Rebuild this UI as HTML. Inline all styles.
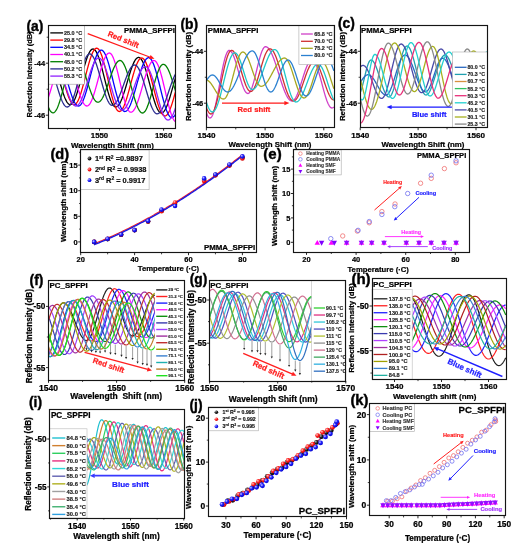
<!DOCTYPE html>
<html><head><meta charset="utf-8"><title>Figure</title>
<style>html,body{margin:0;padding:0;background:#fff;} svg{display:block;}</style>
</head><body>
<svg width="517" height="550" viewBox="0 0 517 550" font-family='"Liberation Sans", Arial, sans-serif' font-weight="bold">
<defs><clipPath id="ca"><rect x="48.3" y="25.3" width="127.50000000000001" height="102.89999999999999"/></clipPath><clipPath id="cb"><rect x="206.4" y="25.3" width="127.70000000000002" height="102.5"/></clipPath><clipPath id="cc"><rect x="360.2" y="25.3" width="127.19999999999999" height="102.4"/></clipPath><clipPath id="cf"><rect x="48.5" y="280.9" width="106.30000000000001" height="99.40000000000003"/></clipPath><clipPath id="cg"><rect x="209.6" y="281.2" width="136.20000000000002" height="99.80000000000001"/></clipPath><clipPath id="ch"><rect x="372.0" y="279.4" width="134.0" height="100.10000000000002"/></clipPath><clipPath id="ci"><rect x="87.0" y="409.8" width="97.5" height="108.19999999999999"/></clipPath>
<radialGradient id="gk" cx="0.35" cy="0.35" r="0.7"><stop offset="0" stop-color="#bbb"/><stop offset="0.45" stop-color="#222"/><stop offset="1" stop-color="#000"/></radialGradient>
<radialGradient id="gr" cx="0.35" cy="0.35" r="0.7"><stop offset="0" stop-color="#ffd0d0"/><stop offset="0.45" stop-color="#ff2020"/><stop offset="1" stop-color="#d00000"/></radialGradient>
<radialGradient id="gb" cx="0.35" cy="0.35" r="0.7"><stop offset="0" stop-color="#d0d0ff"/><stop offset="0.45" stop-color="#2020ff"/><stop offset="1" stop-color="#0000c8"/></radialGradient>
</defs>
<rect width="517" height="550" fill="#fff"/>
<polyline points="48.30,52.20 48.80,52.49 49.30,52.90 49.80,53.43 50.30,54.07 50.80,54.83 51.30,55.71 51.80,56.69 52.30,57.77 52.80,58.95 53.30,60.22 53.80,61.58 54.30,63.02 54.80,64.53 55.30,66.10 55.80,67.74 56.30,69.42 56.80,71.14 57.30,72.90 57.80,74.69 58.30,76.49 58.80,78.30 59.30,80.11 59.80,81.91 60.30,83.70 60.80,85.46 61.30,87.18 61.80,88.86 62.30,90.50 62.80,92.07 63.30,93.58 63.80,95.02 64.30,96.38 64.80,97.65 65.30,98.83 65.80,99.91 66.30,100.89 66.80,101.77 67.30,102.53 67.80,103.17 68.30,103.70 68.80,104.11 69.30,104.40 69.80,104.56 70.30,104.60 70.80,104.51 71.30,104.28 71.80,103.93 72.30,103.44 72.80,102.84 73.30,102.10 73.80,101.25 74.30,100.28 74.80,99.20 75.30,98.01 75.80,96.73 76.30,95.34 76.80,93.88 77.30,92.32 77.80,90.70 78.30,89.01 78.80,87.26 79.30,85.46 79.80,83.62 80.30,81.75 80.80,79.86 81.30,77.95 81.80,76.03 82.30,74.12 82.80,72.22 83.30,70.35 83.80,68.50 84.30,66.69 84.80,64.94 85.30,63.23 85.80,61.59 86.30,60.03 86.80,58.54 87.30,57.14 87.80,55.84 88.30,54.63 88.80,53.53 89.30,52.54 89.80,51.66 90.30,50.90 90.80,50.27 91.30,49.76 91.80,49.38 92.30,49.13 92.80,49.01 93.30,49.02 93.80,49.18 94.30,49.46 94.80,49.89 95.30,50.44 95.80,51.13 96.30,51.95 96.80,52.89 97.30,53.94 97.80,55.11 98.30,56.40 98.80,57.78 99.30,59.26 99.80,60.83 100.30,62.47 100.80,64.20 101.30,65.99 101.80,67.83 102.30,69.73 102.80,71.66 103.30,73.62 103.80,75.61 104.30,77.60 104.80,79.60 105.30,81.59 105.80,83.56 106.30,85.51 106.80,87.42 107.30,89.28 107.80,91.09 108.30,92.84 108.80,94.52 109.30,96.13 109.80,97.64 110.30,99.06 110.80,100.39 111.30,101.60 111.80,102.71 112.30,103.69 112.80,104.56 113.30,105.30 113.80,105.91 114.30,106.38 114.80,106.73 115.30,106.93 115.80,107.00 116.30,106.94 116.80,106.76 117.30,106.47 117.80,106.06 118.30,105.54 118.80,104.91 119.30,104.17 119.80,103.33 120.30,102.38 120.80,101.34 121.30,100.21 121.80,99.00 122.30,97.70 122.80,96.33 123.30,94.89 123.80,93.40 124.30,91.85 124.80,90.25 125.30,88.62 125.80,86.95 126.30,85.27 126.80,83.57 127.30,81.86 127.80,80.15 128.30,78.46 128.80,76.78 129.30,75.12 129.80,73.50 130.30,71.93 130.80,70.40 131.30,68.92 131.80,67.51 132.30,66.17 132.80,64.91 133.30,63.72 133.80,62.63 134.30,61.63 134.80,60.72 135.30,59.92 135.80,59.22 136.30,58.64 136.80,58.16 137.30,57.80 137.80,57.55 138.30,57.42 138.80,57.41 139.30,57.53 139.80,57.78 140.30,58.16 140.80,58.67 141.30,59.30 141.80,60.06 142.30,60.94 142.80,61.93 143.30,63.03 143.80,64.24 144.30,65.54 144.80,66.94 145.30,68.43 145.80,69.99 146.30,71.63 146.80,73.34 147.30,75.09 147.80,76.90 148.30,78.75 148.80,80.62 149.30,82.52 149.80,84.43 150.30,86.35 150.80,88.26 151.30,90.15 151.80,92.02 152.30,93.86 152.80,95.66 153.30,97.41 153.80,99.10 154.30,100.72 154.80,102.28 155.30,103.74 155.80,105.13 156.30,106.41 156.80,107.60 157.30,108.68 157.80,109.65 158.30,110.50 158.80,111.24 159.30,111.84 159.80,112.33 160.30,112.68 160.80,112.91 161.30,113.00 161.80,112.96 162.30,112.80 162.80,112.52 163.30,112.12 163.80,111.59 164.30,110.96 164.80,110.20 165.30,109.34 165.80,108.38 166.30,107.31 166.80,106.15 167.30,104.89 167.80,103.56 168.30,102.14 168.80,100.66 169.30,99.11 169.80,97.50 170.30,95.85 170.80,94.16 171.30,92.43 171.80,90.68 172.30,88.92 172.80,87.15 173.30,85.38 173.80,83.62 174.30,81.88 174.80,80.16 175.30,78.48 175.80,76.85" fill="none" stroke="#000000" stroke-width="1.3" stroke-linejoin="round" clip-path="url(#ca)"/>
<polyline points="48.30,54.91 48.80,54.13 49.30,53.46 49.80,52.92 50.30,52.50 50.80,52.21 51.30,52.04 51.80,52.00 52.30,52.09 52.80,52.31 53.30,52.65 53.80,53.12 54.30,53.71 54.80,54.43 55.30,55.25 55.80,56.19 56.30,57.24 56.80,58.39 57.30,59.64 57.80,60.98 58.30,62.40 58.80,63.90 59.30,65.47 59.80,67.10 60.30,68.79 60.80,70.52 61.30,72.29 61.80,74.10 62.30,75.92 62.80,77.75 63.30,79.58 63.80,81.41 64.30,83.23 64.80,85.02 65.30,86.78 65.80,88.49 66.30,90.16 66.80,91.77 67.30,93.31 67.80,94.78 68.30,96.17 68.80,97.47 69.30,98.68 69.80,99.79 70.30,100.80 70.80,101.69 71.30,102.47 71.80,103.14 72.30,103.68 72.80,104.10 73.30,104.39 73.80,104.56 74.30,104.60 74.80,104.50 75.30,104.27 75.80,103.90 76.30,103.40 76.80,102.76 77.30,102.00 77.80,101.11 78.30,100.10 78.80,98.98 79.30,97.75 79.80,96.41 80.30,94.98 80.80,93.45 81.30,91.84 81.80,90.16 82.30,88.41 82.80,86.60 83.30,84.74 83.80,82.84 84.30,80.91 84.80,78.96 85.30,76.99 85.80,75.02 86.30,73.06 86.80,71.12 87.30,69.20 87.80,67.31 88.30,65.47 88.80,63.69 89.30,61.96 89.80,60.31 90.30,58.73 90.80,57.24 91.30,55.84 91.80,54.55 92.30,53.36 92.80,52.28 93.30,51.32 93.80,50.48 94.30,49.77 94.80,49.19 95.30,48.74 95.80,48.42 96.30,48.24 96.80,48.20 97.30,48.31 97.80,48.57 98.30,48.98 98.80,49.54 99.30,50.24 99.80,51.09 100.30,52.08 100.80,53.20 101.30,54.45 101.80,55.83 102.30,57.32 102.80,58.91 103.30,60.61 103.80,62.40 104.30,64.28 104.80,66.23 105.30,68.25 105.80,70.32 106.30,72.44 106.80,74.59 107.30,76.78 107.80,78.97 108.30,81.17 108.80,83.36 109.30,85.54 109.80,87.69 110.30,89.80 110.80,91.86 111.30,93.86 111.80,95.80 112.30,97.66 112.80,99.44 113.30,101.12 113.80,102.69 114.30,104.16 114.80,105.51 115.30,106.73 115.80,107.83 116.30,108.79 116.80,109.61 117.30,110.28 117.80,110.81 118.30,111.19 118.80,111.42 119.30,111.50 119.80,111.43 120.30,111.24 120.80,110.91 121.30,110.45 121.80,109.87 122.30,109.17 122.80,108.34 123.30,107.40 123.80,106.35 124.30,105.19 124.80,103.93 125.30,102.57 125.80,101.13 126.30,99.61 126.80,98.02 127.30,96.36 127.80,94.64 128.30,92.87 128.80,91.07 129.30,89.23 129.80,87.37 130.30,85.50 130.80,83.62 131.30,81.75 131.80,79.90 132.30,78.07 132.80,76.27 133.30,74.51 133.80,72.81 134.30,71.16 134.80,69.58 135.30,68.07 135.80,66.65 136.30,65.31 136.80,64.07 137.30,62.93 137.80,61.90 138.30,60.98 138.80,60.18 139.30,59.50 139.80,58.94 140.30,58.51 140.80,58.21 141.30,58.04 141.80,58.00 142.30,58.10 142.80,58.32 143.30,58.68 143.80,59.16 144.30,59.78 144.80,60.52 145.30,61.38 145.80,62.36 146.30,63.45 146.80,64.65 147.30,65.95 147.80,67.34 148.30,68.83 148.80,70.40 149.30,72.05 149.80,73.76 150.30,75.54 150.80,77.37 151.30,79.24 151.80,81.15 152.30,83.08 152.80,85.04 153.30,87.00 153.80,88.96 154.30,90.92 154.80,92.85 155.30,94.76 155.80,96.63 156.30,98.46 156.80,100.24 157.30,101.95 157.80,103.60 158.30,105.17 158.80,106.66 159.30,108.05 159.80,109.35 160.30,110.55 160.80,111.64 161.30,112.62 161.80,113.48 162.30,114.22 162.80,114.84 163.30,115.32 163.80,115.68 164.30,115.90 164.80,116.00 165.30,115.96 165.80,115.79 166.30,115.49 166.80,115.06 167.30,114.50 167.80,113.82 168.30,113.02 168.80,112.11 169.30,111.08 169.80,109.94 170.30,108.71 170.80,107.38 171.30,105.96 171.80,104.46 172.30,102.89 172.80,101.26 173.30,99.56 173.80,97.82 174.30,96.04 174.80,94.23 175.30,92.40 175.80,90.55" fill="none" stroke="#ff0000" stroke-width="1.3" stroke-linejoin="round" clip-path="url(#ca)"/>
<polyline points="48.30,65.59 48.80,64.15 49.30,62.78 49.80,61.49 50.30,60.29 50.80,59.18 51.30,58.16 51.80,57.25 52.30,56.44 52.80,55.75 53.30,55.17 53.80,54.70 54.30,54.35 54.80,54.12 55.30,54.01 55.80,54.02 56.30,54.16 56.80,54.41 57.30,54.78 57.80,55.27 58.30,55.88 58.80,56.60 59.30,57.42 59.80,58.36 60.30,59.39 60.80,60.52 61.30,61.74 61.80,63.05 62.30,64.43 62.80,65.89 63.30,67.41 63.80,68.99 64.30,70.63 64.80,72.30 65.30,74.02 65.80,75.76 66.30,77.52 66.80,79.29 67.30,81.07 67.80,82.84 68.30,84.59 68.80,86.33 69.30,88.03 69.80,89.70 70.30,91.33 70.80,92.90 71.30,94.41 71.80,95.85 72.30,97.22 72.80,98.51 73.30,99.71 73.80,100.82 74.30,101.84 74.80,102.75 75.30,103.56 75.80,104.25 76.30,104.83 76.80,105.30 77.30,105.65 77.80,105.88 78.30,105.99 78.80,105.98 79.30,105.83 79.80,105.55 80.30,105.14 80.80,104.60 81.30,103.93 81.80,103.14 82.30,102.22 82.80,101.20 83.30,100.06 83.80,98.81 84.30,97.47 84.80,96.03 85.30,94.51 85.80,92.91 86.30,91.24 86.80,89.50 87.30,87.71 87.80,85.87 88.30,84.00 88.80,82.10 89.30,80.18 89.80,78.24 90.30,76.31 90.80,74.39 91.30,72.48 91.80,70.60 92.30,68.75 92.80,66.95 93.30,65.21 93.80,63.52 94.30,61.90 94.80,60.37 95.30,58.91 95.80,57.55 96.30,56.28 96.80,55.12 97.30,54.07 97.80,53.14 98.30,52.32 98.80,51.63 99.30,51.06 99.80,50.62 100.30,50.32 100.80,50.14 101.30,50.10 101.80,50.20 102.30,50.43 102.80,50.79 103.30,51.28 103.80,51.91 104.30,52.66 104.80,53.53 105.30,54.52 105.80,55.63 106.30,56.85 106.80,58.18 107.30,59.60 107.80,61.12 108.30,62.72 108.80,64.41 109.30,66.16 109.80,67.98 110.30,69.86 110.80,71.78 111.30,73.74 111.80,75.74 112.30,77.75 112.80,79.78 113.30,81.82 113.80,83.85 114.30,85.86 114.80,87.86 115.30,89.82 115.80,91.74 116.30,93.62 116.80,95.44 117.30,97.19 117.80,98.88 118.30,100.48 118.80,102.00 119.30,103.42 119.80,104.75 120.30,105.97 120.80,107.08 121.30,108.07 121.80,108.94 122.30,109.69 122.80,110.32 123.30,110.81 123.80,111.17 124.30,111.40 124.80,111.50 125.30,111.46 125.80,111.31 126.30,111.04 126.80,110.65 127.30,110.15 127.80,109.54 128.30,108.81 128.80,107.98 129.30,107.05 129.80,106.02 130.30,104.90 130.80,103.68 131.30,102.39 131.80,101.01 132.30,99.56 132.80,98.05 133.30,96.48 133.80,94.85 134.30,93.18 134.80,91.48 135.30,89.74 135.80,87.98 136.30,86.20 136.80,84.42 137.30,82.64 137.80,80.87 138.30,79.11 138.80,77.38 139.30,75.68 139.80,74.02 140.30,72.40 140.80,70.84 141.30,69.34 141.80,67.91 142.30,66.55 142.80,65.27 143.30,64.07 143.80,62.96 144.30,61.95 144.80,61.04 145.30,60.23 145.80,59.53 146.30,58.94 146.80,58.46 147.30,58.10 147.80,57.85 148.30,57.72 148.80,57.71 149.30,57.83 149.80,58.09 150.30,58.49 150.80,59.02 151.30,59.68 151.80,60.47 152.30,61.38 152.80,62.41 153.30,63.56 153.80,64.82 154.30,66.19 154.80,67.65 155.30,69.20 155.80,70.84 156.30,72.56 156.80,74.34 157.30,76.19 157.80,78.09 158.30,80.03 158.80,82.01 159.30,84.01 159.80,86.03 160.30,88.06 160.80,90.08 161.30,92.09 161.80,94.09 162.30,96.05 162.80,97.98 163.30,99.86 163.80,101.68 164.30,103.44 164.80,105.12 165.30,106.73 165.80,108.25 166.30,109.67 166.80,110.99 167.30,112.21 167.80,113.31 168.30,114.30 168.80,115.16 169.30,115.90 169.80,116.51 170.30,116.98 170.80,117.33 171.30,117.53 171.80,117.60 172.30,117.54 172.80,117.34 173.30,117.02 173.80,116.57 174.30,116.00 174.80,115.31 175.30,114.50 175.80,113.58" fill="none" stroke="#0000ff" stroke-width="1.3" stroke-linejoin="round" clip-path="url(#ca)"/>
<polyline points="48.30,97.42 48.80,96.04 49.30,94.57 49.80,93.04 50.30,91.45 50.80,89.80 51.30,88.11 51.80,86.37 52.30,84.61 52.80,82.83 53.30,81.04 53.80,79.24 54.30,77.45 54.80,75.68 55.30,73.93 55.80,72.21 56.30,70.53 56.80,68.91 57.30,67.34 57.80,65.83 58.30,64.40 58.80,63.05 59.30,61.78 59.80,60.61 60.30,59.54 60.80,58.57 61.30,57.71 61.80,56.96 62.30,56.33 62.80,55.82 63.30,55.43 63.80,55.16 64.30,55.02 64.80,55.01 65.30,55.12 65.80,55.36 66.30,55.73 66.80,56.21 67.30,56.82 67.80,57.55 68.30,58.39 68.80,59.34 69.30,60.39 69.80,61.54 70.30,62.79 70.80,64.12 71.30,65.54 71.80,67.03 72.30,68.59 72.80,70.20 73.30,71.87 73.80,73.58 74.30,75.33 74.80,77.10 75.30,78.88 75.80,80.68 76.30,82.47 76.80,84.26 77.30,86.02 77.80,87.76 78.30,89.46 78.80,91.12 79.30,92.73 79.80,94.27 80.30,95.75 80.80,97.15 81.30,98.47 81.80,99.70 82.30,100.83 82.80,101.86 83.30,102.79 83.80,103.61 84.30,104.31 84.80,104.89 85.30,105.35 85.80,105.69 86.30,105.91 86.80,106.00 87.30,105.96 87.80,105.79 88.30,105.49 88.80,105.06 89.30,104.51 89.80,103.84 90.30,103.04 90.80,102.13 91.30,101.11 91.80,99.98 92.30,98.76 92.80,97.43 93.30,96.02 93.80,94.53 94.30,92.96 94.80,91.33 95.30,89.64 95.80,87.90 96.30,86.12 96.80,84.30 97.30,82.47 97.80,80.61 98.30,78.76 98.80,76.90 99.30,75.06 99.80,73.24 100.30,71.45 100.80,69.70 101.30,68.00 101.80,66.36 102.30,64.78 102.80,63.27 103.30,61.84 103.80,60.50 104.30,59.25 104.80,58.10 105.30,57.06 105.80,56.13 106.30,55.31 106.80,54.61 107.30,54.04 107.80,53.58 108.30,53.26 108.80,53.07 109.30,53.00 109.80,53.08 110.30,53.31 110.80,53.70 111.30,54.24 111.80,54.94 112.30,55.77 112.80,56.75 113.30,57.87 113.80,59.12 114.30,60.49 114.80,61.98 115.30,63.57 115.80,65.27 116.30,67.06 116.80,68.93 117.30,70.88 117.80,72.88 118.30,74.94 118.80,77.04 119.30,79.16 119.80,81.31 120.30,83.46 120.80,85.61 121.30,87.74 121.80,89.84 122.30,91.91 122.80,93.93 123.30,95.88 123.80,97.77 124.30,99.58 124.80,101.29 125.30,102.91 125.80,104.42 126.30,105.82 126.80,107.09 127.30,108.23 127.80,109.24 128.30,110.11 128.80,110.83 129.30,111.40 129.80,111.82 130.30,112.09 130.80,112.20 131.30,112.16 131.80,112.01 132.30,111.73 132.80,111.34 133.30,110.84 133.80,110.22 134.30,109.49 134.80,108.65 135.30,107.71 135.80,106.67 136.30,105.54 136.80,104.32 137.30,103.01 137.80,101.63 138.30,100.18 138.80,98.66 139.30,97.09 139.80,95.47 140.30,93.80 140.80,92.10 141.30,90.38 141.80,88.63 142.30,86.88 142.80,85.12 143.30,83.37 143.80,81.63 144.30,79.91 144.80,78.23 145.30,76.58 145.80,74.98 146.30,73.42 146.80,71.93 147.30,70.51 147.80,69.16 148.30,67.89 148.80,66.70 149.30,65.60 149.80,64.60 150.30,63.70 150.80,62.91 151.30,62.22 151.80,61.65 152.30,61.19 152.80,60.84 153.30,60.62 153.80,60.51 154.30,60.53 154.80,60.69 155.30,61.01 155.80,61.47 156.30,62.07 156.80,62.82 157.30,63.71 157.80,64.73 158.30,65.88 158.80,67.15 159.30,68.54 159.80,70.04 160.30,71.65 160.80,73.35 161.30,75.14 161.80,77.00 162.30,78.94 162.80,80.93 163.30,82.98 163.80,85.07 164.30,87.18 164.80,89.32 165.30,91.46 165.80,93.61 166.30,95.74 166.80,97.85 167.30,99.93 167.80,101.97 168.30,103.95 168.80,105.88 169.30,107.73 169.80,109.50 170.30,111.18 170.80,112.76 171.30,114.24 171.80,115.61 172.30,116.86 172.80,117.99 173.30,118.98 173.80,119.84 174.30,120.56 174.80,121.14 175.30,121.57 175.80,121.85" fill="none" stroke="#ff00ff" stroke-width="1.3" stroke-linejoin="round" clip-path="url(#ca)"/>
<polyline points="48.30,107.00 48.80,108.14 49.30,109.16 49.80,110.06 50.30,110.84 50.80,111.49 51.30,112.02 51.80,112.41 52.30,112.67 52.80,112.79 53.30,112.78 53.80,112.63 54.30,112.34 54.80,111.92 55.30,111.37 55.80,110.69 56.30,109.89 56.80,108.96 57.30,107.92 57.80,106.77 58.30,105.50 58.80,104.14 59.30,102.68 59.80,101.14 60.30,99.52 60.80,97.83 61.30,96.07 61.80,94.26 62.30,92.40 62.80,90.51 63.30,88.59 63.80,86.65 64.30,84.71 64.80,82.76 65.30,80.82 65.80,78.91 66.30,77.02 66.80,75.17 67.30,73.37 67.80,71.63 68.30,69.95 68.80,68.34 69.30,66.82 69.80,65.38 70.30,64.04 70.80,62.80 71.30,61.66 71.80,60.64 72.30,59.74 72.80,58.96 73.30,58.31 73.80,57.78 74.30,57.39 74.80,57.13 75.30,57.01 75.80,57.02 76.30,57.14 76.80,57.37 77.30,57.72 77.80,58.17 78.30,58.72 78.80,59.38 79.30,60.13 79.80,60.99 80.30,61.93 80.80,62.96 81.30,64.07 81.80,65.26 82.30,66.52 82.80,67.85 83.30,69.23 83.80,70.66 84.30,72.14 84.80,73.65 85.30,75.19 85.80,76.75 86.30,78.33 86.80,79.92 87.30,81.50 87.80,83.07 88.30,84.63 88.80,86.16 89.30,87.66 89.80,89.12 90.30,90.53 90.80,91.89 91.30,93.19 91.80,94.42 92.30,95.58 92.80,96.66 93.30,97.66 93.80,98.57 94.30,99.38 94.80,100.10 95.30,100.71 95.80,101.23 96.30,101.63 96.80,101.93 97.30,102.12 97.80,102.20 98.30,102.17 98.80,102.03 99.30,101.79 99.80,101.44 100.30,101.00 100.80,100.45 101.30,99.81 101.80,99.08 102.30,98.25 102.80,97.34 103.30,96.35 103.80,95.29 104.30,94.15 104.80,92.95 105.30,91.69 105.80,90.38 106.30,89.02 106.80,87.62 107.30,86.20 107.80,84.74 108.30,83.27 108.80,81.79 109.30,80.31 109.80,78.84 110.30,77.37 110.80,75.93 111.30,74.51 111.80,73.13 112.30,71.79 112.80,70.50 113.30,69.26 113.80,68.09 114.30,66.98 114.80,65.94 115.30,64.98 115.80,64.11 116.30,63.32 116.80,62.62 117.30,62.02 117.80,61.51 118.30,61.11 118.80,60.80 119.30,60.60 119.80,60.51 120.30,60.52 120.80,60.66 121.30,60.93 121.80,61.32 122.30,61.84 122.80,62.48 123.30,63.24 123.80,64.11 124.30,65.09 124.80,66.18 125.30,67.37 125.80,68.65 126.30,70.02 126.80,71.47 127.30,73.00 127.80,74.59 128.30,76.24 128.80,77.94 129.30,79.69 129.80,81.47 130.30,83.28 130.80,85.10 131.30,86.93 131.80,88.76 132.30,90.58 132.80,92.39 133.30,94.16 133.80,95.90 134.30,97.59 134.80,99.24 135.30,100.82 135.80,102.33 136.30,103.76 136.80,105.12 137.30,106.38 137.80,107.55 138.30,108.61 138.80,109.57 139.30,110.42 139.80,111.16 140.30,111.77 140.80,112.26 141.30,112.63 141.80,112.87 142.30,112.99 142.80,112.98 143.30,112.82 143.80,112.53 144.30,112.11 144.80,111.55 145.30,110.85 145.80,110.04 146.30,109.10 146.80,108.04 147.30,106.88 147.80,105.61 148.30,104.24 148.80,102.78 149.30,101.25 149.80,99.64 150.30,97.97 150.80,96.24 151.30,94.48 151.80,92.68 152.30,90.85 152.80,89.02 153.30,87.18 153.80,85.35 154.30,83.54 154.80,81.76 155.30,80.02 155.80,78.32 156.30,76.69 156.80,75.12 157.30,73.63 157.80,72.23 158.30,70.92 158.80,69.71 159.30,68.61 159.80,67.62 160.30,66.76 160.80,66.02 161.30,65.40 161.80,64.92 162.30,64.58 162.80,64.37 163.30,64.30 163.80,64.36 164.30,64.53 164.80,64.81 165.30,65.21 165.80,65.71 166.30,66.33 166.80,67.04 167.30,67.86 167.80,68.78 168.30,69.79 168.80,70.88 169.30,72.06 169.80,73.32 170.30,74.64 170.80,76.03 171.30,77.48 171.80,78.98 172.30,80.53 172.80,82.11 173.30,83.72 173.80,85.35 174.30,87.00 174.80,88.65 175.30,90.29 175.80,91.93" fill="none" stroke="#008000" stroke-width="1.3" stroke-linejoin="round" clip-path="url(#ca)"/>
<polyline points="48.30,61.03 48.80,61.91 49.30,62.88 49.80,63.95 50.30,65.12 50.80,66.36 51.30,67.69 51.80,69.08 52.30,70.55 52.80,72.07 53.30,73.64 53.80,75.26 54.30,76.91 54.80,78.58 55.30,80.28 55.80,81.99 56.30,83.70 56.80,85.40 57.30,87.09 57.80,88.76 58.30,90.40 58.80,91.99 59.30,93.55 59.80,95.05 60.30,96.48 60.80,97.85 61.30,99.15 61.80,100.36 62.30,101.49 62.80,102.52 63.30,103.46 63.80,104.29 64.30,105.02 64.80,105.64 65.30,106.14 65.80,106.53 66.30,106.81 66.80,106.96 67.30,107.00 67.80,106.91 68.30,106.69 68.80,106.34 69.30,105.87 69.80,105.27 70.30,104.55 70.80,103.72 71.30,102.77 71.80,101.71 72.30,100.55 72.80,99.29 73.30,97.94 73.80,96.50 74.30,94.99 74.80,93.40 75.30,91.75 75.80,90.05 76.30,88.30 76.80,86.51 77.30,84.69 77.80,82.86 78.30,81.01 78.80,79.15 79.30,77.31 79.80,75.48 80.30,73.67 80.80,71.89 81.30,70.16 81.80,68.48 82.30,66.86 82.80,65.30 83.30,63.81 83.80,62.41 84.30,61.10 84.80,59.88 85.30,58.75 85.80,57.74 86.30,56.84 86.80,56.05 87.30,55.38 87.80,54.83 88.30,54.41 88.80,54.11 89.30,53.94 89.80,53.90 90.30,53.99 90.80,54.20 91.30,54.54 91.80,55.00 92.30,55.58 92.80,56.27 93.30,57.09 93.80,58.01 94.30,59.03 94.80,60.16 95.30,61.38 95.80,62.69 96.30,64.08 96.80,65.55 97.30,67.09 97.80,68.69 98.30,70.34 98.80,72.04 99.30,73.77 99.80,75.53 100.30,77.32 100.80,79.11 101.30,80.91 101.80,82.70 102.30,84.48 102.80,86.23 103.30,87.95 103.80,89.63 104.30,91.26 104.80,92.84 105.30,94.35 105.80,95.79 106.30,97.15 106.80,98.42 107.30,99.60 107.80,100.69 108.30,101.68 108.80,102.55 109.30,103.32 109.80,103.97 110.30,104.50 110.80,104.91 111.30,105.20 111.80,105.36 112.30,105.40 112.80,105.33 113.30,105.16 113.80,104.90 114.30,104.54 114.80,104.08 115.30,103.54 115.80,102.90 116.30,102.18 116.80,101.37 117.30,100.49 117.80,99.53 118.30,98.51 118.80,97.41 119.30,96.26 119.80,95.05 120.30,93.80 120.80,92.50 121.30,91.17 121.80,89.81 122.30,88.43 122.80,87.03 123.30,85.62 123.80,84.21 124.30,82.81 124.80,81.41 125.30,80.04 125.80,78.69 126.30,77.37 126.80,76.09 127.30,74.86 127.80,73.67 128.30,72.54 128.80,71.48 129.30,70.47 129.80,69.55 130.30,68.69 130.80,67.92 131.30,67.23 131.80,66.63 132.30,66.12 132.80,65.71 133.30,65.38 133.80,65.16 134.30,65.03 134.80,65.00 135.30,65.09 135.80,65.29 136.30,65.61 136.80,66.04 137.30,66.59 137.80,67.25 138.30,68.02 138.80,68.89 139.30,69.86 139.80,70.93 140.30,72.09 140.80,73.33 141.30,74.65 141.80,76.04 142.30,77.50 142.80,79.01 143.30,80.58 143.80,82.18 144.30,83.83 144.80,85.50 145.30,87.19 145.80,88.89 146.30,90.59 146.80,92.29 147.30,93.97 147.80,95.63 148.30,97.26 148.80,98.86 149.30,100.40 149.80,101.89 150.30,103.33 150.80,104.69 151.30,105.98 151.80,107.19 152.30,108.31 152.80,109.34 153.30,110.27 153.80,111.10 154.30,111.83 154.80,112.44 155.30,112.95 155.80,113.34 156.30,113.61 156.80,113.76 157.30,113.80 157.80,113.73 158.30,113.55 158.80,113.27 159.30,112.89 159.80,112.41 160.30,111.83 160.80,111.16 161.30,110.40 161.80,109.55 162.30,108.61 162.80,107.60 163.30,106.51 163.80,105.35 164.30,104.13 164.80,102.85 165.30,101.52 165.80,100.14 166.30,98.72 166.80,97.28 167.30,95.80 167.80,94.31 168.30,92.81 168.80,91.30 169.30,89.79 169.80,88.30 170.30,86.82 170.80,85.36 171.30,83.94 171.80,82.55 172.30,81.21 172.80,79.92 173.30,78.69 173.80,77.52 174.30,76.41 174.80,75.39 175.30,74.43 175.80,73.57" fill="none" stroke="#2a2a90" stroke-width="1.3" stroke-linejoin="round" clip-path="url(#ca)"/>
<polyline points="48.30,61.68 48.80,60.88 49.30,60.16 49.80,59.55 50.30,59.03 50.80,58.62 51.30,58.31 51.80,58.11 52.30,58.01 52.80,58.02 53.30,58.14 53.80,58.36 54.30,58.69 54.80,59.13 55.30,59.66 55.80,60.30 56.30,61.03 56.80,61.86 57.30,62.77 57.80,63.78 58.30,64.86 58.80,66.02 59.30,67.25 59.80,68.55 60.30,69.91 60.80,71.32 61.30,72.78 61.80,74.28 62.30,75.81 62.80,77.38 63.30,78.96 63.80,80.56 64.30,82.16 64.80,83.76 65.30,85.36 65.80,86.94 66.30,88.50 66.80,90.02 67.30,91.52 67.80,92.97 68.30,94.37 68.80,95.71 69.30,97.00 69.80,98.22 70.30,99.36 70.80,100.43 71.30,101.42 71.80,102.32 72.30,103.12 72.80,103.84 73.30,104.45 73.80,104.97 74.30,105.38 74.80,105.69 75.30,105.89 75.80,105.99 76.30,105.98 76.80,105.85 77.30,105.61 77.80,105.26 78.30,104.79 78.80,104.22 79.30,103.54 79.80,102.76 80.30,101.87 80.80,100.90 81.30,99.83 81.80,98.67 82.30,97.44 82.80,96.13 83.30,94.76 83.80,93.32 84.30,91.83 84.80,90.30 85.30,88.72 85.80,87.11 86.30,85.48 86.80,83.83 87.30,82.17 87.80,80.51 88.30,78.85 88.80,77.22 89.30,75.60 89.80,74.02 90.30,72.47 90.80,70.97 91.30,69.52 91.80,68.14 92.30,66.81 92.80,65.57 93.30,64.40 93.80,63.31 94.30,62.31 94.80,61.41 95.30,60.61 95.80,59.91 96.30,59.31 96.80,58.82 97.30,58.45 97.80,58.19 98.30,58.04 98.80,58.00 99.30,58.09 99.80,58.29 100.30,58.60 100.80,59.04 101.30,59.58 101.80,60.24 102.30,61.00 102.80,61.87 103.30,62.84 103.80,63.91 104.30,65.07 104.80,66.31 105.30,67.63 105.80,69.03 106.30,70.50 106.80,72.02 107.30,73.61 107.80,75.24 108.30,76.90 108.80,78.61 109.30,80.33 109.80,82.07 110.30,83.82 110.80,85.58 111.30,87.32 111.80,89.05 112.30,90.76 112.80,92.43 113.30,94.07 113.80,95.66 114.30,97.20 114.80,98.68 115.30,100.09 115.80,101.43 116.30,102.69 116.80,103.87 117.30,104.95 117.80,105.94 118.30,106.83 118.80,107.62 119.30,108.30 119.80,108.86 120.30,109.32 120.80,109.66 121.30,109.88 121.80,109.99 122.30,109.98 122.80,109.88 123.30,109.67 123.80,109.37 124.30,108.98 124.80,108.50 125.30,107.92 125.80,107.26 126.30,106.51 126.80,105.68 127.30,104.78 127.80,103.80 128.30,102.75 128.80,101.63 129.30,100.46 129.80,99.23 130.30,97.96 130.80,96.64 131.30,95.28 131.80,93.89 132.30,92.48 132.80,91.05 133.30,89.60 133.80,88.15 134.30,86.71 134.80,85.26 135.30,83.84 135.80,82.43 136.30,81.04 136.80,79.70 137.30,78.38 137.80,77.12 138.30,75.90 138.80,74.74 139.30,73.64 139.80,72.60 140.30,71.64 140.80,70.74 141.30,69.93 141.80,69.20 142.30,68.56 142.80,68.00 143.30,67.53 143.80,67.16 144.30,66.88 144.80,66.69 145.30,66.61 145.80,66.62 146.30,66.77 146.80,67.04 147.30,67.44 147.80,67.97 148.30,68.61 148.80,69.38 149.30,70.27 149.80,71.27 150.30,72.38 150.80,73.58 151.30,74.89 151.80,76.28 152.30,77.76 152.80,79.31 153.30,80.93 153.80,82.61 154.30,84.34 154.80,86.12 155.30,87.93 155.80,89.77 156.30,91.62 156.80,93.49 157.30,95.35 157.80,97.20 158.30,99.03 158.80,100.84 159.30,102.61 159.80,104.33 160.30,106.00 160.80,107.61 161.30,109.14 161.80,110.60 162.30,111.98 162.80,113.27 163.30,114.45 163.80,115.54 164.30,116.52 164.80,117.38 165.30,118.13 165.80,118.75 166.30,119.25 166.80,119.63 167.30,119.87 167.80,119.99 168.30,119.98 168.80,119.85 169.30,119.61 169.80,119.25 170.30,118.78 170.80,118.19 171.30,117.50 171.80,116.71 172.30,115.81 172.80,114.82 173.30,113.73 173.80,112.56 174.30,111.30 174.80,109.97 175.30,108.57 175.80,107.10" fill="none" stroke="#9020ff" stroke-width="1.3" stroke-linejoin="round" clip-path="url(#ca)"/>
<rect x="48.30" y="25.30" width="36.00" height="58.90" stroke="#999" stroke-width="0.6" fill="#fff"/>
<line x1="50.30" y1="32.90" x2="63.10" y2="32.90" stroke="#000000" stroke-width="1.3"/>
<text x="63.90" y="34.88" font-size="5.5" text-anchor="start" fill="#222" stroke="#222" stroke-width="0.154">25.0 °C</text>
<line x1="50.30" y1="40.10" x2="63.10" y2="40.10" stroke="#ff0000" stroke-width="1.3"/>
<text x="63.90" y="42.08" font-size="5.5" text-anchor="start" fill="#222" stroke="#222" stroke-width="0.154">29.8 °C</text>
<line x1="50.30" y1="47.30" x2="63.10" y2="47.30" stroke="#0000ff" stroke-width="1.3"/>
<text x="63.90" y="49.28" font-size="5.5" text-anchor="start" fill="#222" stroke="#222" stroke-width="0.154">34.5 °C</text>
<line x1="50.30" y1="54.50" x2="63.10" y2="54.50" stroke="#ff00ff" stroke-width="1.3"/>
<text x="63.90" y="56.48" font-size="5.5" text-anchor="start" fill="#222" stroke="#222" stroke-width="0.154">40.1 °C</text>
<line x1="50.30" y1="61.70" x2="63.10" y2="61.70" stroke="#008000" stroke-width="1.3"/>
<text x="63.90" y="63.68" font-size="5.5" text-anchor="start" fill="#222" stroke="#222" stroke-width="0.154">45.0 °C</text>
<line x1="50.30" y1="68.90" x2="63.10" y2="68.90" stroke="#2a2a90" stroke-width="1.3"/>
<text x="63.90" y="70.88" font-size="5.5" text-anchor="start" fill="#222" stroke="#222" stroke-width="0.154">50.2 °C</text>
<line x1="50.30" y1="76.10" x2="63.10" y2="76.10" stroke="#9020ff" stroke-width="1.3"/>
<text x="63.90" y="78.08" font-size="5.5" text-anchor="start" fill="#222" stroke="#222" stroke-width="0.154">55.3 °C</text>
<rect x="48.50" y="25.50" width="127.00" height="103.00" stroke="#151515" stroke-width="1.15" fill="none"/>
<line x1="45.80" y1="63.20" x2="48.30" y2="63.20" stroke="#111" stroke-width="0.9"/>
<text x="45.20" y="65.90" font-size="7.5" text-anchor="end" fill="#000" stroke="#000" stroke-width="0.210">-44</text>
<line x1="45.80" y1="115.20" x2="48.30" y2="115.20" stroke="#111" stroke-width="0.9"/>
<text x="45.20" y="117.90" font-size="7.5" text-anchor="end" fill="#000" stroke="#000" stroke-width="0.210">-46</text>
<line x1="46.70" y1="37.20" x2="48.30" y2="37.20" stroke="#111" stroke-width="0.8"/>
<line x1="46.70" y1="89.20" x2="48.30" y2="89.20" stroke="#111" stroke-width="0.8"/>
<line x1="99.50" y1="128.20" x2="99.50" y2="130.70" stroke="#111" stroke-width="0.9"/>
<text x="99.50" y="138.01" font-size="7.8" text-anchor="middle" fill="#000" stroke="#000" stroke-width="0.218">1550</text>
<line x1="163.60" y1="128.20" x2="163.60" y2="130.70" stroke="#111" stroke-width="0.9"/>
<text x="163.60" y="138.01" font-size="7.8" text-anchor="middle" fill="#000" stroke="#000" stroke-width="0.218">1560</text>
<line x1="67.45" y1="128.20" x2="67.45" y2="129.80" stroke="#111" stroke-width="0.8"/>
<line x1="131.55" y1="128.20" x2="131.55" y2="129.80" stroke="#111" stroke-width="0.8"/>
<text x="112.50" y="147.60" font-size="7.9" text-anchor="middle" fill="#000" stroke="#000" stroke-width="0.221">Wavelength Shift (nm)</text>
<g transform="translate(29.50 74.40) rotate(-90.00)"><text x="0" y="2.70" font-size="7.5" text-anchor="middle" fill="#000" stroke="#000" stroke-width="0.210">Reflection Intensity (dB)</text></g>
<text x="174.80" y="32.91" font-size="7.8" text-anchor="end" fill="#000" stroke="#000" stroke-width="0.218">PMMA_SPFPI</text>
<text x="26.50" y="30.50" font-size="13.8" text-anchor="start" fill="#000" stroke="#000" stroke-width="0.386">(a)</text>
<line x1="87.70" y1="33.60" x2="150.29" y2="57.21" stroke="#ff1a1a" stroke-width="1.2"/>
<polygon points="154.50,58.80 149.05,59.09 150.60,54.98" fill="#ff1a1a"/>
<g transform="translate(123.50 39.40) rotate(22.00)"><text x="0" y="2.77" font-size="7.7" text-anchor="middle" fill="#ff1a1a" stroke="#ff1a1a" stroke-width="0.216">Red shift</text></g>
<polyline points="206.40,112.30 206.90,113.74 207.40,114.99 207.90,116.02 208.40,116.85 208.90,117.45 209.40,117.84 209.90,118.00 210.40,117.93 210.90,117.63 211.40,117.12 211.90,116.38 212.40,115.43 212.90,114.27 213.40,112.90 213.90,111.35 214.40,109.61 214.90,107.71 215.40,105.64 215.90,103.44 216.40,101.10 216.90,98.65 217.40,96.11 217.90,93.48 218.40,90.79 218.90,88.06 219.40,85.31 219.90,82.54 220.40,79.79 220.90,77.06 221.40,74.39 221.90,71.78 222.40,69.25 222.90,66.82 223.40,64.51 223.90,62.33 224.40,60.30 224.90,58.43 225.40,56.73 225.90,55.21 226.40,53.89 226.90,52.77 227.40,51.86 227.90,51.16 228.40,50.69 228.90,50.44 229.40,50.41 229.90,50.55 230.40,50.84 230.90,51.27 231.40,51.86 231.90,52.58 232.40,53.44 232.90,54.43 233.40,55.55 233.90,56.78 234.40,58.11 234.90,59.55 235.40,61.07 235.90,62.67 236.40,64.33 236.90,66.05 237.40,67.81 237.90,69.60 238.40,71.41 238.90,73.22 239.40,75.02 239.90,76.80 240.40,78.54 240.90,80.24 241.40,81.88 241.90,83.45 242.40,84.94 242.90,86.33 243.40,87.63 243.90,88.81 244.40,89.88 244.90,90.82 245.40,91.63 245.90,92.29 246.40,92.82 246.90,93.20 247.40,93.42 247.90,93.50 248.40,93.41 248.90,93.13 249.40,92.67 249.90,92.02 250.40,91.21 250.90,90.22 251.40,89.08 251.90,87.78 252.40,86.35 252.90,84.78 253.40,83.10 253.90,81.31 254.40,79.44 254.90,77.49 255.40,75.48 255.90,73.43 256.40,71.35 256.90,69.26 257.40,67.18 257.90,65.13 258.40,63.11 258.90,61.15 259.40,59.25 259.90,57.45 260.40,55.74 260.90,54.15 261.40,52.69 261.90,51.37 262.40,50.19 262.90,49.18 263.40,48.32 263.90,47.65 264.40,47.15 264.90,46.83 265.40,46.70 265.90,46.73 266.40,46.85 266.90,47.07 267.40,47.39 267.90,47.79 268.40,48.29 268.90,48.88 269.40,49.55 269.90,50.31 270.40,51.15 270.90,52.08 271.40,53.07 271.90,54.15 272.40,55.29 272.90,56.49 273.40,57.76 273.90,59.09 274.40,60.46 274.90,61.88 275.40,63.35 275.90,64.85 276.40,66.38 276.90,67.94 277.40,69.52 277.90,71.12 278.40,72.72 278.90,74.33 279.40,75.94 279.90,77.54 280.40,79.13 280.90,80.70 281.40,82.24 281.90,83.75 282.40,85.23 282.90,86.68 283.40,88.07 283.90,89.42 284.40,90.71 284.90,91.94 285.40,93.10 285.90,94.20 286.40,95.23 286.90,96.19 287.40,97.06 287.90,97.86 288.40,98.56 288.90,99.19 289.40,99.72 289.90,100.16 290.40,100.51 290.90,100.77 291.40,100.93 291.90,101.00 292.40,100.96 292.90,100.80 293.40,100.51 293.90,100.09 294.40,99.56 294.90,98.91 295.40,98.15 295.90,97.27 296.40,96.30 296.90,95.22 297.40,94.06 297.90,92.81 298.40,91.48 298.90,90.09 299.40,88.64 299.90,87.14 300.40,85.60 300.90,84.02 301.40,82.43 301.90,80.82 302.40,79.21 302.90,77.61 303.40,76.03 303.90,74.47 304.40,72.95 304.90,71.48 305.40,70.06 305.90,68.71 306.40,67.43 306.90,66.23 307.40,65.12 307.90,64.11 308.40,63.19 308.90,62.38 309.40,61.69 309.90,61.11 310.40,60.64 310.90,60.31 311.40,60.09 311.90,60.00 312.40,60.05 312.90,60.24 313.40,60.58 313.90,61.06 314.40,61.69 314.90,62.45 315.40,63.34 315.90,64.36 316.40,65.51 316.90,66.76 317.40,68.13 317.90,69.59 318.40,71.14 318.90,72.77 319.40,74.47 319.90,76.23 320.40,78.03 320.90,79.87 321.40,81.74 321.90,83.62 322.40,85.51 322.90,87.38 323.40,89.24 323.90,91.06 324.40,92.83 324.90,94.56 325.40,96.22 325.90,97.80 326.40,99.30 326.90,100.70 327.40,102.00 327.90,103.19 328.40,104.26 328.90,105.21 329.40,106.03 329.90,106.71 330.40,107.25 330.90,107.64 331.40,107.89 331.90,108.00 332.40,107.95 332.90,107.76 333.40,107.42 333.90,106.94" fill="none" stroke="#d040c8" stroke-width="1.3" stroke-linejoin="round" clip-path="url(#cb)"/>
<polyline points="206.40,107.23 206.90,108.64 207.40,109.90 207.90,111.00 208.40,111.93 208.90,112.70 209.40,113.29 209.90,113.71 210.40,113.94 210.90,114.00 211.40,113.87 211.90,113.56 212.40,113.08 212.90,112.41 213.40,111.58 213.90,110.58 214.40,109.41 214.90,108.10 215.40,106.63 215.90,105.02 216.40,103.29 216.90,101.43 217.40,99.47 217.90,97.40 218.40,95.25 218.90,93.03 219.40,90.74 219.90,88.40 220.40,86.03 220.90,83.64 221.40,81.24 221.90,78.84 222.40,76.47 222.90,74.12 223.40,71.83 223.90,69.59 224.40,67.42 224.90,65.34 225.40,63.35 225.90,61.47 226.40,59.71 226.90,58.08 227.40,56.59 227.90,55.24 228.40,54.04 228.90,53.01 229.40,52.14 229.90,51.44 230.40,50.92 230.90,50.58 231.40,50.41 231.90,50.43 232.40,50.58 232.90,50.87 233.40,51.29 233.90,51.85 234.40,52.54 234.90,53.35 235.40,54.29 235.90,55.33 236.40,56.48 236.90,57.73 237.40,59.06 237.90,60.48 238.40,61.97 238.90,63.52 239.40,65.12 239.90,66.75 240.40,68.42 240.90,70.11 241.40,71.79 241.90,73.48 242.40,75.15 242.90,76.78 243.40,78.38 243.90,79.93 244.40,81.42 244.90,82.84 245.40,84.17 245.90,85.42 246.40,86.57 246.90,87.61 247.40,88.55 247.90,89.36 248.40,90.05 248.90,90.61 249.40,91.03 249.90,91.32 250.40,91.47 250.90,91.49 251.40,91.36 251.90,91.09 252.40,90.68 252.90,90.13 253.40,89.45 253.90,88.64 254.40,87.71 254.90,86.65 255.40,85.49 255.90,84.23 256.40,82.87 256.90,81.42 257.40,79.90 257.90,78.32 258.40,76.68 258.90,75.00 259.40,73.28 259.90,71.55 260.40,69.80 260.90,68.06 261.40,66.33 261.90,64.62 262.40,62.96 262.90,61.34 263.40,59.78 263.90,58.29 264.40,56.88 264.90,55.56 265.40,54.33 265.90,53.21 266.40,52.21 266.90,51.32 267.40,50.56 267.90,49.93 268.40,49.44 268.90,49.09 269.40,48.87 269.90,48.80 270.40,48.86 270.90,49.03 271.40,49.32 271.90,49.73 272.40,50.24 272.90,50.87 273.40,51.61 273.90,52.44 274.40,53.38 274.90,54.42 275.40,55.54 275.90,56.76 276.40,58.05 276.90,59.42 277.40,60.86 277.90,62.36 278.40,63.91 278.90,65.52 279.40,67.17 279.90,68.85 280.40,70.56 280.90,72.29 281.40,74.03 281.90,75.77 282.40,77.51 282.90,79.24 283.40,80.95 283.90,82.63 284.40,84.28 284.90,85.89 285.40,87.44 285.90,88.94 286.40,90.38 286.90,91.75 287.40,93.04 287.90,94.26 288.40,95.38 288.90,96.42 289.40,97.36 289.90,98.19 290.40,98.93 290.90,99.56 291.40,100.07 291.90,100.48 292.40,100.77 292.90,100.94 293.40,101.00 293.90,100.94 294.40,100.77 294.90,100.49 295.40,100.10 295.90,99.60 296.40,98.99 296.90,98.29 297.40,97.48 297.90,96.59 298.40,95.60 298.90,94.53 299.40,93.39 299.90,92.18 300.40,90.90 300.90,89.58 301.40,88.20 301.90,86.79 302.40,85.34 302.90,83.87 303.40,82.39 303.90,80.91 304.40,79.42 304.90,77.95 305.40,76.50 305.90,75.08 306.40,73.70 306.90,72.36 307.40,71.07 307.90,69.85 308.40,68.69 308.90,67.61 309.40,66.60 309.90,65.69 310.40,64.87 310.90,64.14 311.40,63.51 311.90,62.99 312.40,62.58 312.90,62.27 313.40,62.08 313.90,62.00 314.40,62.04 314.90,62.19 315.40,62.46 315.90,62.84 316.40,63.33 316.90,63.94 317.40,64.65 317.90,65.46 318.40,66.36 318.90,67.36 319.40,68.44 319.90,69.59 320.40,70.82 320.90,72.11 321.40,73.45 321.90,74.85 322.40,76.27 322.90,77.73 323.40,79.21 323.90,80.70 324.40,82.19 324.90,83.68 325.40,85.14 325.90,86.59 326.40,87.99 326.90,89.36 327.40,90.67 327.90,91.93 328.40,93.11 328.90,94.22 329.40,95.25 329.90,96.19 330.40,97.04 330.90,97.79 331.40,98.44 331.90,98.98 332.40,99.40 332.90,99.72 333.40,99.92 333.90,100.00" fill="none" stroke="#d03030" stroke-width="1.3" stroke-linejoin="round" clip-path="url(#cb)"/>
<polyline points="206.40,102.12 206.90,103.62 207.40,105.02 207.90,106.30 208.40,107.46 208.90,108.50 209.40,109.42 209.90,110.20 210.40,110.84 210.90,111.35 211.40,111.71 211.90,111.93 212.40,112.00 212.90,111.93 213.40,111.71 213.90,111.35 214.40,110.84 214.90,110.20 215.40,109.42 215.90,108.50 216.40,107.46 216.90,106.30 217.40,105.02 217.90,103.62 218.40,102.12 218.90,100.53 219.40,98.84 219.90,97.08 220.40,95.24 220.90,93.34 221.40,91.39 221.90,89.39 222.40,87.36 222.90,85.30 223.40,83.23 223.90,81.15 224.40,79.09 224.90,77.03 225.40,75.01 225.90,73.02 226.40,71.07 226.90,69.18 227.40,67.36 227.90,65.61 228.40,63.94 228.90,62.37 229.40,60.89 229.90,59.52 230.40,58.26 230.90,57.12 231.40,56.10 231.90,55.21 232.40,54.46 232.90,53.84 233.40,53.37 233.90,53.04 234.40,52.85 234.90,52.80 235.40,52.91 235.90,53.16 236.40,53.55 236.90,54.09 237.40,54.76 237.90,55.57 238.40,56.50 238.90,57.55 239.40,58.71 239.90,59.97 240.40,61.32 240.90,62.75 241.40,64.24 241.90,65.79 242.40,67.39 242.90,69.01 243.40,70.66 243.90,72.30 244.40,73.94 244.90,75.55 245.40,77.13 245.90,78.66 246.40,80.13 246.90,81.53 247.40,82.85 247.90,84.07 248.40,85.18 248.90,86.19 249.40,87.07 249.90,87.82 250.40,88.44 250.90,88.92 251.40,89.26 251.90,89.45 252.40,89.50 252.90,89.43 253.40,89.26 253.90,89.00 254.40,88.64 254.90,88.19 255.40,87.64 255.90,87.01 256.40,86.29 256.90,85.49 257.40,84.61 257.90,83.66 258.40,82.63 258.90,81.55 259.40,80.40 259.90,79.20 260.40,77.95 260.90,76.66 261.40,75.34 261.90,73.99 262.40,72.62 262.90,71.23 263.40,69.83 263.90,68.43 264.40,67.04 264.90,65.66 265.40,64.30 265.90,62.96 266.40,61.66 266.90,60.39 267.40,59.17 267.90,58.01 268.40,56.89 268.90,55.84 269.40,54.86 269.90,53.95 270.40,53.12 270.90,52.37 271.40,51.70 271.90,51.12 272.40,50.63 272.90,50.23 273.40,49.93 273.90,49.73 274.40,49.62 274.90,49.61 275.40,49.74 275.90,50.01 276.40,50.42 276.90,50.97 277.40,51.65 277.90,52.46 278.40,53.41 278.90,54.47 279.40,55.65 279.90,56.94 280.40,58.33 280.90,59.81 281.40,61.38 281.90,63.04 282.40,64.76 282.90,66.54 283.40,68.37 283.90,70.24 284.40,72.14 284.90,74.06 285.40,75.99 285.90,77.92 286.40,79.84 286.90,81.74 287.40,83.60 287.90,85.42 288.40,87.19 288.90,88.90 289.40,90.54 289.90,92.09 290.40,93.56 290.90,94.93 291.40,96.20 291.90,97.35 292.40,98.39 292.90,99.31 293.40,100.10 293.90,100.75 294.40,101.27 294.90,101.66 295.40,101.90 295.90,102.00 296.40,101.97 296.90,101.84 297.40,101.62 297.90,101.30 298.40,100.90 298.90,100.39 299.40,99.80 299.90,99.13 300.40,98.37 300.90,97.54 301.40,96.63 301.90,95.65 302.40,94.60 302.90,93.50 303.40,92.34 303.90,91.14 304.40,89.89 304.90,88.61 305.40,87.30 305.90,85.97 306.40,84.63 306.90,83.27 307.40,81.92 307.90,80.56 308.40,79.23 308.90,77.91 309.40,76.62 309.90,75.35 310.40,74.13 310.90,72.96 311.40,71.83 311.90,70.76 312.40,69.76 312.90,68.82 313.40,67.95 313.90,67.16 314.40,66.46 314.90,65.83 315.40,65.29 315.90,64.85 316.40,64.49 316.90,64.23 317.40,64.07 317.90,64.00 318.40,64.04 318.90,64.20 319.40,64.48 319.90,64.88 320.40,65.40 320.90,66.04 321.40,66.79 321.90,67.64 322.40,68.59 322.90,69.64 323.40,70.77 323.90,71.99 324.40,73.28 324.90,74.64 325.40,76.06 325.90,77.52 326.40,79.03 326.90,80.56 327.40,82.12 327.90,83.69 328.40,85.26 328.90,86.82 329.40,88.36 329.90,89.88 330.40,91.36 330.90,92.80 331.40,94.18 331.90,95.50 332.40,96.75 332.90,97.92 333.40,99.00 333.90,99.99" fill="none" stroke="#20c8c8" stroke-width="1.3" stroke-linejoin="round" clip-path="url(#cb)"/>
<polyline points="206.40,80.02 206.90,80.12 207.40,80.30 207.90,80.54 208.40,80.86 208.90,81.24 209.40,81.70 209.90,82.21 210.40,82.78 210.90,83.41 211.40,84.08 211.90,84.80 212.40,85.55 212.90,86.34 213.40,87.15 213.90,87.98 214.40,88.82 214.90,89.67 215.40,90.52 215.90,91.35 216.40,92.18 216.90,92.98 217.40,93.75 217.90,94.49 218.40,95.19 218.90,95.85 219.40,96.45 219.90,97.00 220.40,97.49 220.90,97.92 221.40,98.28 221.90,98.57 222.40,98.78 222.90,98.93 223.40,98.99 223.90,98.97 224.40,98.80 224.90,98.47 225.40,97.99 225.90,97.36 226.40,96.58 226.90,95.66 227.40,94.60 227.90,93.42 228.40,92.12 228.90,90.70 229.40,89.19 229.90,87.58 230.40,85.89 230.90,84.14 231.40,82.32 231.90,80.46 232.40,78.57 232.90,76.65 233.40,74.73 233.90,72.81 234.40,70.92 234.90,69.05 235.40,67.22 235.90,65.45 236.40,63.75 236.90,62.13 237.40,60.59 237.90,59.16 238.40,57.83 238.90,56.62 239.40,55.54 239.90,54.60 240.40,53.79 240.90,53.13 241.40,52.61 241.90,52.25 242.40,52.05 242.90,52.00 243.40,52.09 243.90,52.30 244.40,52.64 244.90,53.10 245.40,53.68 245.90,54.37 246.40,55.17 246.90,56.08 247.40,57.08 247.90,58.16 248.40,59.33 248.90,60.57 249.40,61.88 249.90,63.24 250.40,64.64 250.90,66.08 251.40,67.53 251.90,69.00 252.40,70.47 252.90,71.93 253.40,73.38 253.90,74.78 254.40,76.15 254.90,77.47 255.40,78.72 255.90,79.91 256.40,81.01 256.90,82.03 257.40,82.96 257.90,83.78 258.40,84.49 258.90,85.09 259.40,85.57 259.90,85.94 260.40,86.18 260.90,86.29 261.40,86.29 261.90,86.22 262.40,86.09 262.90,85.89 263.40,85.63 263.90,85.31 264.40,84.93 264.90,84.50 265.40,84.01 265.90,83.46 266.40,82.87 266.90,82.22 267.40,81.53 267.90,80.80 268.40,80.03 268.90,79.23 269.40,78.39 269.90,77.52 270.40,76.63 270.90,75.72 271.40,74.79 271.90,73.86 272.40,72.91 272.90,71.96 273.40,71.01 273.90,70.07 274.40,69.13 274.90,68.21 275.40,67.31 275.90,66.43 276.40,65.57 276.90,64.75 277.40,63.96 277.90,63.20 278.40,62.49 278.90,61.81 279.40,61.19 279.90,60.61 280.40,60.09 280.90,59.62 281.40,59.21 281.90,58.85 282.40,58.56 282.90,58.33 283.40,58.15 283.90,58.05 284.40,58.00 284.90,58.04 285.40,58.21 285.90,58.51 286.40,58.93 286.90,59.48 287.40,60.14 287.90,60.93 288.40,61.82 288.90,62.82 289.40,63.91 289.90,65.10 290.40,66.38 290.90,67.72 291.40,69.14 291.90,70.61 292.40,72.13 292.90,73.68 293.40,75.27 293.90,76.87 294.40,78.48 294.90,80.09 295.40,81.68 295.90,83.25 296.40,84.79 296.90,86.28 297.40,87.72 297.90,89.09 298.40,90.40 298.90,91.62 299.40,92.75 299.90,93.79 300.40,94.73 300.90,95.56 301.40,96.27 301.90,96.87 302.40,97.34 302.90,97.69 303.40,97.91 303.90,98.00 304.40,97.96 304.90,97.78 305.40,97.47 305.90,97.02 306.40,96.44 306.90,95.74 307.40,94.92 307.90,93.99 308.40,92.95 308.90,91.81 309.40,90.58 309.90,89.27 310.40,87.89 310.90,86.45 311.40,84.96 311.90,83.43 312.40,81.88 312.90,80.31 313.40,78.74 313.90,77.18 314.40,75.65 314.90,74.14 315.40,72.68 315.90,71.27 316.40,69.93 316.90,68.67 317.40,67.50 317.90,66.42 318.40,65.44 318.90,64.57 319.40,63.82 319.90,63.20 320.40,62.70 320.90,62.33 321.40,62.10 321.90,62.00 322.40,62.04 322.90,62.22 323.40,62.53 323.90,62.98 324.40,63.56 324.90,64.26 325.40,65.08 325.90,66.01 326.40,67.05 326.90,68.19 327.40,69.42 327.90,70.73 328.40,72.11 328.90,73.55 329.40,75.04 329.90,76.57 330.40,78.12 330.90,79.69 331.40,81.26 331.90,82.82 332.40,84.35 332.90,85.86 333.40,87.32 333.90,88.73" fill="none" stroke="#a8a820" stroke-width="1.3" stroke-linejoin="round" clip-path="url(#cb)"/>
<polyline points="206.40,80.74 206.90,79.93 207.40,79.15 207.90,78.42 208.40,77.74 208.90,77.13 209.40,76.58 209.90,76.11 210.40,75.72 210.90,75.41 211.40,75.18 211.90,75.05 212.40,75.00 212.90,75.05 213.40,75.18 213.90,75.41 214.40,75.72 214.90,76.11 215.40,76.58 215.90,77.13 216.40,77.74 216.90,78.42 217.40,79.15 217.90,79.93 218.40,80.74 218.90,81.58 219.40,82.45 219.90,83.32 220.40,84.20 220.90,85.07 221.40,85.93 221.90,86.75 222.40,87.55 222.90,88.30 223.40,88.99 223.90,89.63 224.40,90.21 224.90,90.71 225.40,91.14 225.90,91.48 226.40,91.74 226.90,91.91 227.40,91.99 227.90,91.99 228.40,91.89 228.90,91.72 229.40,91.46 229.90,91.13 230.40,90.71 230.90,90.22 231.40,89.65 231.90,89.00 232.40,88.29 232.90,87.50 233.40,86.66 233.90,85.75 234.40,84.78 234.90,83.76 235.40,82.69 235.90,81.57 236.40,80.42 236.90,79.22 237.40,78.00 237.90,76.75 238.40,75.48 238.90,74.19 239.40,72.89 239.90,71.58 240.40,70.27 240.90,68.97 241.40,67.68 241.90,66.41 242.40,65.15 242.90,63.92 243.40,62.72 243.90,61.55 244.40,60.43 244.90,59.35 245.40,58.32 245.90,57.34 246.40,56.42 246.90,55.56 247.40,54.76 247.90,54.03 248.40,53.38 248.90,52.79 249.40,52.28 249.90,51.85 250.40,51.50 250.90,51.22 251.40,51.03 251.90,50.93 252.40,50.90 252.90,51.01 253.40,51.26 253.90,51.66 254.40,52.21 254.90,52.89 255.40,53.71 255.90,54.66 256.40,55.73 256.90,56.92 257.40,58.21 257.90,59.60 258.40,61.07 258.90,62.62 259.40,64.24 259.90,65.91 260.40,67.61 260.90,69.35 261.40,71.10 261.90,72.85 262.40,74.60 262.90,76.32 263.40,78.00 263.90,79.64 264.40,81.21 264.90,82.72 265.40,84.14 265.90,85.48 266.40,86.71 266.90,87.82 267.40,88.82 267.90,89.70 268.40,90.44 268.90,91.04 269.40,91.50 269.90,91.81 270.40,91.97 270.90,91.99 271.40,91.87 271.90,91.62 272.40,91.24 272.90,90.74 273.40,90.12 273.90,89.37 274.40,88.52 274.90,87.57 275.40,86.52 275.90,85.38 276.40,84.17 276.90,82.89 277.40,81.55 277.90,80.16 278.40,78.75 278.90,77.31 279.40,75.85 279.90,74.40 280.40,72.97 280.90,71.56 281.40,70.18 281.90,68.85 282.40,67.58 282.90,66.39 283.40,65.27 283.90,64.23 284.40,63.30 284.90,62.47 285.40,61.75 285.90,61.15 286.40,60.67 286.90,60.32 287.40,60.09 287.90,60.00 288.40,60.04 288.90,60.22 289.40,60.53 289.90,60.98 290.40,61.56 290.90,62.26 291.40,63.08 291.90,64.01 292.40,65.05 292.90,66.19 293.40,67.42 293.90,68.73 294.40,70.11 294.90,71.55 295.40,73.04 295.90,74.57 296.40,76.12 296.90,77.69 297.40,79.26 297.90,80.82 298.40,82.35 298.90,83.86 299.40,85.32 299.90,86.73 300.40,88.07 300.90,89.33 301.40,90.50 301.90,91.58 302.40,92.56 302.90,93.43 303.40,94.18 303.90,94.80 304.40,95.30 304.90,95.67 305.40,95.90 305.90,96.00 306.40,95.96 306.90,95.81 307.40,95.54 307.90,95.16 308.40,94.67 308.90,94.06 309.40,93.35 309.90,92.54 310.40,91.64 310.90,90.64 311.40,89.56 311.90,88.41 312.40,87.18 312.90,85.89 313.40,84.55 313.90,83.15 314.40,81.73 314.90,80.27 315.40,78.79 315.90,77.30 316.40,75.81 316.90,74.32 317.40,72.86 317.90,71.41 318.40,70.01 318.90,68.64 319.40,67.33 319.90,66.07 320.40,64.89 320.90,63.78 321.40,62.75 321.90,61.81 322.40,60.96 322.90,60.21 323.40,59.56 323.90,59.02 324.40,58.60 324.90,58.28 325.40,58.08 325.90,58.00 326.40,58.04 326.90,58.19 327.40,58.46 327.90,58.84 328.40,59.33 328.90,59.94 329.40,60.65 329.90,61.46 330.40,62.36 330.90,63.36 331.40,64.44 331.90,65.59 332.40,66.82 332.90,68.11 333.40,69.45 333.90,70.85" fill="none" stroke="#2a80d0" stroke-width="1.3" stroke-linejoin="round" clip-path="url(#cb)"/>
<rect x="298.90" y="25.30" width="35.20" height="39.20" stroke="#aaa" stroke-width="0.6" fill="#fff"/>
<line x1="301.00" y1="34.00" x2="312.80" y2="34.00" stroke="#d040c8" stroke-width="1.3"/>
<text x="314.20" y="35.98" font-size="5.5" text-anchor="start" fill="#222" stroke="#222" stroke-width="0.154">65.8 °C</text>
<line x1="301.00" y1="41.30" x2="312.80" y2="41.30" stroke="#d03030" stroke-width="1.3"/>
<text x="314.20" y="43.28" font-size="5.5" text-anchor="start" fill="#222" stroke="#222" stroke-width="0.154">70.0 °C</text>
<line x1="301.00" y1="48.30" x2="312.80" y2="48.30" stroke="#a8a820" stroke-width="1.3"/>
<text x="314.20" y="50.28" font-size="5.5" text-anchor="start" fill="#222" stroke="#222" stroke-width="0.154">75.2 °C</text>
<line x1="301.00" y1="55.50" x2="312.80" y2="55.50" stroke="#2a80d0" stroke-width="1.3"/>
<text x="314.20" y="57.48" font-size="5.5" text-anchor="start" fill="#222" stroke="#222" stroke-width="0.154">80.0 °C</text>
<rect x="206.50" y="25.50" width="128.00" height="102.00" stroke="#151515" stroke-width="1.15" fill="none"/>
<line x1="203.90" y1="51.30" x2="206.40" y2="51.30" stroke="#111" stroke-width="0.9"/>
<text x="203.30" y="54.00" font-size="7.5" text-anchor="end" fill="#000" stroke="#000" stroke-width="0.210">-44</text>
<line x1="203.90" y1="103.20" x2="206.40" y2="103.20" stroke="#111" stroke-width="0.9"/>
<text x="203.30" y="105.90" font-size="7.5" text-anchor="end" fill="#000" stroke="#000" stroke-width="0.210">-46</text>
<line x1="204.80" y1="77.25" x2="206.40" y2="77.25" stroke="#111" stroke-width="0.8"/>
<line x1="206.40" y1="127.80" x2="206.40" y2="130.30" stroke="#111" stroke-width="0.9"/>
<text x="206.40" y="138.32" font-size="8.1" text-anchor="middle" fill="#000" stroke="#000" stroke-width="0.227">1540</text>
<line x1="265.10" y1="127.80" x2="265.10" y2="130.30" stroke="#111" stroke-width="0.9"/>
<text x="265.10" y="138.32" font-size="8.1" text-anchor="middle" fill="#000" stroke="#000" stroke-width="0.227">1550</text>
<line x1="323.80" y1="127.80" x2="323.80" y2="130.30" stroke="#111" stroke-width="0.9"/>
<text x="323.80" y="138.32" font-size="8.1" text-anchor="middle" fill="#000" stroke="#000" stroke-width="0.227">1560</text>
<line x1="235.75" y1="127.80" x2="235.75" y2="129.40" stroke="#111" stroke-width="0.8"/>
<line x1="294.45" y1="127.80" x2="294.45" y2="129.40" stroke="#111" stroke-width="0.8"/>
<text x="270.00" y="146.50" font-size="7.9" text-anchor="middle" fill="#000" stroke="#000" stroke-width="0.221">Wavelength Shift (nm)</text>
<g transform="translate(188.20 76.50) rotate(-90.00)"><text x="0" y="2.79" font-size="7.75" text-anchor="middle" fill="#000" stroke="#000" stroke-width="0.217">Reflection Intensity (dB)</text></g>
<text x="207.80" y="32.61" font-size="7.8" text-anchor="start" fill="#000" stroke="#000" stroke-width="0.218">PMMA_SPFPI</text>
<text x="180.40" y="29.20" font-size="13.8" text-anchor="start" fill="#000" stroke="#000" stroke-width="0.386">(b)</text>
<line x1="222.00" y1="103.10" x2="284.90" y2="103.10" stroke="#ff1a1a" stroke-width="1.3"/>
<polygon points="289.40,103.10 284.40,105.30 284.40,100.90" fill="#ff1a1a"/>
<text x="254.00" y="111.77" font-size="7.7" text-anchor="middle" fill="#ff1a1a" stroke="#ff1a1a" stroke-width="0.216">Red shift</text>
<polyline points="360.20,92.58 360.70,91.41 361.20,90.02 361.70,88.46 362.20,86.73 362.70,84.87 363.20,82.91 363.70,80.86 364.20,78.77 364.70,76.65 365.20,74.55 365.70,72.50 366.20,70.51 366.70,68.63 367.20,66.87 367.70,65.28 368.20,63.86 368.70,62.63 369.20,61.63 369.70,60.86 370.20,60.33 370.70,60.05 371.20,60.01 371.70,60.14 372.20,60.40 372.70,60.81 373.20,61.35 373.70,62.02 374.20,62.81 374.70,63.73 375.20,64.75 375.70,65.88 376.20,67.11 376.70,68.42 377.20,69.81 377.70,71.27 378.20,72.78 378.70,74.34 379.20,75.93 379.70,77.53 380.20,79.15 380.70,80.75 381.20,82.35 381.70,83.91 382.20,85.43 382.70,86.90 383.20,88.30 383.70,89.63 384.20,90.88 384.70,92.03 385.20,93.08 385.70,94.02 386.20,94.83 386.70,95.53 387.20,96.09 387.70,96.53 388.20,96.82 388.70,96.97 389.20,96.98 389.70,96.81 390.20,96.44 390.70,95.89 391.20,95.14 391.70,94.22 392.20,93.13 392.70,91.87 393.20,90.45 393.70,88.89 394.20,87.20 394.70,85.39 395.20,83.47 395.70,81.46 396.20,79.38 396.70,77.24 397.20,75.05 397.70,72.83 398.20,70.61 398.70,68.39 399.20,66.20 399.70,64.04 400.20,61.95 400.70,59.92 401.20,57.99 401.70,56.15 402.20,54.44 402.70,52.85 403.20,51.41 403.70,50.11 404.20,48.98 404.70,48.03 405.20,47.25 405.70,46.65 406.20,46.25 406.70,46.03 407.20,46.01 407.70,46.16 408.20,46.48 408.70,46.96 409.20,47.60 409.70,48.40 410.20,49.35 410.70,50.44 411.20,51.67 411.70,53.03 412.20,54.51 412.70,56.10 413.20,57.79 413.70,59.56 414.20,61.41 414.70,63.32 415.20,65.27 415.70,67.27 416.20,69.29 416.70,71.31 417.20,73.33 417.70,75.33 418.20,77.30 418.70,79.22 419.20,81.08 419.70,82.87 420.20,84.57 420.70,86.18 421.20,87.68 421.70,89.06 422.20,90.32 422.70,91.44 423.20,92.42 423.70,93.25 424.20,93.92 424.70,94.44 425.20,94.79 425.70,94.97 426.20,94.99 426.70,94.87 427.20,94.61 427.70,94.22 428.20,93.69 428.70,93.04 429.20,92.27 429.70,91.37 430.20,90.37 430.70,89.26 431.20,88.05 431.70,86.76 432.20,85.38 432.70,83.93 433.20,82.42 433.70,80.87 434.20,79.27 434.70,77.64 435.20,75.99 435.70,74.34 436.20,72.69 436.70,71.06 437.20,69.45 437.70,67.88 438.20,66.36 438.70,64.90 439.20,63.51 439.70,62.20 440.20,60.98 440.70,59.85 441.20,58.82 441.70,57.90 442.20,57.11 442.70,56.43 443.20,55.88 443.70,55.46 444.20,55.17 444.70,55.02 445.20,55.01 445.70,55.13 446.20,55.39 446.70,55.78 447.20,56.31 447.70,56.96 448.20,57.73 448.70,58.63 449.20,59.63 449.70,60.74 450.20,61.95 450.70,63.24 451.20,64.62 451.70,66.07 452.20,67.58 452.70,69.13 453.20,70.73 453.70,72.36 454.20,74.01 454.70,75.66 455.20,77.31 455.70,78.94 456.20,80.55 456.70,82.12 457.20,83.64 457.70,85.10 458.20,86.49 458.70,87.80 459.20,89.02 459.70,90.15 460.20,91.18 460.70,92.10 461.20,92.89 461.70,93.57 462.20,94.12 462.70,94.54 463.20,94.83 463.70,94.98 464.20,94.99 464.70,94.87 465.20,94.61 465.70,94.22 466.20,93.69 466.70,93.04 467.20,92.27 467.70,91.37 468.20,90.37 468.70,89.26 469.20,88.05 469.70,86.76 470.20,85.38 470.70,83.93 471.20,82.42 471.70,80.87 472.20,79.27 472.70,77.64 473.20,75.99 473.70,74.34 474.20,72.69 474.70,71.06 475.20,69.45 475.70,67.88 476.20,66.36 476.70,64.90 477.20,63.51 477.70,62.20 478.20,60.98 478.70,59.85 479.20,58.82 479.70,57.90 480.20,57.11 480.70,56.43 481.20,55.88 481.70,55.46 482.20,55.17 482.70,55.02 483.20,55.01 483.70,55.13 484.20,55.39 484.70,55.78 485.20,56.31 485.70,56.96 486.20,57.73 486.70,58.63 487.20,59.63" fill="none" stroke="#20a0b0" stroke-width="1.3" stroke-linejoin="round" clip-path="url(#cc)"/>
<polyline points="360.20,82.99 360.70,82.12 361.20,81.28 361.70,80.46 362.20,79.67 362.70,78.93 363.20,78.23 363.70,77.58 364.20,76.99 364.70,76.45 365.20,75.99 365.70,75.59 366.20,75.26 366.70,75.00 367.20,74.83 367.70,74.73 368.20,74.70 368.70,74.76 369.20,74.89 369.70,75.10 370.20,75.38 370.70,75.74 371.20,76.17 371.70,76.66 372.20,77.22 372.70,77.83 373.20,78.50 373.70,79.22 374.20,79.98 374.70,80.78 375.20,81.61 375.70,82.47 376.20,83.34 376.70,84.23 377.20,85.12 377.70,86.01 378.20,86.88 378.70,87.75 379.20,88.59 379.70,89.40 380.20,90.18 380.70,90.92 381.20,91.61 381.70,92.24 382.20,92.83 382.70,93.34 383.20,93.80 383.70,94.18 384.20,94.50 384.70,94.74 385.20,94.90 385.70,94.99 386.20,94.99 386.70,94.87 387.20,94.61 387.70,94.22 388.20,93.69 388.70,93.04 389.20,92.27 389.70,91.37 390.20,90.37 390.70,89.26 391.20,88.05 391.70,86.76 392.20,85.38 392.70,83.93 393.20,82.42 393.70,80.87 394.20,79.27 394.70,77.64 395.20,75.99 395.70,74.34 396.20,72.69 396.70,71.06 397.20,69.45 397.70,67.88 398.20,66.36 398.70,64.90 399.20,63.51 399.70,62.20 400.20,60.98 400.70,59.85 401.20,58.82 401.70,57.90 402.20,57.11 402.70,56.43 403.20,55.88 403.70,55.46 404.20,55.17 404.70,55.02 405.20,55.01 405.70,55.11 406.20,55.31 406.70,55.62 407.20,56.04 407.70,56.55 408.20,57.17 408.70,57.88 409.20,58.68 409.70,59.57 410.20,60.54 410.70,61.58 411.20,62.70 411.70,63.88 412.20,65.11 412.70,66.39 413.20,67.71 413.70,69.07 414.20,70.45 414.70,71.85 415.20,73.26 415.70,74.67 416.20,76.07 416.70,77.46 417.20,78.82 417.70,80.15 418.20,81.44 418.70,82.68 419.20,83.87 419.70,85.00 420.20,86.06 420.70,87.04 421.20,87.95 421.70,88.77 422.20,89.50 422.70,90.13 423.20,90.67 423.70,91.10 424.20,91.44 424.70,91.66 425.20,91.78 425.70,91.79 426.20,91.66 426.70,91.40 427.20,91.00 427.70,90.46 428.20,89.80 428.70,89.01 429.20,88.11 429.70,87.09 430.20,85.98 430.70,84.78 431.20,83.49 431.70,82.13 432.20,80.71 432.70,79.25 433.20,77.75 433.70,76.23 434.20,74.69 434.70,73.16 435.20,71.65 435.70,70.16 436.20,68.71 436.70,67.32 437.20,65.99 437.70,64.73 438.20,63.56 438.70,62.49 439.20,61.52 439.70,60.66 440.20,59.92 440.70,59.31 441.20,58.83 441.70,58.48 442.20,58.27 442.70,58.20 443.20,58.26 443.70,58.44 444.20,58.75 444.70,59.17 445.20,59.70 445.70,60.35 446.20,61.11 446.70,61.96 447.20,62.92 447.70,63.97 448.20,65.09 448.70,66.30 449.20,67.57 449.70,68.91 450.20,70.29 450.70,71.72 451.20,73.18 451.70,74.66 452.20,76.15 452.70,77.65 453.20,79.14 453.70,80.61 454.20,82.06 454.70,83.47 455.20,84.83 455.70,86.14 456.20,87.39 456.70,88.57 457.20,89.66 457.70,90.67 458.20,91.59 458.70,92.41 459.20,93.12 459.70,93.73 460.20,94.22 460.70,94.59 461.20,94.84 461.70,94.98 462.20,94.99 462.70,94.89 463.20,94.68 463.70,94.35 464.20,93.92 464.70,93.38 465.20,92.74 465.70,92.01 466.20,91.18 466.70,90.26 467.20,89.27 467.70,88.20 468.20,87.06 468.70,85.87 469.20,84.62 469.70,83.34 470.20,82.02 470.70,80.68 471.20,79.32 471.70,77.95 472.20,76.59 472.70,75.25 473.20,73.92 473.70,72.63 474.20,71.38 474.70,70.17 475.20,69.02 475.70,67.94 476.20,66.93 476.70,66.00 477.20,65.15 477.70,64.40 478.20,63.74 478.70,63.18 479.20,62.73 479.70,62.38 480.20,62.14 480.70,62.02 481.20,62.01 481.70,62.11 482.20,62.32 482.70,62.65 483.20,63.08 483.70,63.62 484.20,64.26 484.70,64.99 485.20,65.82 485.70,66.74 486.20,67.73 486.70,68.80 487.20,69.94" fill="none" stroke="#2868c0" stroke-width="1.3" stroke-linejoin="round" clip-path="url(#cc)"/>
<polyline points="360.20,67.19 360.70,66.62 361.20,66.15 361.70,65.79 362.20,65.55 362.70,65.42 363.20,65.41 363.70,65.51 364.20,65.73 364.70,66.07 365.20,66.51 365.70,67.07 366.20,67.73 366.70,68.49 367.20,69.34 367.70,70.28 368.20,71.31 368.70,72.40 369.20,73.57 369.70,74.79 370.20,76.07 370.70,77.38 371.20,78.73 371.70,80.10 372.20,81.48 372.70,82.87 373.20,84.25 373.70,85.61 374.20,86.95 374.70,88.25 375.20,89.50 375.70,90.70 376.20,91.84 376.70,92.91 377.20,93.91 377.70,94.81 378.20,95.63 378.70,96.35 379.20,96.97 379.70,97.48 380.20,97.88 380.70,98.17 381.20,98.34 381.70,98.40 382.20,98.31 382.70,98.04 383.20,97.60 383.70,96.99 384.20,96.20 384.70,95.25 385.20,94.15 385.70,92.89 386.20,91.49 386.70,89.96 387.20,88.31 387.70,86.54 388.20,84.67 388.70,82.72 389.20,80.69 389.70,78.59 390.20,76.45 390.70,74.28 391.20,72.08 391.70,69.88 392.20,67.69 392.70,65.52 393.20,63.38 393.70,61.30 394.20,59.29 394.70,57.35 395.20,55.50 395.70,53.75 396.20,52.12 396.70,50.62 397.20,49.25 397.70,48.02 398.20,46.94 398.70,46.03 399.20,45.28 399.70,44.70 400.20,44.29 400.70,44.06 401.20,44.00 401.70,44.10 402.20,44.34 402.70,44.71 403.20,45.23 403.70,45.87 404.20,46.65 404.70,47.54 405.20,48.56 405.70,49.70 406.20,50.94 406.70,52.28 407.20,53.71 407.70,55.23 408.20,56.82 408.70,58.48 409.20,60.20 409.70,61.96 410.20,63.76 410.70,65.58 411.20,67.43 411.70,69.27 412.20,71.12 412.70,72.94 413.20,74.74 413.70,76.50 414.20,78.22 414.70,79.88 415.20,81.47 415.70,82.99 416.20,84.42 416.70,85.76 417.20,87.00 417.70,88.14 418.20,89.16 418.70,90.05 419.20,90.83 419.70,91.47 420.20,91.99 420.70,92.36 421.20,92.60 421.70,92.70 422.20,92.65 422.70,92.46 423.20,92.13 423.70,91.65 424.20,91.04 424.70,90.29 425.20,89.41 425.70,88.40 426.20,87.28 426.70,86.05 427.20,84.71 427.70,83.28 428.20,81.78 428.70,80.19 429.20,78.55 429.70,76.85 430.20,75.11 430.70,73.35 431.20,71.56 431.70,69.78 432.20,68.00 432.70,66.24 433.20,64.51 433.70,62.82 434.20,61.19 434.70,59.62 435.20,58.12 435.70,56.71 436.20,55.40 436.70,54.19 437.20,53.09 437.70,52.11 438.20,51.25 438.70,50.53 439.20,49.94 439.70,49.49 440.20,49.19 440.70,49.03 441.20,49.01 441.70,49.15 442.20,49.45 442.70,49.90 443.20,50.51 443.70,51.25 444.20,52.15 444.70,53.17 445.20,54.33 445.70,55.60 446.20,56.99 446.70,58.48 447.20,60.06 447.70,61.73 448.20,63.46 448.70,65.26 449.20,67.09 449.70,68.97 450.20,70.86 450.70,72.76 451.20,74.66 451.70,76.53 452.20,78.38 452.70,80.18 453.20,81.93 453.70,83.61 454.20,85.21 454.70,86.72 455.20,88.13 455.70,89.43 456.20,90.61 456.70,91.66 457.20,92.58 457.70,93.36 458.20,93.99 458.70,94.47 459.20,94.80 459.70,94.97 460.20,94.99 460.70,94.88 461.20,94.66 461.70,94.31 462.20,93.85 462.70,93.28 463.20,92.61 463.70,91.83 464.20,90.95 464.70,89.98 465.20,88.92 465.70,87.79 466.20,86.58 466.70,85.32 467.20,84.00 467.70,82.63 468.20,81.23 468.70,79.81 469.20,78.37 469.70,76.92 470.20,75.48 470.70,74.05 471.20,72.65 471.70,71.27 472.20,69.94 472.70,68.67 473.20,67.45 473.70,66.30 474.20,65.23 474.70,64.24 475.20,63.34 475.70,62.54 476.20,61.84 476.70,61.25 477.20,60.77 477.70,60.40 478.20,60.15 478.70,60.02 479.20,60.01 479.70,60.12 480.20,60.34 480.70,60.69 481.20,61.15 481.70,61.72 482.20,62.39 482.70,63.17 483.20,64.05 483.70,65.02 484.20,66.08 484.70,67.21 485.20,68.42 485.70,69.68 486.20,71.00 486.70,72.37 487.20,73.77" fill="none" stroke="#4848a8" stroke-width="1.3" stroke-linejoin="round" clip-path="url(#cc)"/>
<polyline points="360.20,78.60 360.70,80.54 361.20,82.51 361.70,84.50 362.20,86.49 362.70,88.47 363.20,90.42 363.70,92.33 364.20,94.20 364.70,96.00 365.20,97.73 365.70,99.38 366.20,100.93 366.70,102.38 367.20,103.71 367.70,104.91 368.20,105.99 368.70,106.93 369.20,107.72 369.70,108.37 370.20,108.86 370.70,109.20 371.20,109.37 371.70,109.39 372.20,109.25 372.70,108.96 373.20,108.52 373.70,107.93 374.20,107.19 374.70,106.31 375.20,105.28 375.70,104.13 376.20,102.85 376.70,101.44 377.20,99.91 377.70,98.28 378.20,96.54 378.70,94.72 379.20,92.80 379.70,90.81 380.20,88.75 380.70,86.63 381.20,84.47 381.70,82.26 382.20,80.03 382.70,77.78 383.20,75.52 383.70,73.27 384.20,71.03 384.70,68.81 385.20,66.63 385.70,64.49 386.20,62.41 386.70,60.39 387.20,58.44 387.70,56.58 388.20,54.80 388.70,53.13 389.20,51.56 389.70,50.10 390.20,48.77 390.70,47.56 391.20,46.49 391.70,45.55 392.20,44.75 392.70,44.10 393.20,43.60 393.70,43.25 394.20,43.05 394.70,43.00 395.20,43.11 395.70,43.37 396.20,43.78 396.70,44.34 397.20,45.04 397.70,45.88 398.20,46.86 398.70,47.96 399.20,49.19 399.70,50.53 400.20,51.98 400.70,53.52 401.20,55.15 401.70,56.86 402.20,58.63 402.70,60.45 403.20,62.32 403.70,64.22 404.20,66.14 404.70,68.07 405.20,69.99 405.70,71.90 406.20,73.78 406.70,75.61 407.20,77.39 407.70,79.11 408.20,80.76 408.70,82.32 409.20,83.79 409.70,85.15 410.20,86.40 410.70,87.53 411.20,88.53 411.70,89.40 412.20,90.13 412.70,90.72 413.20,91.16 413.70,91.45 414.20,91.59 414.70,91.57 415.20,91.39 415.70,91.04 416.20,90.53 416.70,89.86 417.20,89.04 417.70,88.07 418.20,86.96 418.70,85.72 419.20,84.35 419.70,82.87 420.20,81.29 420.70,79.62 421.20,77.87 421.70,76.06 422.20,74.19 422.70,72.29 423.20,70.36 423.70,68.42 424.20,66.48 424.70,64.57 425.20,62.68 425.70,60.85 426.20,59.07 426.70,57.37 427.20,55.75 427.70,54.23 428.20,52.81 428.70,51.52 429.20,50.36 429.70,49.33 430.20,48.45 430.70,47.72 431.20,47.15 431.70,46.73 432.20,46.48 432.70,46.40 433.20,46.51 433.70,46.82 434.20,47.34 434.70,48.07 435.20,48.99 435.70,50.11 436.20,51.41 436.70,52.88 437.20,54.52 437.70,56.30 438.20,58.23 438.70,60.28 439.20,62.43 439.70,64.68 440.20,67.01 440.70,69.39 441.20,71.82 441.70,74.26 442.20,76.72 442.70,79.16 443.20,81.57 443.70,83.93 444.20,86.23 444.70,88.44 445.20,90.56 445.70,92.56 446.20,94.43 446.70,96.16 447.20,97.73 447.70,99.13 448.20,100.36 448.70,101.40 449.20,102.25 449.70,102.89 450.20,103.33 450.70,103.56 451.20,103.59 451.70,103.48 452.20,103.23 452.70,102.87 453.20,102.38 453.70,101.77 454.20,101.04 454.70,100.20 455.20,99.24 455.70,98.18 456.20,97.02 456.70,95.77 457.20,94.42 457.70,92.99 458.20,91.49 458.70,89.92 459.20,88.29 459.70,86.60 460.20,84.87 460.70,83.10 461.20,81.31 461.70,79.49 462.20,77.67 462.70,75.84 463.20,74.02 463.70,72.21 464.20,70.43 464.70,68.69 465.20,66.98 465.70,65.33 466.20,63.73 466.70,62.20 467.20,60.74 467.70,59.36 468.20,58.07 468.70,56.87 469.20,55.77 469.70,54.77 470.20,53.88 470.70,53.11 471.20,52.45 471.70,51.91 472.20,51.50 472.70,51.21 473.20,51.04 473.70,51.00 474.20,51.09 474.70,51.31 475.20,51.65 475.70,52.11 476.20,52.70 476.70,53.40 477.20,54.23 477.70,55.16 478.20,56.20 478.70,57.34 479.20,58.57 479.70,59.90 480.20,61.31 480.70,62.80 481.20,64.36 481.70,65.98 482.20,67.66 482.70,69.38 483.20,71.14 483.70,72.93 484.20,74.74 484.70,76.57 485.20,78.40 485.70,80.22 486.20,82.03 486.70,83.81 487.20,85.57" fill="none" stroke="#a8b020" stroke-width="1.3" stroke-linejoin="round" clip-path="url(#cc)"/>
<polyline points="360.20,97.54 360.70,99.85 361.20,102.05 361.70,104.13 362.20,106.07 362.70,107.87 363.20,109.51 363.70,110.98 364.20,112.28 364.70,113.40 365.20,114.33 365.70,115.07 366.20,115.61 366.70,115.95 367.20,116.10 367.70,116.04 368.20,115.77 368.70,115.31 369.20,114.65 369.70,113.79 370.20,112.75 370.70,111.52 371.20,110.12 371.70,108.54 372.20,106.81 372.70,104.92 373.20,102.90 373.70,100.75 374.20,98.47 374.70,96.10 375.20,93.63 375.70,91.09 376.20,88.48 376.70,85.82 377.20,83.13 377.70,80.42 378.20,77.70 378.70,74.99 379.20,72.31 379.70,69.67 380.20,67.09 380.70,64.57 381.20,62.14 381.70,59.80 382.20,57.58 382.70,55.47 383.20,53.50 383.70,51.68 384.20,50.01 384.70,48.50 385.20,47.17 385.70,46.01 386.20,45.04 386.70,44.26 387.20,43.68 387.70,43.30 388.20,43.12 388.70,43.13 389.20,43.31 389.70,43.66 390.20,44.17 390.70,44.84 391.20,45.67 391.70,46.65 392.20,47.77 392.70,49.02 393.20,50.41 393.70,51.91 394.20,53.52 394.70,55.23 395.20,57.03 395.70,58.91 396.20,60.84 396.70,62.83 397.20,64.85 397.70,66.90 398.20,68.96 398.70,71.02 399.20,73.06 399.70,75.07 400.20,77.04 400.70,78.95 401.20,80.80 401.70,82.56 402.20,84.23 402.70,85.80 403.20,87.26 403.70,88.59 404.20,89.80 404.70,90.86 405.20,91.78 405.70,92.54 406.20,93.15 406.70,93.60 407.20,93.88 407.70,94.00 408.20,93.95 408.70,93.73 409.20,93.34 409.70,92.79 410.20,92.07 410.70,91.20 411.20,90.18 411.70,89.02 412.20,87.71 412.70,86.28 413.20,84.73 413.70,83.07 414.20,81.31 414.70,79.47 415.20,77.55 415.70,75.56 416.20,73.53 416.70,71.46 417.20,69.37 417.70,67.27 418.20,65.17 418.70,63.09 419.20,61.04 419.70,59.04 420.20,57.09 420.70,55.22 421.20,53.42 421.70,51.72 422.20,50.13 422.70,48.65 423.20,47.29 423.70,46.07 424.20,44.99 424.70,44.06 425.20,43.28 425.70,42.66 426.20,42.21 426.70,41.92 427.20,41.80 427.70,41.86 428.20,42.10 428.70,42.51 429.20,43.11 429.70,43.88 430.20,44.82 430.70,45.93 431.20,47.19 431.70,48.61 432.20,50.17 432.70,51.87 433.20,53.69 433.70,55.63 434.20,57.67 434.70,59.81 435.20,62.02 435.70,64.30 436.20,66.64 436.70,69.02 437.20,71.43 437.70,73.86 438.20,76.28 438.70,78.70 439.20,81.08 439.70,83.43 440.20,85.73 440.70,87.96 441.20,90.11 441.70,92.17 442.20,94.13 442.70,95.98 443.20,97.70 443.70,99.29 444.20,100.74 444.70,102.03 445.20,103.17 445.70,104.15 446.20,104.95 446.70,105.58 447.20,106.04 447.70,106.31 448.20,106.40 448.70,106.30 449.20,106.01 449.70,105.53 450.20,104.86 450.70,104.01 451.20,102.98 451.70,101.77 452.20,100.41 452.70,98.89 453.20,97.23 453.70,95.44 454.20,93.52 454.70,91.50 455.20,89.39 455.70,87.19 456.20,84.94 456.70,82.63 457.20,80.29 457.70,77.94 458.20,75.58 458.70,73.23 459.20,70.92 459.70,68.65 460.20,66.44 460.70,64.31 461.20,62.27 461.70,60.34 462.20,58.52 462.70,56.83 463.20,55.28 463.70,53.89 464.20,52.65 464.70,51.58 465.20,50.70 465.70,49.99 466.20,49.47 466.70,49.14 467.20,49.00 467.70,49.06 468.20,49.31 468.70,49.76 469.20,50.39 469.70,51.21 470.20,52.20 470.70,53.37 471.20,54.71 471.70,56.19 472.20,57.83 472.70,59.60 473.20,61.49 473.70,63.49 474.20,65.58 474.70,67.76 475.20,70.01 475.70,72.30 476.20,74.64 476.70,76.99 477.20,79.35 477.70,81.70 478.20,84.02 478.70,86.30 479.20,88.52 479.70,90.67 480.20,92.73 480.70,94.68 481.20,96.53 481.70,98.24 482.20,99.82 482.70,101.25 483.20,102.52 483.70,103.62 484.20,104.54 484.70,105.29 485.20,105.84 485.70,106.21 486.20,106.38 486.70,106.37 487.20,106.15" fill="none" stroke="#888888" stroke-width="1.3" stroke-linejoin="round" clip-path="url(#cc)"/>
<polyline points="360.20,97.84 360.70,98.87 361.20,99.57 361.70,99.94 362.20,99.97 362.70,99.67 363.20,99.03 363.70,98.07 364.20,96.81 364.70,95.25 365.20,93.42 365.70,91.35 366.20,89.08 366.70,86.63 367.20,84.03 367.70,81.34 368.20,78.59 368.70,75.81 369.20,73.06 369.70,70.37 370.20,67.77 370.70,65.32 371.20,63.05 371.70,60.98 372.20,59.15 372.70,57.59 373.20,56.33 373.70,55.37 374.20,54.73 374.70,54.43 375.20,54.43 375.70,54.62 376.20,54.98 376.70,55.51 377.20,56.21 377.70,57.06 378.20,58.07 378.70,59.22 379.20,60.50 379.70,61.91 380.20,63.44 380.70,65.06 381.20,66.78 381.70,68.57 382.20,70.42 382.70,72.32 383.20,74.26 383.70,76.20 384.20,78.16 384.70,80.09 385.20,82.00 385.70,83.86 386.20,85.67 386.70,87.40 387.20,89.05 387.70,90.59 388.20,92.03 388.70,93.34 389.20,94.51 389.70,95.55 390.20,96.43 390.70,97.16 391.20,97.72 391.70,98.12 392.20,98.34 392.70,98.40 393.20,98.25 393.70,97.91 394.20,97.37 394.70,96.63 395.20,95.70 395.70,94.58 396.20,93.29 396.70,91.84 397.20,90.23 397.70,88.47 398.20,86.59 398.70,84.59 399.20,82.48 399.70,80.29 400.20,78.03 400.70,75.71 401.20,73.35 401.70,70.98 402.20,68.60 402.70,66.23 403.20,63.89 403.70,61.61 404.20,59.38 404.70,57.24 405.20,55.20 405.70,53.26 406.20,51.46 406.70,49.79 407.20,48.27 407.70,46.91 408.20,45.73 408.70,44.72 409.20,43.91 409.70,43.28 410.20,42.86 410.70,42.64 411.20,42.61 411.70,42.78 412.20,43.12 412.70,43.65 413.20,44.35 413.70,45.22 414.20,46.25 414.70,47.44 415.20,48.78 415.70,50.26 416.20,51.88 416.70,53.61 417.20,55.44 417.70,57.38 418.20,59.39 418.70,61.47 419.20,63.60 419.70,65.78 420.20,67.98 420.70,70.18 421.20,72.38 421.70,74.56 422.20,76.71 422.70,78.80 423.20,80.83 423.70,82.78 424.20,84.63 424.70,86.39 425.20,88.02 425.70,89.53 426.20,90.90 426.70,92.12 427.20,93.19 427.70,94.09 428.20,94.83 428.70,95.39 429.20,95.77 429.70,95.97 430.20,95.99 430.70,95.85 431.20,95.57 431.70,95.14 432.20,94.56 432.70,93.84 433.20,92.99 433.70,92.01 434.20,90.90 434.70,89.68 435.20,88.36 435.70,86.93 436.20,85.42 436.70,83.83 437.20,82.17 437.70,80.45 438.20,78.69 438.70,76.90 439.20,75.09 439.70,73.27 440.20,71.46 440.70,69.66 441.20,67.90 441.70,66.17 442.20,64.50 442.70,62.90 443.20,61.36 443.70,59.92 444.20,58.57 444.70,57.33 445.20,56.20 445.70,55.19 446.20,54.32 446.70,53.57 447.20,52.97 447.70,52.51 448.20,52.19 448.70,52.03 449.20,52.01 449.70,52.15 450.20,52.43 450.70,52.86 451.20,53.44 451.70,54.16 452.20,55.01 452.70,55.99 453.20,57.10 453.70,58.32 454.20,59.64 454.70,61.07 455.20,62.58 455.70,64.17 456.20,65.83 456.70,67.55 457.20,69.31 457.70,71.10 458.20,72.91 458.70,74.73 459.20,76.54 459.70,78.34 460.20,80.10 460.70,81.83 461.20,83.50 461.70,85.10 462.20,86.64 462.70,88.08 463.20,89.43 463.70,90.67 464.20,91.80 464.70,92.81 465.20,93.68 465.70,94.43 466.20,95.03 466.70,95.49 467.20,95.81 467.70,95.97 468.20,95.99 468.70,95.85 469.20,95.57 469.70,95.14 470.20,94.56 470.70,93.84 471.20,92.99 471.70,92.01 472.20,90.90 472.70,89.68 473.20,88.36 473.70,86.93 474.20,85.42 474.70,83.83 475.20,82.17 475.70,80.45 476.20,78.69 476.70,76.90 477.20,75.09 477.70,73.27 478.20,71.46 478.70,69.66 479.20,67.90 479.70,66.17 480.20,64.50 480.70,62.90 481.20,61.36 481.70,59.92 482.20,58.57 482.70,57.33 483.20,56.20 483.70,55.19 484.20,54.32 484.70,53.57 485.20,52.97 485.70,52.51 486.20,52.19 486.70,52.03 487.20,52.01" fill="none" stroke="#20d0d0" stroke-width="1.3" stroke-linejoin="round" clip-path="url(#cc)"/>
<polyline points="360.20,122.96 360.70,122.98 361.20,122.80 361.70,122.41 362.20,121.82 362.70,121.04 363.20,120.06 363.70,118.89 364.20,117.54 364.70,116.02 365.20,114.32 365.70,112.48 366.20,110.48 366.70,108.35 367.20,106.10 367.70,103.73 368.20,101.27 368.70,98.72 369.20,96.10 369.70,93.42 370.20,90.70 370.70,87.96 371.20,85.20 371.70,82.44 372.20,79.70 372.70,77.00 373.20,74.34 373.70,71.75 374.20,69.23 374.70,66.81 375.20,64.48 375.70,62.28 376.20,60.20 376.70,58.27 377.20,56.48 377.70,54.85 378.20,53.40 378.70,52.12 379.20,51.03 379.70,50.12 380.20,49.42 380.70,48.91 381.20,48.60 381.70,48.50 382.20,48.59 382.70,48.87 383.20,49.32 383.70,49.95 384.20,50.75 384.70,51.72 385.20,52.84 385.70,54.12 386.20,55.53 386.70,57.07 387.20,58.73 387.70,60.48 388.20,62.33 388.70,64.25 389.20,66.23 389.70,68.26 390.20,70.31 390.70,72.37 391.20,74.43 391.70,76.46 392.20,78.46 392.70,80.41 393.20,82.29 393.70,84.08 394.20,85.78 394.70,87.37 395.20,88.83 395.70,90.16 396.20,91.35 396.70,92.38 397.20,93.25 397.70,93.95 398.20,94.47 398.70,94.82 399.20,94.99 399.70,94.97 400.20,94.78 400.70,94.43 401.20,93.91 401.70,93.23 402.20,92.40 402.70,91.41 403.20,90.27 403.70,89.00 404.20,87.59 404.70,86.07 405.20,84.43 405.70,82.69 406.20,80.86 406.70,78.96 407.20,76.99 407.70,74.96 408.20,72.90 408.70,70.81 409.20,68.70 409.70,66.59 410.20,64.50 410.70,62.44 411.20,60.41 411.70,58.44 412.20,56.54 412.70,54.71 413.20,52.97 413.70,51.33 414.20,49.81 414.70,48.40 415.20,47.13 415.70,45.99 416.20,45.00 416.70,44.17 417.20,43.49 417.70,42.97 418.20,42.62 418.70,42.43 419.20,42.41 419.70,42.58 420.20,42.94 420.70,43.47 421.20,44.19 421.70,45.08 422.20,46.14 422.70,47.36 423.20,48.73 423.70,50.25 424.20,51.90 424.70,53.68 425.20,55.57 425.70,57.55 426.20,59.62 426.70,61.77 427.20,63.96 427.70,66.21 428.20,68.48 428.70,70.76 429.20,73.03 429.70,75.29 430.20,77.52 430.70,79.70 431.20,81.81 431.70,83.85 432.20,85.80 432.70,87.64 433.20,89.37 433.70,90.97 434.20,92.43 434.70,93.75 435.20,94.91 435.70,95.90 436.20,96.72 436.70,97.36 437.20,97.83 437.70,98.11 438.20,98.20 438.70,98.13 439.20,97.92 439.70,97.57 440.20,97.09 440.70,96.47 441.20,95.73 441.70,94.86 442.20,93.87 442.70,92.78 443.20,91.58 443.70,90.29 444.20,88.92 444.70,87.46 445.20,85.95 445.70,84.38 446.20,82.76 446.70,81.11 447.20,79.44 447.70,77.76 448.20,76.09 448.70,74.43 449.20,72.79 449.70,71.19 450.20,69.64 450.70,68.15 451.20,66.72 451.70,65.38 452.20,64.13 452.70,62.97 453.20,61.92 453.70,60.98 454.20,60.16 454.70,59.47 455.20,58.90 455.70,58.47 456.20,58.18 456.70,58.03 457.20,58.01 457.70,58.13 458.20,58.39 458.70,58.78 459.20,59.31 459.70,59.96 460.20,60.73 460.70,61.63 461.20,62.63 461.70,63.74 462.20,64.95 462.70,66.24 463.20,67.62 463.70,69.07 464.20,70.58 464.70,72.13 465.20,73.73 465.70,75.36 466.20,77.01 466.70,78.66 467.20,80.31 467.70,81.94 468.20,83.55 468.70,85.12 469.20,86.64 469.70,88.10 470.20,89.49 470.70,90.80 471.20,92.02 471.70,93.15 472.20,94.18 472.70,95.10 473.20,95.89 473.70,96.57 474.20,97.12 474.70,97.54 475.20,97.83 475.70,97.98 476.20,97.99 476.70,97.87 477.20,97.61 477.70,97.22 478.20,96.69 478.70,96.04 479.20,95.27 479.70,94.37 480.20,93.37 480.70,92.26 481.20,91.05 481.70,89.76 482.20,88.38 482.70,86.93 483.20,85.42 483.70,83.87 484.20,82.27 484.70,80.64 485.20,78.99 485.70,77.34 486.20,75.69 486.70,74.06 487.20,72.45" fill="none" stroke="#e8307a" stroke-width="1.3" stroke-linejoin="round" clip-path="url(#cc)"/>
<rect x="452.50" y="52.00" width="34.90" height="75.70" stroke="#aaa" stroke-width="0.6" fill="#fff"/>
<line x1="454.80" y1="67.30" x2="466.60" y2="67.30" stroke="#2868c0" stroke-width="1.3"/>
<text x="467.40" y="69.21" font-size="5.3" text-anchor="start" fill="#222" stroke="#222" stroke-width="0.148">80.0 °C</text>
<line x1="454.80" y1="74.40" x2="466.60" y2="74.40" stroke="#20a0b0" stroke-width="1.3"/>
<text x="467.40" y="76.31" font-size="5.3" text-anchor="start" fill="#222" stroke="#222" stroke-width="0.148">70.3 °C</text>
<line x1="454.80" y1="81.50" x2="466.60" y2="81.50" stroke="#d89040" stroke-width="1.3"/>
<text x="467.40" y="83.41" font-size="5.3" text-anchor="start" fill="#222" stroke="#222" stroke-width="0.148">60.7 °C</text>
<line x1="454.80" y1="88.60" x2="466.60" y2="88.60" stroke="#30c060" stroke-width="1.3"/>
<text x="467.40" y="90.51" font-size="5.3" text-anchor="start" fill="#222" stroke="#222" stroke-width="0.148">55.2 °C</text>
<line x1="454.80" y1="95.70" x2="466.60" y2="95.70" stroke="#e8307a" stroke-width="1.3"/>
<text x="467.40" y="97.61" font-size="5.3" text-anchor="start" fill="#222" stroke="#222" stroke-width="0.148">50.3 °C</text>
<line x1="454.80" y1="102.80" x2="466.60" y2="102.80" stroke="#20d0d0" stroke-width="1.3"/>
<text x="467.40" y="104.71" font-size="5.3" text-anchor="start" fill="#222" stroke="#222" stroke-width="0.148">45.2 °C</text>
<line x1="454.80" y1="109.90" x2="466.60" y2="109.90" stroke="#4848a8" stroke-width="1.3"/>
<text x="467.40" y="111.81" font-size="5.3" text-anchor="start" fill="#222" stroke="#222" stroke-width="0.148">40.5 °C</text>
<line x1="454.80" y1="117.00" x2="466.60" y2="117.00" stroke="#a8b020" stroke-width="1.3"/>
<text x="467.40" y="118.91" font-size="5.3" text-anchor="start" fill="#222" stroke="#222" stroke-width="0.148">30.1 °C</text>
<line x1="454.80" y1="124.10" x2="466.60" y2="124.10" stroke="#888888" stroke-width="1.3"/>
<text x="467.40" y="126.01" font-size="5.3" text-anchor="start" fill="#222" stroke="#222" stroke-width="0.148">25.3 °C</text>
<rect x="360.50" y="25.50" width="127.00" height="102.00" stroke="#151515" stroke-width="1.15" fill="none"/>
<line x1="357.70" y1="51.30" x2="360.20" y2="51.30" stroke="#111" stroke-width="0.9"/>
<text x="357.10" y="54.00" font-size="7.5" text-anchor="end" fill="#000" stroke="#000" stroke-width="0.210">-44</text>
<line x1="357.70" y1="103.20" x2="360.20" y2="103.20" stroke="#111" stroke-width="0.9"/>
<text x="357.10" y="105.90" font-size="7.5" text-anchor="end" fill="#000" stroke="#000" stroke-width="0.210">-46</text>
<line x1="358.60" y1="77.25" x2="360.20" y2="77.25" stroke="#111" stroke-width="0.8"/>
<line x1="360.20" y1="127.70" x2="360.20" y2="130.20" stroke="#111" stroke-width="0.9"/>
<text x="360.20" y="138.32" font-size="8.1" text-anchor="middle" fill="#000" stroke="#000" stroke-width="0.227">1540</text>
<line x1="418.10" y1="127.70" x2="418.10" y2="130.20" stroke="#111" stroke-width="0.9"/>
<text x="418.10" y="138.32" font-size="8.1" text-anchor="middle" fill="#000" stroke="#000" stroke-width="0.227">1550</text>
<line x1="476.00" y1="127.70" x2="476.00" y2="130.20" stroke="#111" stroke-width="0.9"/>
<text x="476.00" y="138.32" font-size="8.1" text-anchor="middle" fill="#000" stroke="#000" stroke-width="0.227">1560</text>
<line x1="389.15" y1="127.70" x2="389.15" y2="129.30" stroke="#111" stroke-width="0.8"/>
<line x1="447.05" y1="127.70" x2="447.05" y2="129.30" stroke="#111" stroke-width="0.8"/>
<text x="423.00" y="146.50" font-size="7.9" text-anchor="middle" fill="#000" stroke="#000" stroke-width="0.221">Wavelength Shift (nm)</text>
<g transform="translate(341.80 76.50) rotate(-90.00)"><text x="0" y="2.79" font-size="7.75" text-anchor="middle" fill="#000" stroke="#000" stroke-width="0.217">Reflection Intensity (dB)</text></g>
<text x="361.00" y="32.61" font-size="7.8" text-anchor="start" fill="#000" stroke="#000" stroke-width="0.218">PMMA_SPFPI</text>
<text x="338.00" y="28.40" font-size="13.8" text-anchor="start" fill="#000" stroke="#000" stroke-width="0.386">(c)</text>
<line x1="451.90" y1="107.10" x2="391.10" y2="107.10" stroke="#1a1aff" stroke-width="1.3"/>
<polygon points="386.60,107.10 391.60,104.90 391.60,109.30" fill="#1a1aff"/>
<text x="429.20" y="117.04" font-size="7.6" text-anchor="middle" fill="#1a1aff" stroke="#1a1aff" stroke-width="0.213">Blue shift</text>
<polyline points="94.17,243.76 95.52,243.21 96.87,242.66 98.22,242.10 99.56,241.54 100.91,240.97 102.26,240.40 103.61,239.83 104.95,239.24 106.30,238.66 107.65,238.07 109.00,237.47 110.34,236.87 111.69,236.26 113.04,235.65 114.39,235.04 115.73,234.42 117.08,233.80 118.43,233.17 119.78,232.53 121.12,231.89 122.47,231.25 123.82,230.60 125.17,229.95 126.52,229.29 127.86,228.62 129.21,227.96 130.56,227.28 131.91,226.61 133.25,225.92 134.60,225.24 135.95,224.54 137.30,223.85 138.64,223.15 139.99,222.44 141.34,221.73 142.69,221.01 144.03,220.29 145.38,219.57 146.73,218.84 148.07,218.10 149.42,217.36 150.77,216.62 152.12,215.87 153.47,215.11 154.81,214.35 156.16,213.59 157.51,212.82 158.86,212.05 160.20,211.27 161.55,210.48 162.90,209.70 164.25,208.90 165.59,208.10 166.94,207.30 168.29,206.49 169.63,205.68 170.98,204.86 172.33,204.04 173.68,203.22 175.02,202.38 176.37,201.55 177.72,200.71 179.07,199.86 180.41,199.01 181.76,198.16 183.11,197.29 184.46,196.43 185.81,195.56 187.15,194.68 188.50,193.81 189.85,192.92 191.19,192.03 192.54,191.14 193.89,190.24 195.24,189.34 196.58,188.43 197.93,187.51 199.28,186.60 200.63,185.67 201.97,184.74 203.32,183.81 204.67,182.88 206.02,181.93 207.37,180.99 208.71,180.03 210.06,179.08 211.41,178.12 212.75,177.15 214.10,176.18 215.45,175.20 216.80,174.22 218.14,173.24 219.49,172.25 220.84,171.25 222.19,170.25 223.53,169.25 224.88,168.24 226.23,167.22 227.58,166.20 228.93,165.18 230.27,164.15 231.62,163.12 232.97,162.08 234.31,161.04 235.66,159.99 237.01,158.94 238.36,157.88 239.70,156.82 241.05,155.75 242.40,154.68" fill="none" stroke="#ff2020" stroke-width="1.1" stroke-linejoin="round"/>
<polyline points="94.17,244.76 95.52,244.21 96.87,243.66 98.22,243.10 99.56,242.54 100.91,241.97 102.26,241.40 103.61,240.83 104.95,240.24 106.30,239.66 107.65,239.07 109.00,238.47 110.34,237.87 111.69,237.26 113.04,236.65 114.39,236.04 115.73,235.42 117.08,234.80 118.43,234.17 119.78,233.53 121.12,232.89 122.47,232.25 123.82,231.60 125.17,230.95 126.52,230.29 127.86,229.62 129.21,228.96 130.56,228.28 131.91,227.61 133.25,226.92 134.60,226.24 135.95,225.54 137.30,224.85 138.64,224.15 139.99,223.44 141.34,222.73 142.69,222.01 144.03,221.29 145.38,220.57 146.73,219.84 148.07,219.10 149.42,218.36 150.77,217.62 152.12,216.87 153.47,216.11 154.81,215.35 156.16,214.59 157.51,213.82 158.86,213.05 160.20,212.27 161.55,211.48 162.90,210.70 164.25,209.90 165.59,209.10 166.94,208.30 168.29,207.49 169.63,206.68 170.98,205.86 172.33,205.04 173.68,204.22 175.02,203.38 176.37,202.55 177.72,201.71 179.07,200.86 180.41,200.01 181.76,199.16 183.11,198.29 184.46,197.43 185.81,196.56 187.15,195.68 188.50,194.81 189.85,193.92 191.19,193.03 192.54,192.14 193.89,191.24 195.24,190.34 196.58,189.43 197.93,188.51 199.28,187.60 200.63,186.67 201.97,185.74 203.32,184.81 204.67,183.88 206.02,182.93 207.37,181.99 208.71,181.03 210.06,180.08 211.41,179.12 212.75,178.15 214.10,177.18 215.45,176.20 216.80,175.22 218.14,174.24 219.49,173.25 220.84,172.25 222.19,171.25 223.53,170.25 224.88,169.24 226.23,168.22 227.58,167.20 228.93,166.18 230.27,165.15 231.62,164.12 232.97,163.08 234.31,162.04 235.66,160.99 237.01,159.94 238.36,158.88 239.70,157.82 241.05,156.75 242.40,155.68" fill="none" stroke="#1a1ae0" stroke-width="1.4" stroke-linejoin="round"/>
<circle cx="94.17" cy="241.90" r="2.3" fill="url(#gk)"/>
<circle cx="107.65" cy="239.08" r="2.3" fill="url(#gk)"/>
<circle cx="121.12" cy="234.73" r="2.3" fill="url(#gk)"/>
<circle cx="134.60" cy="230.12" r="2.3" fill="url(#gk)"/>
<circle cx="148.07" cy="221.42" r="2.3" fill="url(#gk)"/>
<circle cx="161.55" cy="210.67" r="2.3" fill="url(#gk)"/>
<circle cx="175.02" cy="204.01" r="2.3" fill="url(#gk)"/>
<circle cx="204.13" cy="179.95" r="2.3" fill="url(#gk)"/>
<circle cx="215.45" cy="174.83" r="2.3" fill="url(#gk)"/>
<circle cx="229.46" cy="165.10" r="2.3" fill="url(#gk)"/>
<circle cx="242.40" cy="157.42" r="2.3" fill="url(#gk)"/>
<circle cx="94.17" cy="241.90" r="2.3" fill="url(#gr)"/>
<circle cx="107.65" cy="238.83" r="2.3" fill="url(#gr)"/>
<circle cx="121.12" cy="234.73" r="2.3" fill="url(#gr)"/>
<circle cx="134.60" cy="230.12" r="2.3" fill="url(#gr)"/>
<circle cx="148.07" cy="221.42" r="2.3" fill="url(#gr)"/>
<circle cx="161.55" cy="211.18" r="2.3" fill="url(#gr)"/>
<circle cx="175.02" cy="202.48" r="2.3" fill="url(#gr)"/>
<circle cx="204.13" cy="180.97" r="2.3" fill="url(#gr)"/>
<circle cx="215.45" cy="175.34" r="2.3" fill="url(#gr)"/>
<circle cx="229.46" cy="165.61" r="2.3" fill="url(#gr)"/>
<circle cx="242.40" cy="158.44" r="2.3" fill="url(#gr)"/>
<circle cx="94.17" cy="241.90" r="2.3" fill="url(#gb)"/>
<circle cx="107.65" cy="238.83" r="2.3" fill="url(#gb)"/>
<circle cx="121.12" cy="234.48" r="2.3" fill="url(#gb)"/>
<circle cx="134.60" cy="230.12" r="2.3" fill="url(#gb)"/>
<circle cx="148.07" cy="220.91" r="2.3" fill="url(#gb)"/>
<circle cx="161.55" cy="209.64" r="2.3" fill="url(#gb)"/>
<circle cx="175.02" cy="206.06" r="2.3" fill="url(#gb)"/>
<circle cx="204.13" cy="178.41" r="2.3" fill="url(#gb)"/>
<circle cx="215.45" cy="174.57" r="2.3" fill="url(#gb)"/>
<circle cx="229.46" cy="164.59" r="2.3" fill="url(#gb)"/>
<circle cx="242.40" cy="156.40" r="2.3" fill="url(#gb)"/>
<rect x="80.70" y="149.90" width="68.40" height="39.80" stroke="#aaa" stroke-width="0.6" fill="#fff"/>
<circle cx="89.50" cy="158.50" r="1.9" fill="url(#gk)"/>
<circle cx="89.50" cy="169.50" r="1.9" fill="url(#gr)"/>
<circle cx="89.50" cy="180.20" r="1.9" fill="url(#gb)"/>
<text x="94.90" y="161.18" font-size="7.45" fill="#111" stroke="#111" stroke-width="0.209" text-anchor="start" xml:space="preserve"><tspan>1</tspan><tspan font-size="4.92" dy="-2.68">st</tspan><tspan dy="2.68"> </tspan><tspan>R</tspan><tspan font-size="4.92" dy="-2.68">2</tspan><tspan dy="2.68"> </tspan><tspan>=0.9897</tspan></text>
<text x="94.90" y="172.18" font-size="7.45" fill="#111" stroke="#111" stroke-width="0.209" text-anchor="start" xml:space="preserve"><tspan>2</tspan><tspan font-size="4.92" dy="-2.68">nd</tspan><tspan dy="2.68"> </tspan><tspan>R</tspan><tspan font-size="4.92" dy="-2.68">2</tspan><tspan dy="2.68"> </tspan><tspan>= 0.9938</tspan></text>
<text x="94.90" y="182.88" font-size="7.45" fill="#111" stroke="#111" stroke-width="0.209" text-anchor="start" xml:space="preserve"><tspan>3</tspan><tspan font-size="4.92" dy="-2.68">rd</tspan><tspan dy="2.68"> </tspan><tspan>R</tspan><tspan font-size="4.92" dy="-2.68">2</tspan><tspan dy="2.68"> </tspan><tspan>= 0.9917</tspan></text>
<rect x="80.50" y="149.50" width="176.00" height="103.00" stroke="#151515" stroke-width="1.15" fill="none"/>
<line x1="78.20" y1="241.90" x2="80.70" y2="241.90" stroke="#111" stroke-width="0.9"/>
<text x="77.60" y="244.60" font-size="7.5" text-anchor="end" fill="#000" stroke="#000" stroke-width="0.210">0</text>
<line x1="78.20" y1="216.30" x2="80.70" y2="216.30" stroke="#111" stroke-width="0.9"/>
<text x="77.60" y="219.00" font-size="7.5" text-anchor="end" fill="#000" stroke="#000" stroke-width="0.210">5</text>
<line x1="78.20" y1="190.70" x2="80.70" y2="190.70" stroke="#111" stroke-width="0.9"/>
<text x="77.60" y="193.40" font-size="7.5" text-anchor="end" fill="#000" stroke="#000" stroke-width="0.210">10</text>
<line x1="78.20" y1="165.10" x2="80.70" y2="165.10" stroke="#111" stroke-width="0.9"/>
<text x="77.60" y="167.80" font-size="7.5" text-anchor="end" fill="#000" stroke="#000" stroke-width="0.210">15</text>
<line x1="79.10" y1="229.10" x2="80.70" y2="229.10" stroke="#111" stroke-width="0.8"/>
<line x1="79.10" y1="203.50" x2="80.70" y2="203.50" stroke="#111" stroke-width="0.8"/>
<line x1="79.10" y1="177.90" x2="80.70" y2="177.90" stroke="#111" stroke-width="0.8"/>
<line x1="79.10" y1="152.30" x2="80.70" y2="152.30" stroke="#111" stroke-width="0.8"/>
<line x1="80.70" y1="252.70" x2="80.70" y2="255.20" stroke="#111" stroke-width="0.9"/>
<text x="80.70" y="262.10" font-size="7.5" text-anchor="middle" fill="#000" stroke="#000" stroke-width="0.210">20</text>
<line x1="134.60" y1="252.70" x2="134.60" y2="255.20" stroke="#111" stroke-width="0.9"/>
<text x="134.60" y="262.10" font-size="7.5" text-anchor="middle" fill="#000" stroke="#000" stroke-width="0.210">40</text>
<line x1="188.50" y1="252.70" x2="188.50" y2="255.20" stroke="#111" stroke-width="0.9"/>
<text x="188.50" y="262.10" font-size="7.5" text-anchor="middle" fill="#000" stroke="#000" stroke-width="0.210">60</text>
<line x1="242.40" y1="252.70" x2="242.40" y2="255.20" stroke="#111" stroke-width="0.9"/>
<text x="242.40" y="262.10" font-size="7.5" text-anchor="middle" fill="#000" stroke="#000" stroke-width="0.210">80</text>
<line x1="107.65" y1="252.70" x2="107.65" y2="254.30" stroke="#111" stroke-width="0.8"/>
<line x1="161.55" y1="252.70" x2="161.55" y2="254.30" stroke="#111" stroke-width="0.8"/>
<line x1="215.45" y1="252.70" x2="215.45" y2="254.30" stroke="#111" stroke-width="0.8"/>
<text x="168.50" y="271.30" font-size="7.7" text-anchor="middle" fill="#000" stroke="#000" stroke-width="0.216">Temperature (·C)</text>
<g transform="translate(63.30 201.50) rotate(-90.00)"><text x="0" y="2.81" font-size="7.8" text-anchor="middle" fill="#000" stroke="#000" stroke-width="0.218">Wavelength shift (nm)</text></g>
<text x="255.20" y="250.24" font-size="7.9" text-anchor="end" fill="#000" stroke="#000" stroke-width="0.221">PMMA_SPFPI</text>
<text x="50.40" y="158.60" font-size="14.6" text-anchor="start" fill="#000" stroke="#000" stroke-width="0.409">(d)</text>
<circle cx="342.71" cy="235.96" r="2.2" fill="none" stroke="#f07070" stroke-width="0.8"/>
<circle cx="357.34" cy="231.08" r="2.2" fill="none" stroke="#f07070" stroke-width="0.8"/>
<circle cx="369.24" cy="222.78" r="2.2" fill="none" stroke="#f07070" stroke-width="0.8"/>
<circle cx="381.89" cy="211.56" r="2.2" fill="none" stroke="#f07070" stroke-width="0.8"/>
<circle cx="395.04" cy="203.99" r="2.2" fill="none" stroke="#f07070" stroke-width="0.8"/>
<circle cx="420.58" cy="183.25" r="2.2" fill="none" stroke="#f07070" stroke-width="0.8"/>
<circle cx="431.24" cy="178.37" r="2.2" fill="none" stroke="#f07070" stroke-width="0.8"/>
<circle cx="444.39" cy="168.61" r="2.2" fill="none" stroke="#f07070" stroke-width="0.8"/>
<circle cx="456.04" cy="162.76" r="2.2" fill="none" stroke="#f07070" stroke-width="0.8"/>
<circle cx="330.80" cy="238.64" r="2.2" fill="none" stroke="#7070f0" stroke-width="0.8"/>
<circle cx="358.08" cy="230.34" r="2.2" fill="none" stroke="#7070f0" stroke-width="0.8"/>
<circle cx="369.24" cy="221.56" r="2.2" fill="none" stroke="#7070f0" stroke-width="0.8"/>
<circle cx="381.89" cy="214.48" r="2.2" fill="none" stroke="#7070f0" stroke-width="0.8"/>
<circle cx="394.79" cy="206.68" r="2.2" fill="none" stroke="#7070f0" stroke-width="0.8"/>
<circle cx="407.68" cy="193.50" r="2.2" fill="none" stroke="#7070f0" stroke-width="0.8"/>
<circle cx="431.24" cy="175.20" r="2.2" fill="none" stroke="#7070f0" stroke-width="0.8"/>
<circle cx="456.04" cy="160.80" r="2.2" fill="none" stroke="#7070f0" stroke-width="0.8"/>
<polygon points="317.30,239.88 314.60,244.74 320.00,244.74" fill="#ff00ff"/>
<polygon points="321.60,245.72 318.90,240.86 324.30,240.86" fill="#8000ff"/>
<polygon points="331.30,239.88 328.60,244.74 334.00,244.74" fill="#ff00ff"/>
<polygon points="334.30,245.72 331.60,240.86 337.00,240.86" fill="#8000ff"/>
<polygon points="346.60,239.78 343.80,244.82 349.40,244.82" fill="#ff00ff"/>
<polygon points="346.60,245.82 343.80,240.78 349.40,240.78" fill="#9010ff"/>
<polygon points="361.50,239.78 358.70,244.82 364.30,244.82" fill="#ff00ff"/>
<polygon points="361.50,245.82 358.70,240.78 364.30,240.78" fill="#9010ff"/>
<polygon points="371.70,239.78 368.90,244.82 374.50,244.82" fill="#ff00ff"/>
<polygon points="371.70,245.82 368.90,240.78 374.50,240.78" fill="#9010ff"/>
<polygon points="384.00,239.78 381.20,244.82 386.80,244.82" fill="#ff00ff"/>
<polygon points="384.00,245.82 381.20,240.78 386.80,240.78" fill="#9010ff"/>
<polygon points="406.30,239.78 403.50,244.82 409.10,244.82" fill="#ff00ff"/>
<polygon points="406.30,245.82 403.50,240.78 409.10,240.78" fill="#9010ff"/>
<polygon points="419.00,239.78 416.20,244.82 421.80,244.82" fill="#ff00ff"/>
<polygon points="419.00,245.82 416.20,240.78 421.80,240.78" fill="#9010ff"/>
<polygon points="431.20,239.78 428.40,244.82 434.00,244.82" fill="#ff00ff"/>
<polygon points="431.20,245.82 428.40,240.78 434.00,240.78" fill="#9010ff"/>
<polygon points="444.00,239.78 441.20,244.82 446.80,244.82" fill="#ff00ff"/>
<polygon points="444.00,245.82 441.20,240.78 446.80,240.78" fill="#9010ff"/>
<polygon points="456.10,239.78 453.30,244.82 458.90,244.82" fill="#ff00ff"/>
<polygon points="456.10,245.82 453.30,240.78 458.90,240.78" fill="#9010ff"/>
<rect x="293.50" y="149.90" width="47.70" height="25.00" stroke="#aaa" stroke-width="0.6" fill="#fff"/>
<circle cx="300.40" cy="153.60" r="1.8" fill="none" stroke="#f07070" stroke-width="0.7"/>
<circle cx="300.40" cy="159.30" r="1.8" fill="none" stroke="#7070f0" stroke-width="0.7"/>
<polygon points="300.40,163.25 298.50,166.67 302.30,166.67" fill="#ff00ff"/>
<polygon points="300.40,173.45 298.50,170.03 302.30,170.03" fill="#8000ff"/>
<text x="306.20" y="155.35" font-size="4.85" text-anchor="start" fill="#333" stroke="#333" stroke-width="0.136">Heating PMMA</text>
<text x="306.20" y="161.05" font-size="4.85" text-anchor="start" fill="#333" stroke="#333" stroke-width="0.136">Cooling PMMA</text>
<text x="306.20" y="167.05" font-size="4.85" text-anchor="start" fill="#333" stroke="#333" stroke-width="0.136">Heating SMF</text>
<text x="306.20" y="173.15" font-size="4.85" text-anchor="start" fill="#333" stroke="#333" stroke-width="0.136">Cooling SMF</text>
<rect x="293.50" y="149.50" width="176.00" height="103.00" stroke="#151515" stroke-width="1.15" fill="none"/>
<line x1="291.00" y1="242.30" x2="293.50" y2="242.30" stroke="#111" stroke-width="0.9"/>
<text x="290.40" y="245.00" font-size="7.5" text-anchor="end" fill="#000" stroke="#000" stroke-width="0.210">0</text>
<line x1="291.00" y1="217.90" x2="293.50" y2="217.90" stroke="#111" stroke-width="0.9"/>
<text x="290.40" y="220.60" font-size="7.5" text-anchor="end" fill="#000" stroke="#000" stroke-width="0.210">5</text>
<line x1="291.00" y1="193.50" x2="293.50" y2="193.50" stroke="#111" stroke-width="0.9"/>
<text x="290.40" y="196.20" font-size="7.5" text-anchor="end" fill="#000" stroke="#000" stroke-width="0.210">10</text>
<line x1="291.00" y1="169.10" x2="293.50" y2="169.10" stroke="#111" stroke-width="0.9"/>
<text x="290.40" y="171.80" font-size="7.5" text-anchor="end" fill="#000" stroke="#000" stroke-width="0.210">15</text>
<line x1="291.90" y1="230.10" x2="293.50" y2="230.10" stroke="#111" stroke-width="0.8"/>
<line x1="291.90" y1="205.70" x2="293.50" y2="205.70" stroke="#111" stroke-width="0.8"/>
<line x1="291.90" y1="181.30" x2="293.50" y2="181.30" stroke="#111" stroke-width="0.8"/>
<line x1="291.90" y1="156.90" x2="293.50" y2="156.90" stroke="#111" stroke-width="0.8"/>
<line x1="306.50" y1="252.40" x2="306.50" y2="254.90" stroke="#111" stroke-width="0.9"/>
<text x="306.50" y="262.10" font-size="7.5" text-anchor="middle" fill="#000" stroke="#000" stroke-width="0.210">20</text>
<line x1="356.10" y1="252.40" x2="356.10" y2="254.90" stroke="#111" stroke-width="0.9"/>
<text x="356.10" y="262.10" font-size="7.5" text-anchor="middle" fill="#000" stroke="#000" stroke-width="0.210">40</text>
<line x1="405.70" y1="252.40" x2="405.70" y2="254.90" stroke="#111" stroke-width="0.9"/>
<text x="405.70" y="262.10" font-size="7.5" text-anchor="middle" fill="#000" stroke="#000" stroke-width="0.210">60</text>
<line x1="455.30" y1="252.40" x2="455.30" y2="254.90" stroke="#111" stroke-width="0.9"/>
<text x="455.30" y="262.10" font-size="7.5" text-anchor="middle" fill="#000" stroke="#000" stroke-width="0.210">80</text>
<line x1="331.30" y1="252.40" x2="331.30" y2="254.00" stroke="#111" stroke-width="0.8"/>
<line x1="380.90" y1="252.40" x2="380.90" y2="254.00" stroke="#111" stroke-width="0.8"/>
<line x1="430.50" y1="252.40" x2="430.50" y2="254.00" stroke="#111" stroke-width="0.8"/>
<text x="378.20" y="271.60" font-size="7.7" text-anchor="middle" fill="#000" stroke="#000" stroke-width="0.216">Temperature (·C)</text>
<g transform="translate(273.80 205.90) rotate(-90.00)"><text x="0" y="2.77" font-size="7.7" text-anchor="middle" fill="#000" stroke="#000" stroke-width="0.216">Wavelength shift (nm)</text></g>
<text x="466.30" y="157.74" font-size="7.6" text-anchor="end" fill="#000" stroke="#000" stroke-width="0.213">PMMA_SPFPI</text>
<text x="263.30" y="158.80" font-size="15.0" text-anchor="start" fill="#000" stroke="#000" stroke-width="0.420">(e)</text>
<line x1="374.50" y1="210.00" x2="399.54" y2="188.08" stroke="#ff2020" stroke-width="1.0"/>
<polygon points="401.80,186.10 400.22,189.61 398.11,187.20" fill="#ff2020"/>
<text x="392.70" y="183.97" font-size="5.2" text-anchor="middle" fill="#ff2020" stroke="#ff2020" stroke-width="0.146">Heating</text>
<line x1="419.00" y1="197.30" x2="396.00" y2="218.56" stroke="#2020ff" stroke-width="1.0"/>
<polygon points="393.80,220.60 395.28,217.05 397.46,219.40" fill="#2020ff"/>
<text x="425.80" y="194.82" font-size="5.6" text-anchor="middle" fill="#2020ff" stroke="#2020ff" stroke-width="0.157">Cooling</text>
<line x1="384.90" y1="236.60" x2="421.30" y2="236.60" stroke="#ff20ff" stroke-width="0.9"/>
<polygon points="424.00,236.60 420.80,238.00 420.80,235.20" fill="#ff20ff"/>
<text x="411.20" y="233.64" font-size="5.4" text-anchor="middle" fill="#ff30ff" stroke="#ff30ff" stroke-width="0.151">Heating</text>
<line x1="427.80" y1="246.60" x2="389.80" y2="246.60" stroke="#a030ff" stroke-width="0.9"/>
<polygon points="387.10,246.60 390.30,245.20 390.30,248.00" fill="#a030ff"/>
<text x="442.30" y="250.14" font-size="5.4" text-anchor="middle" fill="#a030ff" stroke="#a030ff" stroke-width="0.151">Cooling</text>
<polyline points="48.50,342.36 49.20,340.00 49.90,337.55 50.60,335.03 51.30,332.47 52.00,329.88 52.70,327.29 53.40,324.73 54.10,322.21 54.80,319.76 55.50,317.40 56.20,315.16 56.90,313.05 57.60,311.10 58.30,309.32 59.00,307.72 59.70,306.33 60.40,305.16 61.10,304.20 61.80,303.49 62.50,303.01 63.20,302.78 63.90,302.79 64.60,302.97 65.30,303.33 66.00,303.85 66.70,304.53 67.40,305.37 68.10,306.36 68.80,307.49 69.50,308.75 70.20,310.13 70.90,311.61 71.60,313.18 72.30,314.83 73.00,316.54 73.70,318.30 74.40,320.09 75.10,321.89 75.80,323.69 76.50,325.47 77.20,327.22 77.90,328.91 78.60,330.54 79.30,332.09 80.00,333.54 80.70,334.88 81.40,336.10 82.10,337.19 82.80,338.14 83.50,338.94 84.20,339.58 84.90,340.05 85.60,340.36 86.30,340.49 87.00,340.44 87.70,340.15 88.40,339.62 89.10,338.86 89.80,337.88 90.50,336.68 91.20,335.27 91.90,333.68 92.60,331.90 93.30,329.97 94.00,327.89 94.70,325.69 95.40,323.38 96.10,320.99 96.80,318.53 97.50,316.04 98.20,313.53 98.90,311.03 99.60,308.56 100.30,306.14 101.00,303.79 101.70,301.54 102.40,299.41 103.10,297.41 103.80,295.56 104.50,293.89 105.20,292.40 105.90,291.11 106.60,290.03 107.30,289.18 108.00,288.55 108.70,288.16 109.40,288.00 110.10,288.08 110.80,288.38 111.50,288.89 112.20,289.61 112.90,290.54 113.60,291.67 114.30,292.98 115.00,294.46 115.70,296.10 116.40,297.89 117.10,299.81 117.80,301.84 118.50,303.96 119.20,306.16 119.90,308.41 120.60,310.69 121.30,312.98 122.00,315.27 122.70,317.52 123.40,319.73 124.10,321.86 124.80,323.91 125.50,325.84 126.20,327.65 126.90,329.31 127.60,330.82 128.30,332.16 129.00,333.31 129.70,334.27 130.40,335.02 131.10,335.56 131.80,335.89 132.50,336.00 133.20,335.91 133.90,335.63 134.60,335.16 135.30,334.52 136.00,333.70 136.70,332.72 137.40,331.58 138.10,330.29 138.80,328.87 139.50,327.32 140.20,325.67 140.90,323.92 141.60,322.10 142.30,320.22 143.00,318.29 143.70,316.34 144.40,314.38 145.10,312.43 145.80,310.51 146.50,308.63 147.20,306.82 147.90,305.09 148.60,303.45 149.30,301.92 150.00,300.52 150.70,299.25 151.40,298.13 152.10,297.17 152.80,296.38 153.50,295.76 154.20,295.32 154.90,295.07 155.60,295.00 156.30,295.12 157.00,295.43 157.70,295.92 158.40,296.59 159.10,297.43 159.80,298.44 160.50,299.60 161.20,300.91 161.90,302.35 162.60,303.91 163.30,305.58 164.00,307.33 164.70,309.17 165.40,311.06 166.10,312.99 166.80,314.94 167.50,316.90 168.20,318.85 168.90,320.76 169.60,322.63 170.30,324.43 171.00,326.15 171.70,327.78 172.40,329.29 173.10,330.67 173.80,331.92 174.50,333.02 175.20,333.95 175.90,334.72 176.60,335.31 177.30,335.73 178.00,335.95 178.70,335.99 179.40,335.85 180.10,335.51 180.80,335.00 181.50,334.30 182.20,333.44 182.90,332.41 183.60,331.22 184.30,329.90" fill="none" stroke="#202020" stroke-width="1.2" stroke-linejoin="round" clip-path="url(#cf)"/>
<polyline points="48.50,354.85 49.20,353.71 49.90,352.35 50.60,350.78 51.30,349.01 52.00,347.06 52.70,344.95 53.40,342.69 54.10,340.32 54.80,337.84 55.50,335.28 56.20,332.67 56.90,330.03 57.60,327.38 58.30,324.74 59.00,322.15 59.70,319.63 60.40,317.19 61.10,314.86 61.80,312.66 62.50,310.62 63.20,308.74 63.90,307.06 64.60,305.57 65.30,304.31 66.00,303.27 66.70,302.46 67.40,301.91 68.10,301.60 68.80,301.54 69.50,301.68 70.20,302.01 70.90,302.50 71.60,303.17 72.30,304.00 73.00,304.99 73.70,306.13 74.40,307.41 75.10,308.82 75.80,310.33 76.50,311.95 77.20,313.65 77.90,315.43 78.60,317.25 79.30,319.12 80.00,321.00 80.70,322.88 81.40,324.75 82.10,326.59 82.80,328.38 83.50,330.11 84.20,331.75 84.90,333.30 85.60,334.74 86.30,336.05 87.00,337.23 87.70,338.27 88.40,339.14 89.10,339.86 89.80,340.41 90.50,340.78 91.20,340.97 91.90,340.98 92.60,340.76 93.30,340.30 94.00,339.61 94.70,338.69 95.40,337.56 96.10,336.21 96.80,334.68 97.50,332.96 98.20,331.07 98.90,329.04 99.60,326.88 100.30,324.61 101.00,322.25 101.70,319.82 102.40,317.35 103.10,314.85 103.80,312.35 104.50,309.88 105.20,307.45 105.90,305.09 106.60,302.82 107.30,300.66 108.00,298.63 108.70,296.74 109.40,295.02 110.10,293.49 110.80,292.14 111.50,291.01 112.20,290.09 112.90,289.40 113.60,288.94 114.30,288.72 115.00,288.74 115.70,288.97 116.40,289.42 117.10,290.08 117.80,290.95 118.50,292.01 119.20,293.26 119.90,294.69 120.60,296.29 121.30,298.03 122.00,299.90 122.70,301.90 123.40,303.98 124.10,306.15 124.80,308.38 125.50,310.64 126.20,312.93 126.90,315.21 127.60,317.46 128.30,319.67 129.00,321.82 129.70,323.88 130.40,325.84 131.10,327.68 131.80,329.38 132.50,330.93 133.20,332.31 133.90,333.51 134.60,334.52 135.30,335.33 136.00,335.93 136.70,336.32 137.40,336.49 138.10,336.45 138.80,336.22 139.50,335.81 140.20,335.21 140.90,334.43 141.60,333.48 142.30,332.37 143.00,331.11 143.70,329.70 144.40,328.17 145.10,326.53 145.80,324.79 146.50,322.97 147.20,321.07 147.90,319.14 148.60,317.17 149.30,315.18 150.00,313.21 150.70,311.25 151.40,309.34 152.10,307.48 152.80,305.70 153.50,304.02 154.20,302.44 154.90,300.98 155.60,299.65 156.30,298.48 157.00,297.46 157.70,296.61 158.40,295.93 159.10,295.43 159.80,295.12 160.50,295.00 161.20,295.07 161.90,295.33 162.60,295.77 163.30,296.40 164.00,297.20 164.70,298.17 165.40,299.30 166.10,300.59 166.80,302.01 167.50,303.55 168.20,305.21 168.90,306.97 169.60,308.80 170.30,310.70 171.00,312.64 171.70,314.62 172.40,316.60 173.10,318.58 173.80,320.53 174.50,322.43 175.20,324.28 175.90,326.04 176.60,327.72 177.30,329.28 178.00,330.72 178.70,332.02 179.40,333.18 180.10,334.17 180.80,335.00 181.50,335.65 182.20,336.12 182.90,336.41 183.60,336.50 184.30,336.41" fill="none" stroke="#ff2020" stroke-width="1.2" stroke-linejoin="round" clip-path="url(#cf)"/>
<polyline points="48.50,356.25 49.20,356.60 49.90,356.71 50.60,356.59 51.30,356.20 52.00,355.57 52.70,354.68 53.40,353.56 54.10,352.22 54.80,350.65 55.50,348.89 56.20,346.94 56.90,344.82 57.60,342.55 58.30,340.16 59.00,337.66 59.70,335.08 60.40,332.44 61.10,329.76 61.80,327.07 62.50,324.40 63.20,321.77 63.90,319.20 64.60,316.71 65.30,314.34 66.00,312.09 66.70,309.99 67.40,308.07 68.10,306.33 68.80,304.80 69.50,303.48 70.20,302.39 70.90,301.55 71.60,300.95 72.30,300.60 73.00,300.51 73.70,300.63 74.40,300.93 75.10,301.42 75.80,302.09 76.50,302.93 77.20,303.94 77.90,305.10 78.60,306.41 79.30,307.85 80.00,309.41 80.70,311.08 81.40,312.84 82.10,314.67 82.80,316.56 83.50,318.49 84.20,320.44 84.90,322.40 85.60,324.35 86.30,326.26 87.00,328.13 87.70,329.93 88.40,331.65 89.10,333.28 89.80,334.79 90.50,336.17 91.20,337.42 91.90,338.52 92.60,339.45 93.30,340.22 94.00,340.81 94.70,341.23 95.40,341.45 96.10,341.49 96.80,341.30 97.50,340.88 98.20,340.23 98.90,339.34 99.60,338.24 100.30,336.94 101.00,335.43 101.70,333.74 102.40,331.89 103.10,329.89 103.80,327.75 104.50,325.50 105.20,323.16 105.90,320.75 106.60,318.29 107.30,315.81 108.00,313.32 108.70,310.85 109.40,308.42 110.10,306.06 110.80,303.78 111.50,301.61 112.20,299.57 112.90,297.67 113.60,295.93 114.30,294.38 115.00,293.01 115.70,291.85 116.40,290.90 117.10,290.18 117.80,289.69 118.50,289.44 119.20,289.42 119.90,289.62 120.60,290.04 121.30,290.67 122.00,291.50 122.70,292.53 123.40,293.76 124.10,295.16 124.80,296.72 125.50,298.43 126.20,300.28 126.90,302.25 127.60,304.32 128.30,306.47 129.00,308.68 129.70,310.93 130.40,313.20 131.10,315.47 131.80,317.72 132.50,319.93 133.20,322.08 133.90,324.15 134.60,326.12 135.30,327.97 136.00,329.68 136.70,331.24 137.40,332.64 138.10,333.87 138.80,334.90 139.50,335.73 140.20,336.36 140.90,336.78 141.60,336.98 142.30,336.97 143.00,336.76 143.70,336.37 144.40,335.79 145.10,335.03 145.80,334.09 146.50,332.99 147.20,331.73 147.90,330.33 148.60,328.80 149.30,327.16 150.00,325.41 150.70,323.57 151.40,321.67 152.10,319.71 152.80,317.72 153.50,315.71 154.20,313.71 154.90,311.73 155.60,309.78 156.30,307.90 157.00,306.08 157.70,304.36 158.40,302.75 159.10,301.25 159.80,299.89 160.50,298.68 161.20,297.63 161.90,296.74 162.60,296.03 163.30,295.50 164.00,295.16 164.70,295.01 165.40,295.05 166.10,295.28 166.80,295.70 167.50,296.31 168.20,297.10 168.90,298.06 169.60,299.18 170.30,300.46 171.00,301.88 171.70,303.43 172.40,305.09 173.10,306.85 173.80,308.70 174.50,310.61 175.20,312.57 175.90,314.57 176.60,316.57 177.30,318.58 178.00,320.55 178.70,322.49 179.40,324.37 180.10,326.17 180.80,327.87 181.50,329.47 182.20,330.95 182.90,332.29 183.60,333.48 184.30,334.51" fill="none" stroke="#2020ff" stroke-width="1.2" stroke-linejoin="round" clip-path="url(#cf)"/>
<polyline points="48.50,349.11 49.20,350.68 49.90,352.08 50.60,353.28 51.30,354.28 52.00,355.06 52.70,355.63 53.40,355.97 54.10,356.08 54.80,355.96 55.50,355.57 56.20,354.93 56.90,354.04 57.60,352.91 58.30,351.56 59.00,349.98 59.70,348.20 60.40,346.24 61.10,344.11 61.80,341.83 62.50,339.42 63.20,336.90 63.90,334.30 64.60,331.64 65.30,328.95 66.00,326.25 66.70,323.56 67.40,320.90 68.10,318.32 68.80,315.81 69.50,313.42 70.20,311.16 70.90,309.05 71.60,307.11 72.30,305.36 73.00,303.82 73.70,302.49 74.40,301.40 75.10,300.55 75.80,299.94 76.50,299.59 77.20,299.50 77.90,299.62 78.60,299.94 79.30,300.45 80.00,301.14 80.70,302.01 81.40,303.06 82.10,304.26 82.80,305.62 83.50,307.11 84.20,308.73 84.90,310.46 85.60,312.28 86.30,314.18 87.00,316.14 87.70,318.14 88.40,320.17 89.10,322.20 89.80,324.22 90.50,326.20 91.20,328.14 91.90,330.01 92.60,331.79 93.30,333.47 94.00,335.04 94.70,336.48 95.40,337.77 96.10,338.91 96.80,339.88 97.50,340.67 98.20,341.29 98.90,341.72 99.60,341.95 100.30,341.99 101.00,341.81 101.70,341.39 102.40,340.74 103.10,339.87 103.80,338.79 104.50,337.50 105.20,336.01 105.90,334.35 106.60,332.52 107.30,330.54 108.00,328.43 108.70,326.22 109.40,323.91 110.10,321.53 110.80,319.10 111.50,316.65 112.20,314.20 112.90,311.76 113.60,309.37 114.30,307.04 115.00,304.79 115.70,302.65 116.40,300.63 117.10,298.76 117.80,297.05 118.50,295.51 119.20,294.16 119.90,293.02 120.60,292.08 121.30,291.37 122.00,290.89 122.70,290.64 123.40,290.62 124.10,290.82 124.80,291.23 125.50,291.85 126.20,292.67 126.90,293.69 127.60,294.89 128.30,296.27 129.00,297.81 129.70,299.50 130.40,301.32 131.10,303.26 131.80,305.30 132.50,307.42 133.20,309.59 133.90,311.81 134.60,314.05 135.30,316.29 136.00,318.51 136.70,320.68 137.40,322.80 138.10,324.84 138.80,326.78 139.50,328.60 140.20,330.29 140.90,331.83 141.60,333.21 142.30,334.41 143.00,335.43 143.70,336.25 144.40,336.87 145.10,337.28 145.80,337.48 146.50,337.47 147.20,337.26 147.90,336.86 148.60,336.27 149.30,335.50 150.00,334.56 150.70,333.44 151.40,332.17 152.10,330.75 152.80,329.21 153.50,327.54 154.20,325.77 154.90,323.91 155.60,321.98 156.30,320.00 157.00,317.99 157.70,315.96 158.40,313.93 159.10,311.93 159.80,309.96 160.50,308.05 161.20,306.22 161.90,304.47 162.60,302.84 163.30,301.33 164.00,299.95 164.70,298.72 165.40,297.66 166.10,296.76 166.80,296.04 167.50,295.51 168.20,295.16 168.90,295.01 169.60,295.05 170.30,295.28 171.00,295.71 171.70,296.33 172.40,297.12 173.10,298.09 173.80,299.23 174.50,300.52 175.20,301.96 175.90,303.53 176.60,305.21 177.30,306.99 178.00,308.86 178.70,310.80 179.40,312.78 180.10,314.80 180.80,316.83 181.50,318.86 182.20,320.86 182.90,322.82 183.60,324.72 184.30,326.54" fill="none" stroke="#ff20ff" stroke-width="1.2" stroke-linejoin="round" clip-path="url(#cf)"/>
<polyline points="48.50,333.69 49.20,336.02 49.90,338.29 50.60,340.50 51.30,342.61 52.00,344.62 52.70,346.49 53.40,348.23 54.10,349.80 54.80,351.20 55.50,352.41 56.20,353.42 56.90,354.23 57.60,354.82 58.30,355.19 59.00,355.33 59.70,355.24 60.40,354.89 61.10,354.28 61.80,353.42 62.50,352.31 63.20,350.98 63.90,349.42 64.60,347.66 65.30,345.70 66.00,343.58 66.70,341.30 67.40,338.89 68.10,336.37 68.80,333.76 69.50,331.08 70.20,328.37 70.90,325.65 71.60,322.93 72.30,320.25 73.00,317.63 73.70,315.10 74.40,312.67 75.10,310.37 75.80,308.22 76.50,306.24 77.20,304.45 77.90,302.86 78.60,301.49 79.30,300.36 80.00,299.46 80.70,298.82 81.40,298.43 82.10,298.30 82.80,298.39 83.50,298.69 84.20,299.18 84.90,299.86 85.60,300.72 86.30,301.75 87.00,302.96 87.70,304.31 88.40,305.81 89.10,307.44 89.80,309.18 90.50,311.02 91.20,312.94 91.90,314.93 92.60,316.96 93.30,319.01 94.00,321.08 94.70,323.13 95.40,325.16 96.10,327.13 96.80,329.04 97.50,330.87 98.20,332.60 98.90,334.21 99.60,335.69 100.30,337.02 101.00,338.20 101.70,339.21 102.40,340.05 103.10,340.70 103.80,341.16 104.50,341.43 105.20,341.50 105.90,341.35 106.60,340.98 107.30,340.39 108.00,339.58 108.70,338.56 109.40,337.34 110.10,335.94 110.80,334.36 111.50,332.61 112.20,330.72 112.90,328.71 113.60,326.58 114.30,324.36 115.00,322.08 115.70,319.74 116.40,317.38 117.10,315.01 117.80,312.65 118.50,310.34 119.20,308.08 119.90,305.90 120.60,303.81 121.30,301.85 122.00,300.02 122.70,298.35 123.40,296.84 124.10,295.51 124.80,294.38 125.50,293.45 126.20,292.73 126.90,292.23 127.60,291.96 128.30,291.91 129.00,292.07 129.70,292.45 130.40,293.03 131.10,293.81 131.80,294.78 132.50,295.94 133.20,297.27 133.90,298.76 134.60,300.40 135.30,302.18 136.00,304.07 136.70,306.06 137.40,308.13 138.10,310.26 138.80,312.44 139.50,314.64 140.20,316.84 140.90,319.02 141.60,321.17 142.30,323.26 143.00,325.27 143.70,327.19 144.40,329.00 145.10,330.68 145.80,332.22 146.50,333.60 147.20,334.81 147.90,335.83 148.60,336.67 149.30,337.31 150.00,337.74 150.70,337.97 151.40,337.98 152.10,337.80 152.80,337.42 153.50,336.86 154.20,336.10 154.90,335.17 155.60,334.06 156.30,332.80 157.00,331.39 157.70,329.84 158.40,328.17 159.10,326.39 159.80,324.52 160.50,322.58 161.20,320.59 161.90,318.55 162.60,316.50 163.30,314.45 164.00,312.41 164.70,310.42 165.40,308.48 166.10,306.61 166.80,304.83 167.50,303.16 168.20,301.61 168.90,300.20 169.60,298.94 170.30,297.83 171.00,296.90 171.70,296.14 172.40,295.58 173.10,295.20 173.80,295.02 174.50,295.03 175.20,295.24 175.90,295.65 176.60,296.24 177.30,297.02 178.00,297.98 178.70,299.11 179.40,300.39 180.10,301.83 180.80,303.39 181.50,305.08 182.20,306.87 182.90,308.75 183.60,310.70 184.30,312.70" fill="none" stroke="#109010" stroke-width="1.2" stroke-linejoin="round" clip-path="url(#cf)"/>
<polyline points="48.50,316.27 49.20,318.23 49.90,320.29 50.60,322.45 51.30,324.68 52.00,326.96 52.70,329.27 53.40,331.59 54.10,333.89 54.80,336.17 55.50,338.39 56.20,340.53 56.90,342.58 57.60,344.52 58.30,346.33 59.00,347.99 59.70,349.49 60.40,350.82 61.10,351.96 61.80,352.89 62.50,353.63 63.20,354.14 63.90,354.44 64.60,354.52 65.30,354.35 66.00,353.92 66.70,353.24 67.40,352.30 68.10,351.12 68.80,349.70 69.50,348.07 70.20,346.24 70.90,344.22 71.60,342.03 72.30,339.69 73.00,337.22 73.70,334.65 74.40,332.00 75.10,329.29 75.80,326.55 76.50,323.80 77.20,321.07 77.90,318.38 78.60,315.76 79.30,313.23 80.00,310.82 80.70,308.54 81.40,306.42 82.10,304.48 82.80,302.73 83.50,301.19 84.20,299.87 84.90,298.79 85.60,297.96 86.30,297.39 87.00,297.07 87.70,297.01 88.40,297.17 89.10,297.55 89.80,298.13 90.50,298.90 91.20,299.88 91.90,301.03 92.60,302.36 93.30,303.85 94.00,305.48 94.70,307.25 95.40,309.14 96.10,311.13 96.80,313.19 97.50,315.32 98.20,317.49 98.90,319.69 99.60,321.88 100.30,324.06 101.00,326.21 101.70,328.29 102.40,330.30 103.10,332.22 103.80,334.02 104.50,335.70 105.20,337.23 105.90,338.61 106.60,339.81 107.30,340.84 108.00,341.67 108.70,342.31 109.40,342.74 110.10,342.97 110.80,342.98 111.50,342.77 112.20,342.33 112.90,341.67 113.60,340.80 114.30,339.72 115.00,338.44 115.70,336.98 116.40,335.34 117.10,333.55 117.80,331.61 118.50,329.56 119.20,327.39 119.90,325.14 120.60,322.83 121.30,320.48 122.00,318.10 122.70,315.72 123.40,313.37 124.10,311.06 124.80,308.81 125.50,306.64 126.20,304.59 126.90,302.65 127.60,300.86 128.30,299.22 129.00,297.76 129.70,296.48 130.40,295.40 131.10,294.53 131.80,293.87 132.50,293.43 133.20,293.22 133.90,293.23 134.60,293.46 135.30,293.88 136.00,294.51 136.70,295.33 137.40,296.34 138.10,297.53 138.80,298.88 139.50,300.39 140.20,302.04 140.90,303.82 141.60,305.71 142.30,307.68 143.00,309.74 143.70,311.85 144.40,314.00 145.10,316.16 145.80,318.32 146.50,320.46 147.20,322.55 147.90,324.59 148.60,326.54 149.30,328.40 150.00,330.14 150.70,331.76 151.40,333.22 152.10,334.53 152.80,335.67 153.50,336.62 154.20,337.39 154.90,337.96 155.60,338.33 156.30,338.49 157.00,338.45 157.70,338.21 158.40,337.77 159.10,337.14 159.80,336.33 160.50,335.33 161.20,334.17 161.90,332.85 162.60,331.38 163.30,329.77 164.00,328.05 164.70,326.23 165.40,324.31 166.10,322.33 166.80,320.30 167.50,318.23 168.20,316.16 168.90,314.08 169.60,312.03 170.30,310.03 171.00,308.08 171.70,306.22 172.40,304.45 173.10,302.79 173.80,301.27 174.50,299.88 175.20,298.64 175.90,297.58 176.60,296.68 177.30,295.97 178.00,295.45 178.70,295.13 179.40,295.00 180.10,295.07 180.80,295.34 181.50,295.81 182.20,296.46 182.90,297.30 183.60,298.32 184.30,299.51" fill="none" stroke="#3a3ab0" stroke-width="1.2" stroke-linejoin="round" clip-path="url(#cf)"/>
<polyline points="48.50,307.07 49.20,307.85 49.90,308.83 50.60,310.01 51.30,311.36 52.00,312.89 52.70,314.57 53.40,316.39 54.10,318.33 54.80,320.38 55.50,322.52 56.20,324.72 56.90,326.97 57.60,329.25 58.30,331.53 59.00,333.80 59.70,336.04 60.40,338.21 61.10,340.32 61.80,342.32 62.50,344.21 63.20,345.98 63.90,347.59 64.60,349.05 65.30,350.33 66.00,351.42 66.70,352.31 67.40,353.00 68.10,353.48 68.80,353.75 69.50,353.79 70.20,353.59 70.90,353.12 71.60,352.39 72.30,351.41 73.00,350.18 73.70,348.73 74.40,347.05 75.10,345.18 75.80,343.11 76.50,340.88 77.20,338.51 77.90,336.01 78.60,333.40 79.30,330.72 80.00,327.99 80.70,325.22 81.40,322.45 82.10,319.71 82.80,317.01 83.50,314.38 84.20,311.85 84.90,309.43 85.60,307.16 86.30,305.05 87.00,303.12 87.70,301.38 88.40,299.86 89.10,298.57 89.80,297.52 90.50,296.72 91.20,296.17 91.90,295.89 92.60,295.87 93.30,296.07 94.00,296.49 94.70,297.12 95.40,297.95 96.10,298.99 96.80,300.21 97.50,301.61 98.20,303.18 98.90,304.89 99.60,306.74 100.30,308.71 101.00,310.78 101.70,312.93 102.40,315.15 103.10,317.40 103.80,319.67 104.50,321.95 105.20,324.20 105.90,326.41 106.60,328.57 107.30,330.64 108.00,332.61 108.70,334.46 109.40,336.17 110.10,337.74 110.80,339.14 111.50,340.36 112.20,341.40 112.90,342.23 113.60,342.86 114.30,343.28 115.00,343.48 115.70,343.46 116.40,343.22 117.10,342.75 117.80,342.07 118.50,341.16 119.20,340.06 119.90,338.75 120.60,337.27 121.30,335.61 122.00,333.80 122.70,331.85 123.40,329.78 124.10,327.61 124.80,325.35 125.50,323.04 126.20,320.68 126.90,318.31 127.60,315.94 128.30,313.59 129.00,311.29 129.70,309.06 130.40,306.92 131.10,304.88 131.80,302.97 132.50,301.20 133.20,299.59 133.90,298.15 134.60,296.91 135.30,295.86 136.00,295.02 136.70,294.39 137.40,293.99 138.10,293.81 138.80,293.85 139.50,294.10 140.20,294.56 140.90,295.21 141.60,296.06 142.30,297.09 143.00,298.30 143.70,299.67 144.40,301.20 145.10,302.87 145.80,304.66 146.50,306.55 147.20,308.54 147.90,310.60 148.60,312.71 149.30,314.86 150.00,317.02 150.70,319.17 151.40,321.30 152.10,323.38 152.80,325.40 153.50,327.34 154.20,329.18 154.90,330.90 155.60,332.49 156.30,333.93 157.00,335.21 157.70,336.32 158.40,337.25 159.10,337.99 159.80,338.53 160.50,338.87 161.20,339.00 161.90,338.93 162.60,338.65 163.30,338.18 164.00,337.52 164.70,336.67 165.40,335.64 166.10,334.44 166.80,333.08 167.50,331.57 168.20,329.93 168.90,328.17 169.60,326.31 170.30,324.37 171.00,322.35 171.70,320.29 172.40,318.20 173.10,316.10 173.80,314.00 174.50,311.94 175.20,309.92 175.90,307.96 176.60,306.09 177.30,304.31 178.00,302.66 178.70,301.13 179.40,299.75 180.10,298.52 180.80,297.47 181.50,296.59 182.20,295.90 182.90,295.40 183.60,295.10 184.30,295.00" fill="none" stroke="#a040ff" stroke-width="1.2" stroke-linejoin="round" clip-path="url(#cf)"/>
<polyline points="48.50,309.16 49.20,307.98 49.90,307.01 50.60,306.26 51.30,305.75 52.00,305.46 52.70,305.41 53.40,305.58 54.10,305.96 54.80,306.56 55.50,307.37 56.20,308.37 56.90,309.56 57.60,310.93 58.30,312.47 59.00,314.16 59.70,315.98 60.40,317.93 61.10,319.98 61.80,322.11 62.50,324.31 63.20,326.55 63.90,328.81 64.60,331.08 65.30,333.33 66.00,335.54 66.70,337.69 67.40,339.77 68.10,341.75 68.80,343.61 69.50,345.34 70.20,346.92 70.90,348.34 71.60,349.59 72.30,350.64 73.00,351.50 73.70,352.16 74.40,352.61 75.10,352.84 75.80,352.85 76.50,352.62 77.20,352.15 77.90,351.44 78.60,350.50 79.30,349.33 80.00,347.94 80.70,346.36 81.40,344.59 82.10,342.65 82.80,340.56 83.50,338.33 84.20,335.99 84.90,333.56 85.60,331.06 86.30,328.51 87.00,325.94 87.70,323.37 88.40,320.82 89.10,318.32 89.80,315.88 90.50,313.54 91.20,311.32 91.90,309.22 92.60,307.28 93.30,305.51 94.00,303.93 94.70,302.55 95.40,301.38 96.10,300.43 96.80,299.72 97.50,299.25 98.20,299.02 98.90,299.03 99.60,299.25 100.30,299.68 101.00,300.30 101.70,301.12 102.40,302.12 103.10,303.30 103.80,304.64 104.50,306.14 105.20,307.78 105.90,309.55 106.60,311.42 107.30,313.39 108.00,315.43 108.70,317.53 109.40,319.66 110.10,321.81 110.80,323.95 111.50,326.08 112.20,328.16 112.90,330.18 113.60,332.12 114.30,333.97 115.00,335.70 115.70,337.30 116.40,338.76 117.10,340.06 117.80,341.19 118.50,342.14 119.20,342.90 119.90,343.46 120.60,343.83 121.30,343.99 122.00,343.94 122.70,343.65 123.40,343.13 124.10,342.38 124.80,341.40 125.50,340.21 126.20,338.82 126.90,337.24 127.60,335.49 128.30,333.57 129.00,331.51 129.70,329.33 130.40,327.04 131.10,324.67 131.80,322.24 132.50,319.77 133.20,317.29 133.90,314.81 134.60,312.36 135.30,309.97 136.00,307.64 136.70,305.41 137.40,303.30 138.10,301.32 138.80,299.49 139.50,297.83 140.20,296.36 140.90,295.08 141.60,294.01 142.30,293.17 143.00,292.54 143.70,292.16 144.40,292.00 145.10,292.08 145.80,292.37 146.50,292.88 147.20,293.60 147.90,294.52 148.60,295.63 149.30,296.92 150.00,298.39 150.70,300.02 151.40,301.79 152.10,303.69 152.80,305.70 153.50,307.80 154.20,309.97 154.90,312.19 155.60,314.45 156.30,316.72 157.00,318.98 157.70,321.22 158.40,323.40 159.10,325.51 159.80,327.53 160.50,329.45 161.20,331.24 161.90,332.88 162.60,334.38 163.30,335.70 164.00,336.84 164.70,337.78 165.40,338.53 166.10,339.07 166.80,339.39 167.50,339.50 168.20,339.40 168.90,339.09 169.60,338.59 170.30,337.89 171.00,337.01 171.70,335.94 172.40,334.70 173.10,333.30 173.80,331.76 174.50,330.08 175.20,328.29 175.90,326.39 176.60,324.41 177.30,322.37 178.00,320.28 178.70,318.16 179.40,316.03 180.10,313.92 180.80,311.83 181.50,309.80 182.20,307.83 182.90,305.95 183.60,304.17 184.30,302.51" fill="none" stroke="#a030a0" stroke-width="1.2" stroke-linejoin="round" clip-path="url(#cf)"/>
<polyline points="48.50,320.48 49.20,318.21 49.90,316.05 50.60,314.02 51.30,312.14 52.00,310.44 52.70,308.91 53.40,307.59 54.10,306.48 54.80,305.59 55.50,304.92 56.20,304.49 56.90,304.31 57.60,304.35 58.30,304.62 59.00,305.10 59.70,305.79 60.40,306.69 61.10,307.78 61.80,309.06 62.50,310.52 63.20,312.14 63.90,313.90 64.60,315.80 65.30,317.81 66.00,319.91 66.70,322.10 67.40,324.33 68.10,326.61 68.80,328.89 69.50,331.18 70.20,333.43 70.90,335.64 71.60,337.78 72.30,339.83 73.00,341.78 73.70,343.60 74.40,345.29 75.10,346.81 75.80,348.17 76.50,349.35 77.20,350.33 77.90,351.11 78.60,351.68 79.30,352.04 80.00,352.18 80.70,352.10 81.40,351.77 82.10,351.21 82.80,350.41 83.50,349.39 84.20,348.16 84.90,346.72 85.60,345.09 86.30,343.29 87.00,341.33 87.70,339.22 88.40,336.99 89.10,334.66 89.80,332.25 90.50,329.79 91.20,327.28 91.90,324.76 92.60,322.26 93.30,319.78 94.00,317.36 94.70,315.02 95.40,312.78 96.10,310.65 96.80,308.67 97.50,306.84 98.20,305.18 98.90,303.72 99.60,302.45 100.30,301.40 101.00,300.58 101.70,299.98 102.40,299.62 103.10,299.50 103.80,299.60 104.50,299.91 105.20,300.43 105.90,301.14 106.60,302.05 107.30,303.14 108.00,304.41 108.70,305.84 109.40,307.42 110.10,309.13 110.80,310.96 111.50,312.90 112.20,314.92 112.90,317.01 113.60,319.15 114.30,321.32 115.00,323.49 115.70,325.66 116.40,327.79 117.10,329.87 117.80,331.88 118.50,333.80 119.20,335.62 119.90,337.32 120.60,338.88 121.30,340.28 122.00,341.52 122.70,342.59 123.40,343.47 124.10,344.16 124.80,344.64 125.50,344.92 126.20,345.00 126.90,344.84 127.60,344.45 128.30,343.83 129.00,342.97 129.70,341.90 130.40,340.61 131.10,339.12 131.80,337.45 132.50,335.61 133.20,333.62 133.90,331.48 134.60,329.24 135.30,326.90 136.00,324.48 136.70,322.01 137.40,319.52 138.10,317.01 138.80,314.52 139.50,312.08 140.20,309.69 140.90,307.39 141.60,305.19 142.30,303.11 143.00,301.18 143.70,299.41 144.40,297.82 145.10,296.41 145.80,295.22 146.50,294.23 147.20,293.48 147.90,292.95 148.60,292.66 149.30,292.61 150.00,292.78 150.70,293.16 151.40,293.76 152.10,294.56 152.80,295.56 153.50,296.75 154.20,298.12 154.90,299.66 155.60,301.34 156.30,303.17 157.00,305.11 157.70,307.16 158.40,309.28 159.10,311.48 159.80,313.72 160.50,315.98 161.20,318.24 161.90,320.49 162.60,322.69 163.30,324.84 164.00,326.92 164.70,328.89 165.40,330.75 166.10,332.48 166.80,334.06 167.50,335.47 168.20,336.72 168.90,337.77 169.60,338.63 170.30,339.29 171.00,339.73 171.70,339.96 172.40,339.98 173.10,339.79 173.80,339.40 174.50,338.80 175.20,338.01 175.90,337.04 176.60,335.88 177.30,334.56 178.00,333.08 178.70,331.46 179.40,329.71 180.10,327.85 180.80,325.90 181.50,323.87 182.20,321.78 182.90,319.65 183.60,317.50 184.30,315.35" fill="none" stroke="#c03030" stroke-width="1.2" stroke-linejoin="round" clip-path="url(#cf)"/>
<polyline points="48.50,342.68 49.20,340.34 49.90,337.90 50.60,335.39 51.30,332.83 52.00,330.24 52.70,327.65 53.40,325.08 54.10,322.55 54.80,320.09 55.50,317.72 56.20,315.46 56.90,313.33 57.60,311.35 58.30,309.54 59.00,307.92 59.70,306.50 60.40,305.29 61.10,304.30 61.80,303.55 62.50,303.04 63.20,302.78 63.90,302.76 64.60,302.96 65.30,303.39 66.00,304.03 66.70,304.88 67.40,305.93 68.10,307.17 68.80,308.60 69.50,310.19 70.20,311.94 70.90,313.82 71.60,315.82 72.30,317.93 73.00,320.12 73.70,322.37 74.40,324.66 75.10,326.97 75.80,329.29 76.50,331.58 77.20,333.83 77.90,336.02 78.60,338.12 79.30,340.13 80.00,342.01 80.70,343.76 81.40,345.35 82.10,346.77 82.80,348.02 83.50,349.07 84.20,349.92 84.90,350.56 85.60,350.98 86.30,351.19 87.00,351.17 87.70,350.92 88.40,350.44 89.10,349.73 89.80,348.80 90.50,347.66 91.20,346.32 91.90,344.79 92.60,343.08 93.30,341.22 94.00,339.21 94.70,337.07 95.40,334.84 96.10,332.51 96.80,330.13 97.50,327.70 98.20,325.26 98.90,322.81 99.60,320.40 100.30,318.03 101.00,315.73 101.70,313.52 102.40,311.42 103.10,309.45 103.80,307.62 104.50,305.97 105.20,304.49 105.90,303.20 106.60,302.12 107.30,301.25 108.00,300.61 108.70,300.19 109.40,300.01 110.10,300.05 110.80,300.30 111.50,300.76 112.20,301.42 112.90,302.27 113.60,303.31 114.30,304.53 115.00,305.91 115.70,307.45 116.40,309.13 117.10,310.93 117.80,312.84 118.50,314.84 119.20,316.91 119.90,319.04 120.60,321.20 121.30,323.37 122.00,325.54 122.70,327.68 123.40,329.78 124.10,331.81 124.80,333.76 125.50,335.61 126.20,337.35 126.90,338.95 127.60,340.40 128.30,341.69 129.00,342.80 129.70,343.74 130.40,344.48 131.10,345.02 131.80,345.36 132.50,345.50 133.20,345.41 133.90,345.09 134.60,344.53 135.30,343.74 136.00,342.73 136.70,341.51 137.40,340.08 138.10,338.46 138.80,336.67 139.50,334.72 140.20,332.63 140.90,330.42 141.60,328.11 142.30,325.71 143.00,323.26 143.70,320.78 144.40,318.28 145.10,315.79 145.80,313.33 146.50,310.93 147.20,308.61 147.90,306.38 148.60,304.27 149.30,302.30 150.00,300.48 150.70,298.84 151.40,297.39 152.10,296.13 152.80,295.09 153.50,294.27 154.20,293.68 154.90,293.32 155.60,293.20 156.30,293.31 157.00,293.63 157.70,294.17 158.40,294.91 159.10,295.85 159.80,296.99 160.50,298.30 161.20,299.79 161.90,301.43 162.60,303.21 163.30,305.12 164.00,307.13 164.70,309.24 165.40,311.41 166.10,313.63 166.80,315.88 167.50,318.14 168.20,320.39 168.90,322.61 169.60,324.77 170.30,326.86 171.00,328.86 171.70,330.75 172.40,332.51 173.10,334.13 173.80,335.60 174.50,336.89 175.20,338.00 175.90,338.91 176.60,339.62 177.30,340.13 178.00,340.42 178.70,340.50 179.40,340.36 180.10,340.02 180.80,339.48 181.50,338.74 182.20,337.80 182.90,336.69 183.60,335.40 184.30,333.95" fill="none" stroke="#a0a000" stroke-width="1.2" stroke-linejoin="round" clip-path="url(#cf)"/>
<polyline points="48.50,354.85 49.20,353.71 49.90,352.35 50.60,350.78 51.30,349.01 52.00,347.06 52.70,344.95 53.40,342.69 54.10,340.32 54.80,337.84 55.50,335.28 56.20,332.67 56.90,330.03 57.60,327.38 58.30,324.74 59.00,322.15 59.70,319.63 60.40,317.19 61.10,314.86 61.80,312.66 62.50,310.62 63.20,308.74 63.90,307.06 64.60,305.57 65.30,304.31 66.00,303.27 66.70,302.46 67.40,301.91 68.10,301.60 68.80,301.55 69.50,301.72 70.20,302.12 70.90,302.73 71.60,303.56 72.30,304.59 73.00,305.82 73.70,307.24 74.40,308.82 75.10,310.56 75.80,312.44 76.50,314.45 77.20,316.56 77.90,318.76 78.60,321.02 79.30,323.33 80.00,325.66 80.70,328.00 81.40,330.32 82.10,332.60 82.80,334.82 83.50,336.95 84.20,338.99 84.90,340.91 85.60,342.69 86.30,344.33 87.00,345.79 87.70,347.07 88.40,348.16 89.10,349.05 89.80,349.72 90.50,350.18 91.20,350.42 91.90,350.44 92.60,350.23 93.30,349.80 94.00,349.14 94.70,348.28 95.40,347.20 96.10,345.93 96.80,344.48 97.50,342.85 98.20,341.07 98.90,339.15 99.60,337.11 100.30,334.96 101.00,332.73 101.70,330.43 102.40,328.09 103.10,325.73 103.80,323.37 104.50,321.03 105.20,318.73 105.90,316.50 106.60,314.35 107.30,312.31 108.00,310.39 108.70,308.61 109.40,306.98 110.10,305.53 110.80,304.26 111.50,303.18 112.20,302.32 112.90,301.66 113.60,301.23 114.30,301.02 115.00,301.03 115.70,301.26 116.40,301.69 117.10,302.33 117.80,303.16 118.50,304.19 119.20,305.39 119.90,306.77 120.60,308.30 121.30,309.98 122.00,311.78 122.70,313.70 123.40,315.71 124.10,317.79 124.80,319.94 125.50,322.12 126.20,324.31 126.90,326.51 127.60,328.68 128.30,330.81 129.00,332.87 129.70,334.86 130.40,336.75 131.10,338.52 131.80,340.15 132.50,341.64 133.20,342.97 133.90,344.12 134.60,345.10 135.30,345.87 136.00,346.45 136.70,346.83 137.40,346.99 138.10,346.94 138.80,346.64 139.50,346.11 140.20,345.34 140.90,344.34 141.60,343.13 142.30,341.70 143.00,340.09 143.70,338.29 144.40,336.33 145.10,334.22 145.80,331.99 146.50,329.65 147.20,327.23 147.90,324.74 148.60,322.22 149.30,319.67 150.00,317.14 150.70,314.63 151.40,312.18 152.10,309.80 152.80,307.52 153.50,305.36 154.20,303.33 154.90,301.46 155.60,299.77 156.30,298.26 157.00,296.95 157.70,295.86 158.40,294.99 159.10,294.36 159.80,293.96 160.50,293.80 161.20,293.88 161.90,294.17 162.60,294.68 163.30,295.39 164.00,296.30 164.70,297.41 165.40,298.69 166.10,300.15 166.80,301.77 167.50,303.53 168.20,305.41 168.90,307.41 169.60,309.50 170.30,311.66 171.00,313.87 171.70,316.11 172.40,318.37 173.10,320.61 173.80,322.83 174.50,325.00 175.20,327.10 175.90,329.11 176.60,331.01 177.30,332.79 178.00,334.43 178.70,335.91 179.40,337.22 180.10,338.35 180.80,339.29 181.50,340.04 182.20,340.57 182.90,340.89 183.60,341.00 184.30,340.89" fill="none" stroke="#3a80d0" stroke-width="1.2" stroke-linejoin="round" clip-path="url(#cf)"/>
<polyline points="48.50,355.46 49.20,356.07 49.90,356.44 50.60,356.59 51.30,356.50 52.00,356.15 52.70,355.55 53.40,354.70 54.10,353.61 54.80,352.30 55.50,350.76 56.20,349.02 56.90,347.09 57.60,344.99 58.30,342.75 59.00,340.37 59.70,337.88 60.40,335.30 61.10,332.67 61.80,329.99 62.50,327.30 63.20,324.62 63.90,321.98 64.60,319.39 65.30,316.89 66.00,314.49 66.70,312.22 67.40,310.10 68.10,308.15 68.80,306.38 69.50,304.82 70.20,303.47 70.90,302.35 71.60,301.46 72.30,300.82 73.00,300.44 73.70,300.31 74.40,300.42 75.10,300.76 75.80,301.32 76.50,302.10 77.20,303.08 77.90,304.26 78.60,305.64 79.30,307.19 80.00,308.90 80.70,310.76 81.40,312.76 82.10,314.86 82.80,317.05 83.50,319.32 84.20,321.64 84.90,323.99 85.60,326.35 86.30,328.70 87.00,331.01 87.70,333.27 88.40,335.46 89.10,337.54 89.80,339.52 90.50,341.36 91.20,343.05 91.90,344.58 92.60,345.92 93.30,347.08 94.00,348.03 94.70,348.78 95.40,349.31 96.10,349.61 96.80,349.69 97.50,349.55 98.20,349.20 98.90,348.63 99.60,347.85 100.30,346.87 101.00,345.70 101.70,344.35 102.40,342.82 103.10,341.15 103.80,339.33 104.50,337.39 105.20,335.35 105.90,333.22 106.60,331.02 107.30,328.77 108.00,326.50 108.70,324.22 109.40,321.96 110.10,319.73 110.80,317.56 111.50,315.46 112.20,313.46 112.90,311.57 113.60,309.81 114.30,308.20 115.00,306.75 115.70,305.47 116.40,304.38 117.10,303.49 117.80,302.80 118.50,302.32 119.20,302.06 119.90,302.01 120.60,302.17 121.30,302.55 122.00,303.13 122.70,303.90 123.40,304.88 124.10,306.03 124.80,307.36 125.50,308.85 126.20,310.48 126.90,312.25 127.60,314.14 128.30,316.13 129.00,318.19 129.70,320.32 130.40,322.49 131.10,324.69 131.80,326.88 132.50,329.06 133.20,331.21 133.90,333.29 134.60,335.30 135.30,337.22 136.00,339.02 136.70,340.70 137.40,342.23 138.10,343.61 138.80,344.81 139.50,345.84 140.20,346.67 140.90,347.31 141.60,347.74 142.30,347.97 143.00,347.98 143.70,347.75 144.40,347.28 145.10,346.57 145.80,345.63 146.50,344.47 147.20,343.09 147.90,341.52 148.60,339.76 149.30,337.83 150.00,335.75 150.70,333.53 151.40,331.20 152.10,328.78 152.80,326.29 153.50,323.76 154.20,321.20 154.90,318.64 155.60,316.11 156.30,313.62 157.00,311.20 157.70,308.87 158.40,306.65 159.10,304.57 159.80,302.64 160.50,300.88 161.20,299.31 161.90,297.93 162.60,296.77 163.30,295.83 164.00,295.12 164.70,294.65 165.40,294.42 166.10,294.44 166.80,294.67 167.50,295.11 168.20,295.76 168.90,296.61 169.60,297.66 170.30,298.90 171.00,300.31 171.70,301.88 172.40,303.59 173.10,305.44 173.80,307.40 174.50,309.46 175.20,311.60 175.90,313.79 176.60,316.02 177.30,318.27 178.00,320.52 178.70,322.74 179.40,324.92 180.10,327.04 180.80,329.07 181.50,331.00 182.20,332.81 182.90,334.49 183.60,336.01 184.30,337.37" fill="none" stroke="#20b0b0" stroke-width="1.2" stroke-linejoin="round" clip-path="url(#cf)"/>
<polyline points="48.50,346.74 49.20,348.51 49.90,350.13 50.60,351.57 51.30,352.83 52.00,353.88 52.70,354.73 53.40,355.36 54.10,355.76 54.80,355.94 55.50,355.88 56.20,355.57 56.90,355.00 57.60,354.18 58.30,353.12 59.00,351.82 59.70,350.31 60.40,348.59 61.10,346.67 61.80,344.58 62.50,342.34 63.20,339.96 63.90,337.47 64.60,334.89 65.30,332.24 66.00,329.55 66.70,326.84 67.40,324.14 68.10,321.47 68.80,318.86 69.50,316.33 70.20,313.90 70.90,311.59 71.60,309.43 72.30,307.44 73.00,305.64 73.70,304.03 74.40,302.64 75.10,301.47 75.80,300.55 76.50,299.87 77.20,299.45 77.90,299.28 78.60,299.36 79.30,299.67 80.00,300.20 80.70,300.95 81.40,301.92 82.10,303.08 82.80,304.44 83.50,305.98 84.20,307.68 84.90,309.54 85.60,311.53 86.30,313.63 87.00,315.83 87.70,318.11 88.40,320.44 89.10,322.81 89.80,325.18 90.50,327.55 91.20,329.89 91.90,332.18 92.60,334.39 93.30,336.51 94.00,338.52 94.70,340.39 95.40,342.12 96.10,343.68 96.80,345.07 97.50,346.26 98.20,347.25 98.90,348.03 99.60,348.60 100.30,348.94 101.00,349.05 101.70,348.94 102.40,348.62 103.10,348.09 103.80,347.36 104.50,346.43 105.20,345.31 105.90,344.01 106.60,342.54 107.30,340.92 108.00,339.15 108.70,337.27 109.40,335.28 110.10,333.20 110.80,331.05 111.50,328.86 112.20,326.63 112.90,324.40 113.60,322.18 114.30,319.99 115.00,317.85 115.70,315.78 116.40,313.80 117.10,311.94 117.80,310.19 118.50,308.59 119.20,307.15 119.90,305.87 120.60,304.78 121.30,303.87 122.00,303.17 122.70,302.67 123.40,302.38 124.10,302.30 124.80,302.44 125.50,302.79 126.20,303.35 126.90,304.11 127.60,305.07 128.30,306.21 129.00,307.54 129.70,309.03 130.40,310.67 131.10,312.45 131.80,314.35 132.50,316.35 133.20,318.43 133.90,320.59 134.60,322.79 135.30,325.01 136.00,327.24 136.70,329.46 137.40,331.64 138.10,333.77 138.80,335.82 139.50,337.78 140.20,339.63 140.90,341.35 141.60,342.93 142.30,344.35 143.00,345.60 143.70,346.67 144.40,347.54 145.10,348.22 145.80,348.69 146.50,348.95 147.20,348.99 147.90,348.80 148.60,348.36 149.30,347.68 150.00,346.76 150.70,345.62 151.40,344.27 152.10,342.71 152.80,340.96 153.50,339.04 154.20,336.96 154.90,334.75 155.60,332.42 156.30,329.99 157.00,327.49 157.70,324.94 158.40,322.37 159.10,319.79 159.80,317.23 160.50,314.72 161.20,312.27 161.90,309.91 162.60,307.66 163.30,305.54 164.00,303.57 164.70,301.77 165.40,300.16 166.10,298.74 166.80,297.54 167.50,296.56 168.20,295.81 168.90,295.30 169.60,295.04 170.30,295.02 171.00,295.22 171.70,295.63 172.40,296.25 173.10,297.08 173.80,298.10 174.50,299.30 175.20,300.68 175.90,302.23 176.60,303.92 177.30,305.75 178.00,307.69 178.70,309.73 179.40,311.85 180.10,314.03 180.80,316.26 181.50,318.50 182.20,320.74 182.90,322.97 183.60,325.15 184.30,327.27" fill="none" stroke="#c08030" stroke-width="1.2" stroke-linejoin="round" clip-path="url(#cf)"/>
<polyline points="48.50,333.35 49.20,335.68 49.90,337.96 50.60,340.17 51.30,342.30 52.00,344.33 52.70,346.22 53.40,347.98 54.10,349.57 54.80,351.00 55.50,352.24 56.20,353.28 56.90,354.11 57.60,354.73 58.30,355.13 59.00,355.31 59.70,355.25 60.40,354.94 61.10,354.36 61.80,353.54 62.50,352.47 63.20,351.17 63.90,349.64 64.60,347.91 65.30,345.98 66.00,343.88 66.70,341.62 67.40,339.22 68.10,336.71 68.80,334.12 69.50,331.45 70.20,328.74 70.90,326.02 71.60,323.30 72.30,320.61 73.00,317.98 73.70,315.43 74.40,312.99 75.10,310.67 75.80,308.49 76.50,306.49 77.20,304.67 77.90,303.05 78.60,301.65 79.30,300.48 80.00,299.55 80.70,298.87 81.40,298.44 82.10,298.27 82.80,298.36 83.50,298.67 84.20,299.20 84.90,299.96 85.60,300.93 86.30,302.10 87.00,303.47 87.70,305.02 88.40,306.74 89.10,308.61 89.80,310.61 90.50,312.73 91.20,314.95 91.90,317.24 92.60,319.59 93.30,321.98 94.00,324.37 94.70,326.76 95.40,329.12 96.10,331.42 96.80,333.65 97.50,335.78 98.20,337.81 98.90,339.70 99.60,341.44 100.30,343.01 101.00,344.41 101.70,345.61 102.40,346.61 103.10,347.40 103.80,347.96 104.50,348.31 105.20,348.42 105.90,348.32 106.60,348.01 107.30,347.49 108.00,346.78 108.70,345.87 109.40,344.78 110.10,343.52 110.80,342.09 111.50,340.52 112.20,338.81 112.90,336.98 113.60,335.04 114.30,333.02 115.00,330.94 115.70,328.80 116.40,326.64 117.10,324.47 117.80,322.31 118.50,320.18 119.20,318.10 119.90,316.10 120.60,314.18 121.30,312.36 122.00,310.67 122.70,309.11 123.40,307.71 124.10,306.47 124.80,305.41 125.50,304.53 126.20,303.84 126.90,303.36 127.60,303.08 128.30,303.00 129.00,303.14 129.70,303.49 130.40,304.05 131.10,304.82 131.80,305.78 132.50,306.94 133.20,308.27 133.90,309.77 134.60,311.42 135.30,313.21 136.00,315.12 136.70,317.14 137.40,319.24 138.10,321.40 138.80,323.62 139.50,325.86 140.20,328.10 140.90,330.33 141.60,332.53 142.30,334.67 143.00,336.74 143.70,338.71 144.40,340.57 145.10,342.30 145.80,343.89 146.50,345.32 147.20,346.58 147.90,347.65 148.60,348.53 149.30,349.21 150.00,349.69 150.70,349.95 151.40,349.99 152.10,349.79 152.80,349.35 153.50,348.67 154.20,347.75 154.90,346.60 155.60,345.23 156.30,343.66 157.00,341.90 157.70,339.97 158.40,337.87 159.10,335.64 159.80,333.29 160.50,330.85 161.20,328.33 161.90,325.77 162.60,323.17 163.30,320.57 164.00,318.00 164.70,315.46 165.40,312.99 166.10,310.62 166.80,308.35 167.50,306.22 168.20,304.23 168.90,302.42 169.60,300.79 170.30,299.37 171.00,298.16 171.70,297.17 172.40,296.42 173.10,295.91 173.80,295.64 174.50,295.62 175.20,295.82 175.90,296.23 176.60,296.85 177.30,297.67 178.00,298.69 178.70,299.89 179.40,301.27 180.10,302.81 180.80,304.50 181.50,306.32 182.20,308.26 182.90,310.30 183.60,312.42 184.30,314.59" fill="none" stroke="#20e020" stroke-width="1.2" stroke-linejoin="round" clip-path="url(#cf)"/>
<line x1="86.50" y1="341.50" x2="86.50" y2="348.80" stroke="#777" stroke-width="0.7"/>
<polygon points="86.50,350.50 85.40,348.30 87.60,348.30" fill="#222"/>
<line x1="91.60" y1="342.00" x2="91.60" y2="350.70" stroke="#777" stroke-width="0.7"/>
<polygon points="91.60,352.40 90.50,350.20 92.70,350.20" fill="#222"/>
<line x1="95.90" y1="342.50" x2="95.90" y2="351.40" stroke="#777" stroke-width="0.7"/>
<polygon points="95.90,353.10 94.80,350.90 97.00,350.90" fill="#222"/>
<line x1="100.10" y1="343.00" x2="100.10" y2="351.90" stroke="#777" stroke-width="0.7"/>
<polygon points="100.10,353.60 99.00,351.40 101.20,351.40" fill="#222"/>
<line x1="105.10" y1="342.50" x2="105.10" y2="351.10" stroke="#777" stroke-width="0.7"/>
<polygon points="105.10,352.80 104.00,350.60 106.20,350.60" fill="#222"/>
<line x1="110.50" y1="344.00" x2="110.50" y2="353.00" stroke="#777" stroke-width="0.7"/>
<polygon points="110.50,354.70 109.40,352.50 111.60,352.50" fill="#222"/>
<line x1="115.30" y1="344.50" x2="115.30" y2="353.40" stroke="#777" stroke-width="0.7"/>
<polygon points="115.30,355.10 114.20,352.90 116.40,352.90" fill="#222"/>
<line x1="121.50" y1="345.00" x2="121.50" y2="355.30" stroke="#777" stroke-width="0.7"/>
<polygon points="121.50,357.00 120.40,354.80 122.60,354.80" fill="#222"/>
<line x1="126.10" y1="346.00" x2="126.10" y2="357.60" stroke="#777" stroke-width="0.7"/>
<polygon points="126.10,359.30 125.00,357.10 127.20,357.10" fill="#222"/>
<line x1="132.60" y1="346.50" x2="132.60" y2="358.40" stroke="#777" stroke-width="0.7"/>
<polygon points="132.60,360.10 131.50,357.90 133.70,357.90" fill="#222"/>
<line x1="137.60" y1="348.00" x2="137.60" y2="362.00" stroke="#777" stroke-width="0.7"/>
<polygon points="137.60,363.70 136.50,361.50 138.70,361.50" fill="#222"/>
<line x1="142.70" y1="349.00" x2="142.70" y2="363.50" stroke="#777" stroke-width="0.7"/>
<polygon points="142.70,365.20 141.60,363.00 143.80,363.00" fill="#222"/>
<line x1="147.00" y1="350.00" x2="147.00" y2="364.30" stroke="#777" stroke-width="0.7"/>
<polygon points="147.00,366.00 145.90,363.80 148.10,363.80" fill="#222"/>
<line x1="151.20" y1="351.00" x2="151.20" y2="366.10" stroke="#777" stroke-width="0.7"/>
<polygon points="151.20,367.80 150.10,365.60 152.30,365.60" fill="#222"/>
<line x1="156.20" y1="289.90" x2="167.40" y2="289.90" stroke="#202020" stroke-width="1.4"/>
<text x="168.20" y="291.48" font-size="4.4" text-anchor="start" fill="#222" stroke="#222" stroke-width="0.123">29 °C</text>
<line x1="156.20" y1="296.50" x2="167.40" y2="296.50" stroke="#ff2020" stroke-width="1.4"/>
<text x="168.20" y="298.08" font-size="4.4" text-anchor="start" fill="#222" stroke="#222" stroke-width="0.123">31.2 °C</text>
<line x1="156.20" y1="303.10" x2="167.40" y2="303.10" stroke="#2020ff" stroke-width="1.4"/>
<text x="168.20" y="304.68" font-size="4.4" text-anchor="start" fill="#222" stroke="#222" stroke-width="0.123">36.6 °C</text>
<line x1="156.20" y1="309.70" x2="167.40" y2="309.70" stroke="#ff20ff" stroke-width="1.4"/>
<text x="168.20" y="311.28" font-size="4.4" text-anchor="start" fill="#222" stroke="#222" stroke-width="0.123">40.5 °C</text>
<line x1="156.20" y1="316.30" x2="167.40" y2="316.30" stroke="#109010" stroke-width="1.4"/>
<text x="168.20" y="317.88" font-size="4.4" text-anchor="start" fill="#222" stroke="#222" stroke-width="0.123">45.3 °C</text>
<line x1="156.20" y1="322.90" x2="167.40" y2="322.90" stroke="#3a3ab0" stroke-width="1.4"/>
<text x="168.20" y="324.48" font-size="4.4" text-anchor="start" fill="#222" stroke="#222" stroke-width="0.123">50.0 °C</text>
<line x1="156.20" y1="329.50" x2="167.40" y2="329.50" stroke="#a040ff" stroke-width="1.4"/>
<text x="168.20" y="331.08" font-size="4.4" text-anchor="start" fill="#222" stroke="#222" stroke-width="0.123">55.0 °C</text>
<line x1="156.20" y1="336.10" x2="167.40" y2="336.10" stroke="#a030a0" stroke-width="1.4"/>
<text x="168.20" y="337.68" font-size="4.4" text-anchor="start" fill="#222" stroke="#222" stroke-width="0.123">61.0 °C</text>
<line x1="156.20" y1="342.70" x2="167.40" y2="342.70" stroke="#c03030" stroke-width="1.4"/>
<text x="168.20" y="344.28" font-size="4.4" text-anchor="start" fill="#222" stroke="#222" stroke-width="0.123">65.5 °C</text>
<line x1="156.20" y1="349.30" x2="167.40" y2="349.30" stroke="#a0a000" stroke-width="1.4"/>
<text x="168.20" y="350.88" font-size="4.4" text-anchor="start" fill="#222" stroke="#222" stroke-width="0.123">70.5 °C</text>
<line x1="156.20" y1="355.90" x2="167.40" y2="355.90" stroke="#3a80d0" stroke-width="1.4"/>
<text x="168.20" y="357.48" font-size="4.4" text-anchor="start" fill="#222" stroke="#222" stroke-width="0.123">75.1 °C</text>
<line x1="156.20" y1="362.50" x2="167.40" y2="362.50" stroke="#20b0b0" stroke-width="1.4"/>
<text x="168.20" y="364.08" font-size="4.4" text-anchor="start" fill="#222" stroke="#222" stroke-width="0.123">80.1 °C</text>
<line x1="156.20" y1="369.10" x2="167.40" y2="369.10" stroke="#c08030" stroke-width="1.4"/>
<text x="168.20" y="370.68" font-size="4.4" text-anchor="start" fill="#222" stroke="#222" stroke-width="0.123">85.0 °C</text>
<line x1="156.20" y1="375.70" x2="167.40" y2="375.70" stroke="#20e020" stroke-width="1.4"/>
<text x="168.20" y="377.28" font-size="4.4" text-anchor="start" fill="#222" stroke="#222" stroke-width="0.123">90.1 °C</text>
<rect x="48.50" y="280.50" width="136.00" height="100.00" stroke="#151515" stroke-width="1.15" fill="none"/>
<line x1="46.00" y1="306.40" x2="48.50" y2="306.40" stroke="#111" stroke-width="0.9"/>
<text x="45.40" y="309.35" font-size="8.2" text-anchor="end" fill="#000" stroke="#000" stroke-width="0.230">-50</text>
<line x1="46.00" y1="367.60" x2="48.50" y2="367.60" stroke="#111" stroke-width="0.9"/>
<text x="45.40" y="370.55" font-size="8.2" text-anchor="end" fill="#000" stroke="#000" stroke-width="0.230">-55</text>
<line x1="46.90" y1="337.00" x2="48.50" y2="337.00" stroke="#111" stroke-width="0.8"/>
<line x1="48.50" y1="380.30" x2="48.50" y2="382.80" stroke="#111" stroke-width="0.9"/>
<text x="48.50" y="390.66" font-size="8.5" text-anchor="middle" fill="#000" stroke="#000" stroke-width="0.238">1540</text>
<line x1="116.60" y1="380.30" x2="116.60" y2="382.80" stroke="#111" stroke-width="0.9"/>
<text x="116.60" y="390.66" font-size="8.5" text-anchor="middle" fill="#000" stroke="#000" stroke-width="0.238">1550</text>
<line x1="184.70" y1="380.30" x2="184.70" y2="382.80" stroke="#111" stroke-width="0.9"/>
<text x="184.70" y="390.66" font-size="8.5" text-anchor="middle" fill="#000" stroke="#000" stroke-width="0.238">1560</text>
<line x1="82.55" y1="380.30" x2="82.55" y2="381.90" stroke="#111" stroke-width="0.8"/>
<line x1="150.65" y1="380.30" x2="150.65" y2="381.90" stroke="#111" stroke-width="0.8"/>
<text x="116.20" y="398.90" font-size="8.5" text-anchor="middle" fill="#000" stroke="#000" stroke-width="0.238">Wavelength&#160; Shift (nm)</text>
<g transform="translate(29.40 336.20) rotate(-90.00)"><text x="0" y="2.95" font-size="8.2" text-anchor="middle" fill="#000" stroke="#000" stroke-width="0.230">Reflection Intensity (dB)</text></g>
<text x="49.60" y="287.54" font-size="7.9" text-anchor="start" fill="#000" stroke="#000" stroke-width="0.221">PC_SPFPI</text>
<text x="29.60" y="284.60" font-size="13.8" text-anchor="start" fill="#000" stroke="#000" stroke-width="0.386">(f)</text>
<line x1="84.60" y1="352.40" x2="147.85" y2="369.38" stroke="#ff2020" stroke-width="1.4"/>
<polygon points="152.00,370.50 146.79,371.38 147.93,367.13" fill="#ff2020"/>
<g transform="translate(108.60 365.20) rotate(19.00)"><text x="0" y="2.77" font-size="7.7" text-anchor="middle" fill="#ff2020" stroke="#ff2020" stroke-width="0.216">Red shift</text></g>
<polyline points="209.60,316.93 210.30,314.61 211.00,312.27 211.70,309.96 212.40,307.68 213.10,305.46 213.80,303.33 214.50,301.30 215.20,299.39 215.90,297.63 216.60,296.02 217.30,294.58 218.00,293.33 218.70,292.28 219.40,291.43 220.10,290.80 220.80,290.40 221.50,290.22 222.20,290.27 222.90,290.56 223.60,291.08 224.30,291.83 225.00,292.81 225.70,293.99 226.40,295.38 227.10,296.96 227.80,298.71 228.50,300.61 229.20,302.66 229.90,304.82 230.60,307.08 231.30,309.42 232.00,311.81 232.70,314.24 233.40,316.67 234.10,319.09 234.80,321.46 235.50,323.78 236.20,326.02 236.90,328.15 237.60,330.16 238.30,332.02 239.00,333.72 239.70,335.25 240.40,336.58 241.10,337.70 241.80,338.62 242.50,339.30 243.20,339.76 243.90,339.98 244.60,339.96 245.30,339.71 246.00,339.24 246.70,338.54 247.40,337.62 248.10,336.49 248.80,335.17 249.50,333.66 250.20,331.98 250.90,330.14 251.60,328.17 252.30,326.07 253.00,323.88 253.70,321.61 254.40,319.29 255.10,316.93 255.80,314.56 256.50,312.20 257.20,309.88 257.90,307.61 258.60,305.42 259.30,303.33 260.00,301.36 260.70,299.52 261.40,297.84 262.10,296.33 262.80,295.00 263.50,293.88 264.20,292.96 264.90,292.26 265.60,291.78 266.30,291.53 267.00,291.52 267.70,291.74 268.40,292.20 269.10,292.89 269.80,293.81 270.50,294.94 271.20,296.29 271.90,297.82 272.60,299.54 273.30,301.42 274.00,303.44 274.70,305.59 275.40,307.84 276.10,310.18 276.80,312.58 277.50,315.01 278.20,317.46 278.90,319.91 279.60,322.32 280.30,324.67 281.00,326.95 281.70,329.13 282.40,331.19 283.10,333.11 283.80,334.88 284.50,336.47 285.20,337.87 285.90,339.06 286.60,340.04 287.30,340.80 288.00,341.33 288.70,341.62 289.40,341.67 290.10,341.50 290.80,341.12 291.50,340.52 292.20,339.73 292.90,338.73 293.60,337.55 294.30,336.19 295.00,334.67 295.70,333.00 296.40,331.20 297.10,329.28 297.80,327.26 298.50,325.17 299.20,323.02 299.90,320.83 300.60,318.62 301.30,316.42 302.00,314.24 302.70,312.11 303.40,310.05 304.10,308.08 304.80,306.20 305.50,304.46 306.20,302.85 306.90,301.39 307.60,300.11 308.30,299.01 309.00,298.09 309.70,297.38 310.40,296.88 311.10,296.59 311.80,296.51 312.50,296.65 313.20,297.01 313.90,297.59 314.60,298.38 315.30,299.37 316.00,300.55 316.70,301.92 317.40,303.45 318.10,305.14 318.80,306.96 319.50,308.91 320.20,310.96 320.90,313.09 321.60,315.29 322.30,317.52 323.00,319.78 323.70,322.03 324.40,324.26 325.10,326.45 325.80,328.57 326.50,330.61 327.20,332.54 327.90,334.35 328.60,336.01 329.30,337.52 330.00,338.86 330.70,340.02 331.40,340.98 332.10,341.74 332.80,342.29 333.50,342.62 334.20,342.73 334.90,342.62 335.60,342.30 336.30,341.77 337.00,341.04 337.70,340.11 338.40,338.99 339.10,337.69 339.80,336.23 340.50,334.62 341.20,332.87 341.90,331.00 342.60,329.03 343.30,326.98 344.00,324.86 344.70,322.70 345.40,320.52" fill="none" stroke="#30d030" stroke-width="1.2" stroke-linejoin="round" clip-path="url(#cg)"/>
<polyline points="209.60,336.50 210.30,335.60 211.00,334.50 211.70,333.22 212.40,331.76 213.10,330.14 213.80,328.38 214.50,326.49 215.20,324.49 215.90,322.40 216.60,320.23 217.30,318.02 218.00,315.78 218.70,313.53 219.40,311.30 220.10,309.09 220.80,306.95 221.50,304.88 222.20,302.91 222.90,301.06 223.60,299.33 224.30,297.76 225.00,296.35 225.70,295.12 226.40,294.08 227.10,293.23 227.80,292.60 228.50,292.18 229.20,291.97 229.90,291.99 230.60,292.24 231.30,292.71 232.00,293.40 232.70,294.31 233.40,295.43 234.10,296.74 234.80,298.24 235.50,299.90 236.20,301.72 236.90,303.67 237.60,305.75 238.30,307.92 239.00,310.16 239.70,312.47 240.40,314.80 241.10,317.15 241.80,319.49 242.50,321.79 243.20,324.04 243.90,326.21 244.60,328.28 245.30,330.23 246.00,332.05 246.70,333.72 247.40,335.21 248.10,336.53 248.80,337.64 249.50,338.55 250.20,339.25 250.90,339.72 251.60,339.96 252.30,339.98 253.00,339.77 253.70,339.34 254.40,338.69 255.10,337.82 255.80,336.75 256.50,335.49 257.20,334.04 257.90,332.43 258.60,330.66 259.30,328.75 260.00,326.73 260.70,324.61 261.40,322.41 262.10,320.15 262.80,317.86 263.50,315.55 264.20,313.25 264.90,310.98 265.60,308.76 266.30,306.62 267.00,304.56 267.70,302.62 268.40,300.81 269.10,299.15 269.80,297.66 270.50,296.34 271.20,295.21 271.90,294.29 272.60,293.58 273.30,293.08 274.00,292.81 274.70,292.76 275.40,292.94 276.10,293.36 276.80,294.01 277.50,294.87 278.20,295.95 278.90,297.24 279.60,298.72 280.30,300.37 281.00,302.19 281.70,304.15 282.40,306.23 283.10,308.43 283.80,310.70 284.50,313.04 285.20,315.42 285.90,317.82 286.60,320.21 287.30,322.58 288.00,324.89 288.70,327.14 289.40,329.28 290.10,331.32 290.80,333.22 291.50,334.97 292.20,336.55 292.90,337.95 293.60,339.15 294.30,340.14 295.00,340.91 295.70,341.46 296.40,341.77 297.10,341.86 297.80,341.72 298.50,341.38 299.20,340.83 299.90,340.08 300.60,339.14 301.30,338.01 302.00,336.71 302.70,335.25 303.40,333.64 304.10,331.90 304.80,330.05 305.50,328.10 306.20,326.07 306.90,323.98 307.60,321.85 308.30,319.70 309.00,317.55 309.70,315.43 310.40,313.35 311.10,311.33 311.80,309.39 312.50,307.55 313.20,305.83 313.90,304.24 314.60,302.80 315.30,301.52 316.00,300.42 316.70,299.51 317.40,298.79 318.10,298.27 318.80,297.95 319.50,297.85 320.20,297.96 320.90,298.28 321.60,298.81 322.30,299.55 323.00,300.48 323.70,301.61 324.40,302.92 325.10,304.39 325.80,306.02 326.50,307.78 327.20,309.66 327.90,311.65 328.60,313.72 329.30,315.85 330.00,318.02 330.70,320.22 331.40,322.42 332.10,324.60 332.80,326.74 333.50,328.82 334.20,330.82 334.90,332.71 335.60,334.49 336.30,336.14 337.00,337.64 337.70,338.97 338.40,340.12 339.10,341.09 339.80,341.85 340.50,342.41 341.20,342.77 341.90,342.90 342.60,342.83 343.30,342.55 344.00,342.06 344.70,341.37 345.40,340.48" fill="none" stroke="#e03080" stroke-width="1.2" stroke-linejoin="round" clip-path="url(#cg)"/>
<polyline points="209.60,336.21 210.30,337.01 211.00,337.60 211.70,337.97 212.40,338.11 213.10,338.04 213.80,337.75 214.50,337.25 215.20,336.56 215.90,335.66 216.60,334.58 217.30,333.31 218.00,331.89 218.70,330.31 219.40,328.59 220.10,326.75 220.80,324.81 221.50,322.79 222.20,320.69 222.90,318.56 223.60,316.40 224.30,314.23 225.00,312.08 225.70,309.97 226.40,307.91 227.10,305.93 227.80,304.05 228.50,302.28 229.20,300.63 229.90,299.14 230.60,297.81 231.30,296.64 232.00,295.67 232.70,294.88 233.40,294.30 234.10,293.92 234.80,293.76 235.50,293.81 236.20,294.08 236.90,294.58 237.60,295.29 238.30,296.21 239.00,297.34 239.70,298.66 240.40,300.15 241.10,301.81 241.80,303.62 242.50,305.56 243.20,307.62 243.90,309.76 244.60,311.98 245.30,314.25 246.00,316.55 246.70,318.86 247.40,321.15 248.10,323.41 248.80,325.61 249.50,327.73 250.20,329.75 250.90,331.66 251.60,333.43 252.30,335.04 253.00,336.49 253.70,337.75 254.40,338.82 255.10,339.69 255.80,340.34 256.50,340.77 257.20,340.98 257.90,340.96 258.60,340.73 259.30,340.27 260.00,339.60 260.70,338.73 261.40,337.65 262.10,336.38 262.80,334.94 263.50,333.33 264.20,331.58 264.90,329.70 265.60,327.70 266.30,325.60 267.00,323.44 267.70,321.22 268.40,318.97 269.10,316.70 269.80,314.45 270.50,312.23 271.20,310.06 271.90,307.97 272.60,305.97 273.30,304.09 274.00,302.33 274.70,300.73 275.40,299.28 276.10,298.02 276.80,296.94 277.50,296.06 278.20,295.39 278.90,294.94 279.60,294.70 280.30,294.69 281.00,294.90 281.70,295.33 282.40,295.98 283.10,296.85 283.80,297.92 284.50,299.19 285.20,300.63 285.90,302.25 286.60,304.02 287.30,305.93 288.00,307.96 288.70,310.08 289.40,312.28 290.10,314.54 290.80,316.84 291.50,319.15 292.20,321.46 292.90,323.73 293.60,325.95 294.30,328.10 295.00,330.16 295.70,332.10 296.40,333.91 297.10,335.58 297.80,337.07 298.50,338.39 299.20,339.52 299.90,340.45 300.60,341.16 301.30,341.66 302.00,341.93 302.70,341.98 303.40,341.82 304.10,341.46 304.80,340.89 305.50,340.13 306.20,339.19 306.90,338.07 307.60,336.78 308.30,335.33 309.00,333.74 309.70,332.03 310.40,330.21 311.10,328.29 311.80,326.31 312.50,324.26 313.20,322.18 313.90,320.09 314.60,318.00 315.30,315.93 316.00,313.91 316.70,311.95 317.40,310.07 318.10,308.30 318.80,306.64 319.50,305.11 320.20,303.73 320.90,302.51 321.60,301.46 322.30,300.59 323.00,299.92 323.70,299.44 324.40,299.16 325.10,299.09 325.80,299.22 326.50,299.57 327.20,300.11 327.90,300.86 328.60,301.80 329.30,302.93 330.00,304.22 330.70,305.68 331.40,307.29 332.10,309.02 332.80,310.87 333.50,312.82 334.20,314.84 334.90,316.93 335.60,319.05 336.30,321.20 337.00,323.34 337.70,325.46 338.40,327.54 339.10,329.55 339.80,331.49 340.50,333.32 341.20,335.04 341.90,336.62 342.60,338.06 343.30,339.33 344.00,340.43 344.70,341.34 345.40,342.06" fill="none" stroke="#30c8d8" stroke-width="1.2" stroke-linejoin="round" clip-path="url(#cg)"/>
<polyline points="209.60,330.32 210.30,332.00 211.00,333.51 211.70,334.83 212.40,335.94 213.10,336.84 213.80,337.52 214.50,337.97 215.20,338.19 215.90,338.17 216.60,337.94 217.30,337.49 218.00,336.82 218.70,335.95 219.40,334.88 220.10,333.63 220.80,332.19 221.50,330.60 222.20,328.86 222.90,326.98 223.60,325.00 224.30,322.92 225.00,320.77 225.70,318.57 226.40,316.33 227.10,314.08 227.80,311.84 228.50,309.64 229.20,307.49 229.90,305.41 230.60,303.43 231.30,301.55 232.00,299.81 232.70,298.22 233.40,296.78 234.10,295.53 234.80,294.46 235.50,293.59 236.20,292.92 236.90,292.47 237.60,292.24 238.30,292.22 239.00,292.44 239.70,292.88 240.40,293.56 241.10,294.45 241.80,295.55 242.50,296.86 243.20,298.35 243.90,300.02 244.60,301.85 245.30,303.81 246.00,305.90 246.70,308.09 247.40,310.37 248.10,312.70 248.80,315.07 249.50,317.45 250.20,319.83 250.90,322.17 251.60,324.46 252.30,326.68 253.00,328.80 253.70,330.80 254.40,332.67 255.10,334.39 255.80,335.93 256.50,337.29 257.20,338.46 257.90,339.41 258.60,340.15 259.30,340.66 260.00,340.94 260.70,340.99 261.40,340.81 262.10,340.41 262.80,339.78 263.50,338.93 264.20,337.88 264.90,336.63 265.60,335.19 266.30,333.58 267.00,331.81 267.70,329.90 268.40,327.87 269.10,325.73 269.80,323.51 270.50,321.24 271.20,318.92 271.90,316.58 272.60,314.25 273.30,311.95 274.00,309.69 274.70,307.51 275.40,305.42 276.10,303.43 276.80,301.58 277.50,299.88 278.20,298.34 278.90,296.98 279.60,295.81 280.30,294.85 281.00,294.09 281.70,293.56 282.40,293.25 283.10,293.17 283.80,293.32 284.50,293.70 285.20,294.31 285.90,295.14 286.60,296.19 287.30,297.44 288.00,298.89 288.70,300.51 289.40,302.29 290.10,304.23 290.80,306.29 291.50,308.45 292.20,310.71 292.90,313.03 293.60,315.40 294.30,317.78 295.00,320.17 295.70,322.53 296.40,324.84 297.10,327.09 297.80,329.24 298.50,331.28 299.20,333.19 299.90,334.96 300.60,336.56 301.30,337.97 302.00,339.20 302.70,340.21 303.40,341.01 304.10,341.59 304.80,341.94 305.50,342.06 306.20,341.95 306.90,341.63 307.60,341.10 308.30,340.37 309.00,339.43 309.70,338.31 310.40,337.01 311.10,335.55 311.80,333.93 312.50,332.18 313.20,330.30 313.90,328.33 314.60,326.27 315.30,324.15 316.00,321.98 316.70,319.79 317.40,317.61 318.10,315.44 318.80,313.31 319.50,311.24 320.20,309.25 320.90,307.36 321.60,305.59 322.30,303.95 323.00,302.46 323.70,301.14 324.40,299.99 325.10,299.03 325.80,298.27 326.50,297.71 327.20,297.36 327.90,297.22 328.60,297.30 329.30,297.59 330.00,298.10 330.70,298.82 331.40,299.75 332.10,300.87 332.80,302.17 333.50,303.64 334.20,305.27 334.90,307.04 335.60,308.94 336.30,310.94 337.00,313.03 337.70,315.19 338.40,317.40 339.10,319.63 339.80,321.86 340.50,324.08 341.20,326.26 341.90,328.39 342.60,330.43 343.30,332.37 344.00,334.20 344.70,335.89 345.40,337.44" fill="none" stroke="#5050c0" stroke-width="1.2" stroke-linejoin="round" clip-path="url(#cg)"/>
<polyline points="209.60,316.04 210.30,318.38 211.00,320.69 211.70,322.93 212.40,325.09 213.10,327.14 213.80,329.07 214.50,330.86 215.20,332.49 215.90,333.94 216.60,335.21 217.30,336.27 218.00,337.13 218.70,337.76 219.40,338.17 220.10,338.36 220.80,338.31 221.50,338.05 222.20,337.59 222.90,336.92 223.60,336.05 224.30,334.99 225.00,333.75 225.70,332.34 226.40,330.78 227.10,329.08 227.80,327.25 228.50,325.32 229.20,323.30 229.90,321.22 230.60,319.08 231.30,316.92 232.00,314.75 232.70,312.59 233.40,310.47 234.10,308.40 234.80,306.40 235.50,304.50 236.20,302.71 236.90,301.04 237.60,299.52 238.30,298.16 239.00,296.98 239.70,295.97 240.40,295.16 241.10,294.54 241.80,294.14 242.50,293.94 243.20,293.96 243.90,294.20 244.60,294.66 245.30,295.34 246.00,296.23 246.70,297.32 247.40,298.61 248.10,300.08 248.80,301.71 249.50,303.49 250.20,305.41 250.90,307.44 251.60,309.56 252.30,311.77 253.00,314.02 253.70,316.31 254.40,318.61 255.10,320.90 255.80,323.15 256.50,325.36 257.20,327.48 257.90,329.51 258.60,331.43 259.30,333.21 260.00,334.84 260.70,336.31 261.40,337.60 262.10,338.69 262.80,339.58 263.50,340.26 264.20,340.72 264.90,340.96 265.60,340.98 266.30,340.78 267.00,340.35 267.70,339.72 268.40,338.88 269.10,337.84 269.80,336.60 270.50,335.20 271.20,333.62 271.90,331.90 272.60,330.04 273.30,328.07 274.00,326.01 274.70,323.86 275.40,321.66 276.10,319.43 276.80,317.18 277.50,314.94 278.20,312.73 278.90,310.57 279.60,308.48 280.30,306.48 281.00,304.58 281.70,302.82 282.40,301.20 283.10,299.75 283.80,298.46 284.50,297.37 285.20,296.47 285.90,295.77 286.60,295.29 287.30,295.02 288.00,294.98 288.70,295.15 289.40,295.55 290.10,296.17 290.80,297.01 291.50,298.05 292.20,299.28 292.90,300.70 293.60,302.29 294.30,304.04 295.00,305.92 295.70,307.93 296.40,310.03 297.10,312.22 297.80,314.47 298.50,316.76 299.20,319.06 299.90,321.36 300.60,323.64 301.30,325.86 302.00,328.02 302.70,330.08 303.40,332.04 304.10,333.86 304.80,335.55 305.50,337.06 306.20,338.41 306.90,339.56 307.60,340.51 308.30,341.26 309.00,341.78 309.70,342.09 310.40,342.17 311.10,342.03 311.80,341.69 312.50,341.15 313.20,340.40 313.90,339.46 314.60,338.34 315.30,337.05 316.00,335.60 316.70,334.00 317.40,332.27 318.10,330.43 318.80,328.49 319.50,326.47 320.20,324.40 320.90,322.28 321.60,320.15 322.30,318.01 323.00,315.90 323.70,313.83 324.40,311.82 325.10,309.90 325.80,308.07 326.50,306.36 327.20,304.78 327.90,303.35 328.60,302.08 329.30,300.99 330.00,300.08 330.70,299.36 331.40,298.84 332.10,298.53 332.80,298.43 333.50,298.53 334.20,298.85 334.90,299.38 335.60,300.11 336.30,301.03 337.00,302.15 337.70,303.44 338.40,304.90 339.10,306.51 339.80,308.25 340.50,310.11 341.20,312.08 341.90,314.12 342.60,316.23 343.30,318.38 344.00,320.56 344.70,322.73 345.40,324.89" fill="none" stroke="#b0c030" stroke-width="1.2" stroke-linejoin="round" clip-path="url(#cg)"/>
<polyline points="209.60,297.22 210.30,298.87 211.00,300.67 211.70,302.61 212.40,304.66 213.10,306.81 213.80,309.03 214.50,311.31 215.20,313.63 215.90,315.95 216.60,318.26 217.30,320.54 218.00,322.77 218.70,324.92 219.40,326.97 220.10,328.90 220.80,330.70 221.50,332.35 222.20,333.83 222.90,335.13 223.60,336.24 224.30,337.14 225.00,337.83 225.70,338.29 226.40,338.54 227.10,338.56 227.80,338.37 228.50,337.98 229.20,337.39 229.90,336.61 230.60,335.64 231.30,334.50 232.00,333.19 232.70,331.73 233.40,330.14 234.10,328.42 234.80,326.59 235.50,324.67 236.20,322.69 236.90,320.65 237.60,318.57 238.30,316.49 239.00,314.41 239.70,312.36 240.40,310.36 241.10,308.42 241.80,306.56 242.50,304.81 243.20,303.18 243.90,301.68 244.60,300.33 245.30,299.14 246.00,298.12 246.70,297.29 247.40,296.64 248.10,296.19 248.80,295.95 249.50,295.90 250.20,296.08 250.90,296.47 251.60,297.07 252.30,297.89 253.00,298.90 253.70,300.11 254.40,301.50 255.10,303.05 255.80,304.75 256.50,306.60 257.20,308.55 257.90,310.61 258.60,312.75 259.30,314.94 260.00,317.18 260.70,319.43 261.40,321.68 262.10,323.90 262.80,326.07 263.50,328.18 264.20,330.19 264.90,332.10 265.60,333.89 266.30,335.53 267.00,337.01 267.70,338.32 268.40,339.45 269.10,340.38 269.80,341.11 270.50,341.62 271.20,341.92 271.90,342.00 272.60,341.86 273.30,341.51 274.00,340.95 274.70,340.18 275.40,339.22 276.10,338.07 276.80,336.74 277.50,335.25 278.20,333.61 278.90,331.83 279.60,329.94 280.30,327.94 281.00,325.87 281.70,323.74 282.40,321.56 283.10,319.37 283.80,317.18 284.50,315.01 285.20,312.88 285.90,310.82 286.60,308.84 287.30,306.96 288.00,305.20 288.70,303.58 289.40,302.11 290.10,300.81 290.80,299.68 291.50,298.75 292.20,298.01 292.90,297.48 293.60,297.16 294.30,297.05 295.00,297.16 295.70,297.48 296.40,298.02 297.10,298.76 297.80,299.70 298.50,300.83 299.20,302.14 299.90,303.62 300.60,305.26 301.30,307.03 302.00,308.92 302.70,310.91 303.40,312.99 304.10,315.13 304.80,317.32 305.50,319.53 306.20,321.74 306.90,323.93 307.60,326.08 308.30,328.16 309.00,330.17 309.70,332.08 310.40,333.87 311.10,335.52 311.80,337.03 312.50,338.36 313.20,339.52 313.90,340.49 314.60,341.26 315.30,341.83 316.00,342.18 316.70,342.32 317.40,342.25 318.10,341.97 318.80,341.50 319.50,340.82 320.20,339.96 320.90,338.92 321.60,337.71 322.30,336.34 323.00,334.82 323.70,333.17 324.40,331.41 325.10,329.54 325.80,327.60 326.50,325.59 327.20,323.54 327.90,321.46 328.60,319.38 329.30,317.32 330.00,315.29 330.70,313.31 331.40,311.41 332.10,309.60 332.80,307.90 333.50,306.32 334.20,304.89 334.90,303.60 335.60,302.49 336.30,301.55 337.00,300.80 337.70,300.24 338.40,299.88 339.10,299.72 339.80,299.76 340.50,300.01 341.20,300.47 341.90,301.12 342.60,301.97 343.30,303.00 344.00,304.20 344.70,305.58 345.40,307.10" fill="none" stroke="#909090" stroke-width="1.2" stroke-linejoin="round" clip-path="url(#cg)"/>
<polyline points="209.60,291.30 210.30,290.47 211.00,289.87 211.70,289.48 212.40,289.34 213.10,289.42 213.80,289.74 214.50,290.29 215.20,291.07 215.90,292.07 216.60,293.28 217.30,294.69 218.00,296.28 218.70,298.04 219.40,299.96 220.10,302.01 220.80,304.18 221.50,306.44 222.20,308.77 222.90,311.16 223.60,313.57 224.30,315.99 225.00,318.38 225.70,320.74 226.40,323.04 227.10,325.25 227.80,327.35 228.50,329.33 229.20,331.16 229.90,332.82 230.60,334.31 231.30,335.61 232.00,336.70 232.70,337.57 233.40,338.22 234.10,338.64 234.80,338.83 235.50,338.78 236.20,338.52 236.90,338.03 237.60,337.34 238.30,336.44 239.00,335.35 239.70,334.07 240.40,332.61 241.10,330.99 241.80,329.24 242.50,327.35 243.20,325.35 243.90,323.26 244.60,321.10 245.30,318.90 246.00,316.66 246.70,314.41 247.40,312.18 248.10,309.99 248.80,307.85 249.50,305.78 250.20,303.81 250.90,301.96 251.60,300.24 252.30,298.67 253.00,297.26 253.70,296.03 254.40,294.99 255.10,294.15 255.80,293.52 256.50,293.10 257.20,292.90 257.90,292.91 258.60,293.18 259.30,293.68 260.00,294.42 260.70,295.38 261.40,296.57 262.10,297.97 262.80,299.56 263.50,301.33 264.20,303.27 264.90,305.35 265.60,307.55 266.30,309.86 267.00,312.25 267.70,314.70 268.40,317.19 269.10,319.69 269.80,322.17 270.50,324.62 271.20,327.01 271.90,329.32 272.60,331.53 273.30,333.61 274.00,335.54 274.70,337.31 275.40,338.91 276.10,340.30 276.80,341.49 277.50,342.46 278.20,343.20 278.90,343.70 279.60,343.96 280.30,343.98 281.00,343.77 281.70,343.33 282.40,342.67 283.10,341.79 283.80,340.71 284.50,339.43 285.20,337.96 285.90,336.32 286.60,334.53 287.30,332.60 288.00,330.55 288.70,328.40 289.40,326.17 290.10,323.88 290.80,321.56 291.50,319.22 292.20,316.89 292.90,314.59 293.60,312.34 294.30,310.16 295.00,308.08 295.70,306.12 296.40,304.28 297.10,302.60 297.80,301.08 298.50,299.75 299.20,298.61 299.90,297.67 300.60,296.95 301.30,296.44 302.00,296.17 302.70,296.12 303.40,296.29 304.10,296.69 304.80,297.29 305.50,298.11 306.20,299.14 306.90,300.35 307.60,301.75 308.30,303.31 309.00,305.03 309.70,306.88 310.40,308.85 311.10,310.92 311.80,313.07 312.50,315.28 313.20,317.53 313.90,319.80 314.60,322.06 315.30,324.29 316.00,326.48 316.70,328.60 317.40,330.63 318.10,332.55 318.80,334.35 319.50,336.00 320.20,337.49 320.90,338.81 321.60,339.95 322.30,340.88 323.00,341.61 323.70,342.13 324.40,342.43 325.10,342.51 325.80,342.37 326.50,342.03 327.20,341.47 327.90,340.71 328.60,339.76 329.30,338.62 330.00,337.30 330.70,335.83 331.40,334.20 332.10,332.44 332.80,330.57 333.50,328.59 334.20,326.54 334.90,324.43 335.60,322.27 336.30,320.10 337.00,317.93 337.70,315.78 338.40,313.67 339.10,311.63 339.80,309.67 340.50,307.81 341.20,306.07 341.90,304.46 342.60,303.01 343.30,301.72 344.00,300.61 344.70,299.68 345.40,298.95" fill="none" stroke="#d07090" stroke-width="1.2" stroke-linejoin="round" clip-path="url(#cg)"/>
<polyline points="209.60,317.05 210.30,314.76 211.00,312.48 211.70,310.22 212.40,307.99 213.10,305.83 213.80,303.76 214.50,301.79 215.20,299.94 215.90,298.23 216.60,296.67 217.30,295.29 218.00,294.09 218.70,293.09 219.40,292.30 220.10,291.71 220.80,291.35 221.50,291.20 222.20,291.28 222.90,291.60 223.60,292.13 224.30,292.89 225.00,293.87 225.70,295.04 226.40,296.41 227.10,297.97 227.80,299.68 228.50,301.55 229.20,303.55 229.90,305.65 230.60,307.86 231.30,310.13 232.00,312.45 232.70,314.80 233.40,317.15 234.10,319.49 234.80,321.79 235.50,324.02 236.20,326.17 236.90,328.22 237.60,330.15 238.30,331.93 239.00,333.55 239.70,335.00 240.40,336.26 241.10,337.33 241.80,338.18 242.50,338.81 243.20,339.22 243.90,339.40 244.60,339.35 245.30,339.08 246.00,338.59 246.70,337.88 247.40,336.96 248.10,335.85 248.80,334.54 249.50,333.05 250.20,331.41 250.90,329.61 251.60,327.69 252.30,325.65 253.00,323.52 253.70,321.31 254.40,319.06 255.10,316.78 255.80,314.49 256.50,312.21 257.20,309.97 257.90,307.79 258.60,305.68 259.30,303.67 260.00,301.78 260.70,300.03 261.40,298.42 262.10,296.99 262.80,295.73 263.50,294.67 264.20,293.81 264.90,293.17 265.60,292.74 266.30,292.53 267.00,292.55 267.70,292.84 268.40,293.38 269.10,294.18 269.80,295.23 270.50,296.52 271.20,298.04 271.90,299.77 272.60,301.69 273.30,303.79 274.00,306.05 274.70,308.44 275.40,310.95 276.10,313.54 276.80,316.20 277.50,318.90 278.20,321.61 278.90,324.31 279.60,326.97 280.30,329.56 281.00,332.07 281.70,334.46 282.40,336.72 283.10,338.82 283.80,340.74 284.50,342.47 285.20,343.99 285.90,345.28 286.60,346.33 287.30,347.13 288.00,347.67 288.70,347.96 289.40,347.98 290.10,347.75 290.80,347.29 291.50,346.60 292.20,345.67 292.90,344.53 293.60,343.18 294.30,341.63 295.00,339.91 295.70,338.02 296.40,335.98 297.10,333.82 297.80,331.55 298.50,329.20 299.20,326.79 299.90,324.34 300.60,321.87 301.30,319.41 302.00,316.99 302.70,314.62 303.40,312.32 304.10,310.13 304.80,308.05 305.50,306.12 306.20,304.35 306.90,302.75 307.60,301.34 308.30,300.14 309.00,299.15 309.70,298.39 310.40,297.86 311.10,297.57 311.80,297.51 312.50,297.68 313.20,298.07 313.90,298.66 314.60,299.46 315.30,300.45 316.00,301.64 316.70,303.00 317.40,304.52 318.10,306.19 318.80,308.00 319.50,309.92 320.20,311.94 320.90,314.03 321.60,316.19 322.30,318.38 323.00,320.59 323.70,322.79 324.40,324.97 325.10,327.10 325.80,329.17 326.50,331.14 327.20,333.02 327.90,334.77 328.60,336.38 329.30,337.83 330.00,339.12 330.70,340.22 331.40,341.14 332.10,341.85 332.80,342.35 333.50,342.64 334.20,342.72 334.90,342.59 335.60,342.25 336.30,341.70 337.00,340.96 337.70,340.02 338.40,338.90 339.10,337.61 339.80,336.16 340.50,334.56 341.20,332.83 341.90,330.99 342.60,329.05 343.30,327.03 344.00,324.96 344.70,322.84 345.40,320.71" fill="none" stroke="#40a860" stroke-width="1.2" stroke-linejoin="round" clip-path="url(#cg)"/>
<polyline points="209.60,334.05 210.30,332.71 211.00,331.21 211.70,329.56 212.40,327.77 213.10,325.87 213.80,323.86 214.50,321.78 215.20,319.63 215.90,317.44 216.60,315.24 217.30,313.03 218.00,310.85 218.70,308.71 219.40,306.64 220.10,304.64 220.80,302.75 221.50,300.99 222.20,299.36 222.90,297.88 223.60,296.57 224.30,295.44 225.00,294.50 225.70,293.76 226.40,293.22 227.10,292.90 227.80,292.79 228.50,292.90 229.20,293.24 229.90,293.80 230.60,294.57 231.30,295.56 232.00,296.74 232.70,298.11 233.40,299.65 234.10,301.35 234.80,303.20 235.50,305.18 236.20,307.26 236.90,309.43 237.60,311.66 238.30,313.94 239.00,316.25 239.70,318.55 240.40,320.84 241.10,323.08 241.80,325.26 242.50,327.35 243.20,329.34 243.90,331.21 244.60,332.94 245.30,334.50 246.00,335.90 246.70,337.11 247.40,338.12 248.10,338.92 248.80,339.51 249.50,339.88 250.20,340.03 250.90,339.95 251.60,339.65 252.30,339.13 253.00,338.40 253.70,337.46 254.40,336.32 255.10,334.99 255.80,333.50 256.50,331.84 257.20,330.04 257.90,328.11 258.60,326.07 259.30,323.94 260.00,321.75 260.70,319.50 261.40,317.24 262.10,314.96 262.80,312.71 263.50,310.49 264.20,308.33 264.90,306.25 265.60,304.27 266.30,302.41 267.00,300.69 267.70,299.12 268.40,297.72 269.10,296.51 269.80,295.48 270.50,294.66 271.20,294.05 271.90,293.65 272.60,293.48 273.30,293.55 274.00,293.93 274.70,294.62 275.40,295.62 276.10,296.91 276.80,298.48 277.50,300.32 278.20,302.42 278.90,304.74 279.60,307.26 280.30,309.97 281.00,312.84 281.70,315.84 282.40,318.94 283.10,322.12 283.80,325.33 284.50,328.56 285.20,331.76 285.90,334.92 286.60,337.99 287.30,340.96 288.00,343.78 288.70,346.45 289.40,348.92 290.10,351.17 290.80,353.19 291.50,354.96 292.20,356.46 292.90,357.66 293.60,358.57 294.30,359.18 295.00,359.47 295.70,359.45 296.40,359.14 297.10,358.55 297.80,357.67 298.50,356.52 299.20,355.11 299.90,353.45 300.60,351.56 301.30,349.45 302.00,347.15 302.70,344.68 303.40,342.06 304.10,339.32 304.80,336.48 305.50,333.57 306.20,330.62 306.90,327.65 307.60,324.70 308.30,321.79 309.00,318.95 309.70,316.21 310.40,313.59 311.10,311.12 311.80,308.82 312.50,306.72 313.20,304.82 313.90,303.17 314.60,301.75 315.30,300.61 316.00,299.73 316.70,299.13 317.40,298.82 318.10,298.79 318.80,298.99 319.50,299.39 320.20,300.00 320.90,300.81 321.60,301.81 322.30,302.98 323.00,304.33 323.70,305.84 324.40,307.49 325.10,309.27 325.80,311.16 326.50,313.14 327.20,315.19 327.90,317.30 328.60,319.44 329.30,321.59 330.00,323.74 330.70,325.86 331.40,327.93 332.10,329.93 332.80,331.84 333.50,333.65 334.20,335.34 334.90,336.89 335.60,338.29 336.30,339.52 337.00,340.57 337.70,341.43 338.40,342.10 339.10,342.56 339.80,342.81 340.50,342.86 341.20,342.70 341.90,342.33 342.60,341.77 343.30,341.01 344.00,340.07 344.70,338.95 345.40,337.66" fill="none" stroke="#30b0e0" stroke-width="1.2" stroke-linejoin="round" clip-path="url(#cg)"/>
<polyline points="209.60,338.01 210.30,337.99 211.00,337.75 211.70,337.30 212.40,336.62 213.10,335.74 213.80,334.65 214.50,333.38 215.20,331.93 215.90,330.31 216.60,328.54 217.30,326.64 218.00,324.63 218.70,322.52 219.40,320.34 220.10,318.10 220.80,315.83 221.50,313.55 222.20,311.29 222.90,309.05 223.60,306.87 224.30,304.76 225.00,302.75 225.70,300.85 226.40,299.08 227.10,297.46 227.80,296.01 228.50,294.74 229.20,293.65 229.90,292.77 230.60,292.09 231.30,291.63 232.00,291.40 232.70,291.38 233.40,291.60 234.10,292.05 234.80,292.73 235.50,293.63 236.20,294.74 236.90,296.05 237.60,297.56 238.30,299.23 239.00,301.07 239.70,303.05 240.40,305.16 241.10,307.36 241.80,309.65 242.50,312.00 243.20,314.38 243.90,316.78 244.60,319.17 245.30,321.53 246.00,323.84 246.70,326.07 247.40,328.21 248.10,330.22 248.80,332.11 249.50,333.83 250.20,335.39 250.90,336.76 251.60,337.93 252.30,338.89 253.00,339.63 253.70,340.15 254.40,340.43 255.10,340.48 255.80,340.30 256.50,339.89 257.20,339.26 257.90,338.40 258.60,337.34 259.30,336.08 260.00,334.63 260.70,333.00 261.40,331.22 262.10,329.29 262.80,327.24 263.50,325.09 264.20,322.85 264.90,320.55 265.60,318.21 266.30,315.86 267.00,313.50 267.70,311.18 268.40,308.91 269.10,306.70 269.80,304.59 270.50,302.59 271.20,300.72 271.90,299.01 272.60,297.45 273.30,296.08 274.00,294.90 274.70,293.93 275.40,293.17 276.10,292.63 276.80,292.32 277.50,292.24 278.20,292.45 278.90,292.98 279.60,293.83 280.30,294.99 281.00,296.46 281.70,298.20 282.40,300.22 283.10,302.48 283.80,304.98 284.50,307.68 285.20,310.55 285.90,313.58 286.60,316.73 287.30,319.97 288.00,323.27 288.70,326.60 289.40,329.93 290.10,333.23 290.80,336.46 291.50,339.59 292.20,342.60 292.90,345.45 293.60,348.12 294.30,350.59 295.00,352.82 295.70,354.80 296.40,356.50 297.10,357.92 297.80,359.04 298.50,359.85 299.20,360.34 299.90,360.50 300.60,360.35 301.30,359.90 302.00,359.14 302.70,358.10 303.40,356.78 304.10,355.19 304.80,353.35 305.50,351.28 306.20,348.98 306.90,346.50 307.60,343.84 308.30,341.05 309.00,338.13 309.70,335.12 310.40,332.06 311.10,328.96 311.80,325.86 312.50,322.79 313.20,319.77 313.90,316.84 314.60,314.02 315.30,311.34 316.00,308.83 316.70,306.51 317.40,304.41 318.10,302.53 318.80,300.90 319.50,299.54 320.20,298.46 320.90,297.67 321.60,297.17 322.30,296.98 323.00,297.05 323.70,297.35 324.40,297.86 325.10,298.59 325.80,299.52 326.50,300.64 327.20,301.95 327.90,303.43 328.60,305.07 329.30,306.85 330.00,308.75 330.70,310.77 331.40,312.87 332.10,315.04 332.80,317.25 333.50,319.49 334.20,321.74 334.90,323.97 335.60,326.16 336.30,328.29 337.00,330.34 337.70,332.30 338.40,334.13 339.10,335.84 339.80,337.39 340.50,338.77 341.20,339.97 341.90,340.99 342.60,341.80 343.30,342.40 344.00,342.79 344.70,342.97 345.40,342.92" fill="none" stroke="#3070c0" stroke-width="1.2" stroke-linejoin="round" clip-path="url(#cg)"/>
<line x1="244.20" y1="341.00" x2="244.20" y2="348.40" stroke="#777" stroke-width="0.7"/>
<polygon points="244.20,350.10 243.10,347.90 245.30,347.90" fill="#222"/>
<line x1="252.00" y1="341.00" x2="252.00" y2="350.70" stroke="#777" stroke-width="0.7"/>
<polygon points="252.00,352.40 250.90,350.20 253.10,350.20" fill="#222"/>
<line x1="257.50" y1="342.00" x2="257.50" y2="350.70" stroke="#777" stroke-width="0.7"/>
<polygon points="257.50,352.40 256.40,350.20 258.60,350.20" fill="#222"/>
<line x1="260.50" y1="342.00" x2="260.50" y2="353.40" stroke="#777" stroke-width="0.7"/>
<polygon points="260.50,355.10 259.40,352.90 261.60,352.90" fill="#222"/>
<line x1="265.30" y1="342.00" x2="265.30" y2="353.80" stroke="#777" stroke-width="0.7"/>
<polygon points="265.30,355.50 264.20,353.30 266.40,353.30" fill="#222"/>
<line x1="271.80" y1="343.00" x2="271.80" y2="356.90" stroke="#777" stroke-width="0.7"/>
<polygon points="271.80,358.60 270.70,356.40 272.90,356.40" fill="#222"/>
<line x1="280.00" y1="345.00" x2="280.00" y2="360.00" stroke="#777" stroke-width="0.7"/>
<polygon points="280.00,361.70 278.90,359.50 281.10,359.50" fill="#222"/>
<line x1="289.10" y1="349.00" x2="289.10" y2="365.40" stroke="#777" stroke-width="0.7"/>
<polygon points="289.10,367.10 288.00,364.90 290.20,364.90" fill="#222"/>
<line x1="295.30" y1="360.50" x2="295.30" y2="370.10" stroke="#777" stroke-width="0.7"/>
<polygon points="295.30,371.80 294.20,369.60 296.40,369.60" fill="#222"/>
<line x1="299.90" y1="361.50" x2="299.90" y2="373.50" stroke="#777" stroke-width="0.7"/>
<polygon points="299.90,375.20 298.80,373.00 301.00,373.00" fill="#222"/>
<rect x="311.60" y="280.70" width="34.20" height="100.30" stroke="#bbb" stroke-width="0.6" fill="#fff"/>
<line x1="313.80" y1="308.00" x2="325.00" y2="308.00" stroke="#30d030" stroke-width="1.3"/>
<text x="326.00" y="309.87" font-size="5.2" text-anchor="start" fill="#222" stroke="#222" stroke-width="0.146">90.1 °C</text>
<line x1="313.80" y1="315.02" x2="325.00" y2="315.02" stroke="#e03080" stroke-width="1.3"/>
<text x="326.00" y="316.89" font-size="5.2" text-anchor="start" fill="#222" stroke="#222" stroke-width="0.146">99.7 °C</text>
<line x1="313.80" y1="322.04" x2="325.00" y2="322.04" stroke="#30c8d8" stroke-width="1.3"/>
<text x="326.00" y="323.91" font-size="5.2" text-anchor="start" fill="#222" stroke="#222" stroke-width="0.146">105.2 °C</text>
<line x1="313.80" y1="329.06" x2="325.00" y2="329.06" stroke="#5050c0" stroke-width="1.3"/>
<text x="326.00" y="330.93" font-size="5.2" text-anchor="start" fill="#222" stroke="#222" stroke-width="0.146">110 °C</text>
<line x1="313.80" y1="336.08" x2="325.00" y2="336.08" stroke="#b0c030" stroke-width="1.3"/>
<text x="326.00" y="337.95" font-size="5.2" text-anchor="start" fill="#222" stroke="#222" stroke-width="0.146">111 °C</text>
<line x1="313.80" y1="343.10" x2="325.00" y2="343.10" stroke="#909090" stroke-width="1.3"/>
<text x="326.00" y="344.97" font-size="5.2" text-anchor="start" fill="#222" stroke="#222" stroke-width="0.146">115 °C</text>
<line x1="313.80" y1="350.12" x2="325.00" y2="350.12" stroke="#d07090" stroke-width="1.3"/>
<text x="326.00" y="351.99" font-size="5.2" text-anchor="start" fill="#222" stroke="#222" stroke-width="0.146">120 °C</text>
<line x1="313.80" y1="357.14" x2="325.00" y2="357.14" stroke="#40a860" stroke-width="1.3"/>
<text x="326.00" y="359.01" font-size="5.2" text-anchor="start" fill="#222" stroke="#222" stroke-width="0.146">125.4 °C</text>
<line x1="313.80" y1="364.16" x2="325.00" y2="364.16" stroke="#30b0e0" stroke-width="1.3"/>
<text x="326.00" y="366.03" font-size="5.2" text-anchor="start" fill="#222" stroke="#222" stroke-width="0.146">130.1 °C</text>
<line x1="313.80" y1="371.18" x2="325.00" y2="371.18" stroke="#3070c0" stroke-width="1.3"/>
<text x="326.00" y="373.05" font-size="5.2" text-anchor="start" fill="#222" stroke="#222" stroke-width="0.146">137.5 °C</text>
<rect x="209.50" y="280.50" width="136.00" height="101.00" stroke="#151515" stroke-width="1.15" fill="none"/>
<line x1="207.10" y1="300.00" x2="209.60" y2="300.00" stroke="#111" stroke-width="0.9"/>
<text x="206.50" y="302.95" font-size="8.2" text-anchor="end" fill="#000" stroke="#000" stroke-width="0.230">-50</text>
<line x1="207.10" y1="343.20" x2="209.60" y2="343.20" stroke="#111" stroke-width="0.9"/>
<text x="206.50" y="346.15" font-size="8.2" text-anchor="end" fill="#000" stroke="#000" stroke-width="0.230">-55</text>
<line x1="208.00" y1="321.60" x2="209.60" y2="321.60" stroke="#111" stroke-width="0.8"/>
<line x1="208.00" y1="364.80" x2="209.60" y2="364.80" stroke="#111" stroke-width="0.8"/>
<line x1="209.60" y1="381.00" x2="209.60" y2="383.50" stroke="#111" stroke-width="0.9"/>
<text x="209.60" y="390.66" font-size="8.5" text-anchor="middle" fill="#000" stroke="#000" stroke-width="0.238">1550</text>
<line x1="277.70" y1="381.00" x2="277.70" y2="383.50" stroke="#111" stroke-width="0.9"/>
<text x="277.70" y="390.66" font-size="8.5" text-anchor="middle" fill="#000" stroke="#000" stroke-width="0.238">1560</text>
<line x1="345.80" y1="381.00" x2="345.80" y2="383.50" stroke="#111" stroke-width="0.9"/>
<text x="345.80" y="390.66" font-size="8.5" text-anchor="middle" fill="#000" stroke="#000" stroke-width="0.238">1570</text>
<line x1="243.65" y1="381.00" x2="243.65" y2="382.60" stroke="#111" stroke-width="0.8"/>
<line x1="311.75" y1="381.00" x2="311.75" y2="382.60" stroke="#111" stroke-width="0.8"/>
<text x="273.20" y="401.90" font-size="8.45" text-anchor="middle" fill="#000" stroke="#000" stroke-width="0.237">Wavelength Shift (nm)</text>
<g transform="translate(191.20 337.00) rotate(-90.00)"><text x="0" y="2.95" font-size="8.2" text-anchor="middle" fill="#000" stroke="#000" stroke-width="0.230">Reflection Intensity (dB)</text></g>
<text x="210.20" y="287.74" font-size="7.9" text-anchor="start" fill="#000" stroke="#000" stroke-width="0.221">PC_SPFPI</text>
<text x="189.70" y="284.30" font-size="13.8" text-anchor="start" fill="#000" stroke="#000" stroke-width="0.386">(g)</text>
<line x1="243.20" y1="353.30" x2="292.54" y2="374.03" stroke="#ff2020" stroke-width="1.4"/>
<polygon points="296.50,375.70 291.22,375.87 292.93,371.81" fill="#ff2020"/>
<g transform="translate(268.70 369.50) rotate(24.00)"><text x="0" y="2.84" font-size="7.9" text-anchor="middle" fill="#ff2020" stroke="#ff2020" stroke-width="0.221">Red shift</text></g>
<polyline points="372.00,347.94 372.70,349.27 373.40,350.47 374.10,351.54 374.80,352.48 375.50,353.27 376.20,353.91 376.90,354.41 377.60,354.75 378.30,354.94 379.00,354.98 379.70,354.85 380.40,354.57 381.10,354.13 381.80,353.54 382.50,352.80 383.20,351.92 383.90,350.89 384.60,349.73 385.30,348.44 386.00,347.02 386.70,345.49 387.40,343.85 388.10,342.12 388.80,340.29 389.50,338.39 390.20,336.42 390.90,334.39 391.60,332.32 392.30,330.20 393.00,328.07 393.70,325.92 394.40,323.76 395.10,321.62 395.80,319.50 396.50,317.41 397.20,315.37 397.90,313.38 398.60,311.46 399.30,309.61 400.00,307.85 400.70,306.18 401.40,304.62 402.10,303.17 402.80,301.84 403.50,300.64 404.20,299.58 404.90,298.65 405.60,297.87 406.30,297.23 407.00,296.75 407.70,296.43 408.40,296.26 409.10,296.25 409.80,296.40 410.50,296.71 411.20,297.18 411.90,297.80 412.60,298.58 413.30,299.51 414.00,300.58 414.70,301.78 415.40,303.12 416.10,304.59 416.80,306.17 417.50,307.85 418.20,309.64 418.90,311.52 419.60,313.47 420.30,315.50 421.00,317.58 421.70,319.71 422.40,321.87 423.10,324.06 423.80,326.26 424.50,328.45 425.20,330.64 425.90,332.80 426.60,334.93 427.30,337.01 428.00,339.04 428.70,340.99 429.40,342.87 430.10,344.66 430.80,346.34 431.50,347.92 432.20,349.39 432.90,350.73 433.60,351.93 434.30,353.01 435.00,353.93 435.70,354.71 436.40,355.33 437.10,355.80 437.80,356.11 438.50,356.26 439.20,356.25 439.90,356.07 440.60,355.73 441.30,355.23 442.00,354.57 442.70,353.75 443.40,352.78 444.10,351.66 444.80,350.41 445.50,349.02 446.20,347.50 446.90,345.87 447.60,344.13 448.30,342.28 449.00,340.35 449.70,338.34 450.40,336.26 451.10,334.12 451.80,331.94 452.50,329.72 453.20,327.48 453.90,325.23 454.60,322.98 455.30,320.74 456.00,318.53 456.70,316.36 457.40,314.23 458.10,312.17 458.80,310.18 459.50,308.27 460.20,306.46 460.90,304.75 461.60,303.15 462.30,301.67 463.00,300.31 463.70,299.10 464.40,298.02 465.10,297.10 465.80,296.32 466.50,295.70 467.20,295.25 467.90,294.95 468.60,294.82 469.30,294.87 470.00,295.10 470.70,295.52 471.40,296.12 472.10,296.91 472.80,297.88 473.50,299.02 474.20,300.33 474.90,301.80 475.60,303.42 476.30,305.18 477.00,307.08 477.70,309.11 478.40,311.25 479.10,313.48 479.80,315.81 480.50,318.22 481.20,320.69 481.90,323.21 482.60,325.77 483.30,328.36 484.00,330.95 484.70,333.54 485.40,336.11 486.10,338.65 486.80,341.15 487.50,343.58 488.20,345.94 488.90,348.22 489.60,350.41 490.30,352.48 491.00,354.44 491.70,356.26 492.40,357.94 493.10,359.48 493.80,360.86 494.50,362.07 495.20,363.11 495.90,363.98 496.60,364.66 497.30,365.16 498.00,365.48 498.70,365.60 499.40,365.54 500.10,365.31 500.80,364.92 501.50,364.36 502.20,363.64 502.90,362.76 503.60,361.73 504.30,360.55 505.00,359.23 505.70,357.78" fill="none" stroke="#202020" stroke-width="1.2" stroke-linejoin="round" clip-path="url(#ch)"/>
<polyline points="372.00,350.38 372.70,349.59 373.40,348.67 374.10,347.63 374.80,346.46 375.50,345.17 376.20,343.77 376.90,342.27 377.60,340.68 378.30,339.01 379.00,337.25 379.70,335.43 380.40,333.56 381.10,331.63 381.80,329.67 382.50,327.69 383.20,325.68 383.90,323.68 384.60,321.68 385.30,319.69 386.00,317.74 386.70,315.82 387.40,313.95 388.10,312.14 388.80,310.40 389.50,308.73 390.20,307.15 390.90,305.67 391.60,304.29 392.30,303.02 393.00,301.86 393.70,300.83 394.40,299.93 395.10,299.16 395.80,298.53 396.50,298.05 397.20,297.70 397.90,297.50 398.60,297.45 399.30,297.55 400.00,297.79 400.70,298.19 401.40,298.73 402.10,299.41 402.80,300.24 403.50,301.20 404.20,302.29 404.90,303.50 405.60,304.83 406.30,306.27 407.00,307.82 407.70,309.46 408.40,311.18 409.10,312.98 409.80,314.85 410.50,316.78 411.20,318.75 411.90,320.76 412.60,322.79 413.30,324.84 414.00,326.89 414.70,328.93 415.40,330.95 416.10,332.95 416.80,334.90 417.50,336.80 418.20,338.64 418.90,340.41 419.60,342.10 420.30,343.70 421.00,345.20 421.70,346.60 422.40,347.88 423.10,349.04 423.80,350.08 424.50,350.98 425.20,351.74 425.90,352.37 426.60,352.85 427.30,353.18 428.00,353.36 428.70,353.39 429.40,353.27 430.10,352.98 430.80,352.54 431.50,351.95 432.20,351.21 432.90,350.31 433.60,349.28 434.30,348.11 435.00,346.81 435.70,345.38 436.40,343.84 437.10,342.19 437.80,340.45 438.50,338.61 439.20,336.70 439.90,334.71 440.60,332.67 441.30,330.58 442.00,328.45 442.70,326.30 443.40,324.13 444.10,321.97 444.80,319.81 445.50,317.68 446.20,315.57 446.90,313.52 447.60,311.51 448.30,309.58 449.00,307.72 449.70,305.94 450.40,304.27 451.10,302.69 451.80,301.24 452.50,299.90 453.20,298.69 453.90,297.62 454.60,296.68 455.30,295.90 456.00,295.26 456.70,294.77 457.40,294.45 458.10,294.28 458.80,294.27 459.50,294.43 460.20,294.76 460.90,295.27 461.60,295.94 462.30,296.78 463.00,297.78 463.70,298.93 464.40,300.24 465.10,301.68 465.80,303.26 466.50,304.96 467.20,306.78 467.90,308.71 468.60,310.73 469.30,312.84 470.00,315.02 470.70,317.27 471.40,319.56 472.10,321.90 472.80,324.25 473.50,326.62 474.20,329.00 474.90,331.35 475.60,333.69 476.30,335.98 477.00,338.23 477.70,340.41 478.40,342.52 479.10,344.54 479.80,346.47 480.50,348.29 481.20,349.99 481.90,351.57 482.60,353.01 483.30,354.32 484.00,355.47 484.70,356.47 485.40,357.31 486.10,357.98 486.80,358.49 487.50,358.82 488.20,358.98 488.90,358.98 489.60,358.82 490.30,358.51 491.00,358.06 491.70,357.47 492.40,356.74 493.10,355.87 493.80,354.87 494.50,353.75 495.20,352.50 495.90,351.15 496.60,349.69 497.30,348.13 498.00,346.48 498.70,344.75 499.40,342.95 500.10,341.09 500.80,339.17 501.50,337.22 502.20,335.23 502.90,333.23 503.60,331.21 504.30,329.20 505.00,327.20 505.70,325.22" fill="none" stroke="#ff2020" stroke-width="1.2" stroke-linejoin="round" clip-path="url(#ch)"/>
<polyline points="372.00,322.01 372.70,320.13 373.40,318.26 374.10,316.43 374.80,314.65 375.50,312.92 376.20,311.25 376.90,309.66 377.60,308.14 378.30,306.72 379.00,305.39 379.70,304.17 380.40,303.06 381.10,302.06 381.80,301.19 382.50,300.44 383.20,299.82 383.90,299.34 384.60,298.99 385.30,298.78 386.00,298.71 386.70,298.78 387.40,298.99 388.10,299.35 388.80,299.84 389.50,300.47 390.20,301.23 390.90,302.12 391.60,303.13 392.30,304.27 393.00,305.51 393.70,306.86 394.40,308.31 395.10,309.85 395.80,311.47 396.50,313.17 397.20,314.93 397.90,316.75 398.60,318.61 399.30,320.50 400.00,322.42 400.70,324.36 401.40,326.30 402.10,328.24 402.80,330.16 403.50,332.05 404.20,333.90 404.90,335.71 405.60,337.46 406.30,339.15 407.00,340.76 407.70,342.29 408.40,343.72 409.10,345.06 409.80,346.29 410.50,347.40 411.20,348.40 411.90,349.27 412.60,350.02 413.30,350.63 414.00,351.10 414.70,351.43 415.40,351.62 416.10,351.68 416.80,351.57 417.50,351.32 418.20,350.91 418.90,350.35 419.60,349.64 420.30,348.79 421.00,347.79 421.70,346.66 422.40,345.40 423.10,344.02 423.80,342.53 424.50,340.93 425.20,339.23 425.90,337.44 426.60,335.57 427.30,333.63 428.00,331.63 428.70,329.59 429.40,327.51 430.10,325.40 430.80,323.28 431.50,321.15 432.20,319.04 432.90,316.94 433.60,314.87 434.30,312.85 435.00,310.87 435.70,308.97 436.40,307.13 437.10,305.38 437.80,303.72 438.50,302.16 439.20,300.72 439.90,299.39 440.60,298.18 441.30,297.11 442.00,296.17 442.70,295.38 443.40,294.74 444.10,294.24 444.80,293.90 445.50,293.71 446.20,293.67 446.90,293.80 447.60,294.10 448.30,294.56 449.00,295.18 449.70,295.95 450.40,296.89 451.10,297.97 451.80,299.19 452.50,300.55 453.20,302.03 453.90,303.64 454.60,305.36 455.30,307.18 456.00,309.10 456.70,311.10 457.40,313.17 458.10,315.30 458.80,317.48 459.50,319.70 460.20,321.95 460.90,324.21 461.60,326.47 462.30,328.72 463.00,330.95 463.70,333.14 464.40,335.29 465.10,337.38 465.80,339.40 466.50,341.34 467.20,343.20 467.90,344.95 468.60,346.59 469.30,348.11 470.00,349.50 470.70,350.77 471.40,351.89 472.10,352.86 472.80,353.68 473.50,354.35 474.20,354.85 474.90,355.20 475.60,355.37 476.30,355.39 477.00,355.26 477.70,355.00 478.40,354.61 479.10,354.08 479.80,353.43 480.50,352.65 481.20,351.76 481.90,350.74 482.60,349.62 483.30,348.39 484.00,347.06 484.70,345.65 485.40,344.15 486.10,342.57 486.80,340.93 487.50,339.23 488.20,337.48 488.90,335.70 489.60,333.88 490.30,332.05 491.00,330.20 491.70,328.35 492.40,326.52 493.10,324.70 493.80,322.92 494.50,321.17 495.20,319.47 495.90,317.83 496.60,316.25 497.30,314.75 498.00,313.34 498.70,312.01 499.40,310.78 500.10,309.66 500.80,308.64 501.50,307.75 502.20,306.97 502.90,306.32 503.60,305.79 504.30,305.40 505.00,305.14 505.70,305.01" fill="none" stroke="#2020ff" stroke-width="1.2" stroke-linejoin="round" clip-path="url(#ch)"/>
<polyline points="372.00,307.77 372.70,306.51 373.40,305.34 374.10,304.27 374.80,303.30 375.50,302.45 376.20,301.71 376.90,301.09 377.60,300.59 378.30,300.21 379.00,299.96 379.70,299.85 380.40,299.85 381.10,299.99 381.80,300.27 382.50,300.66 383.20,301.19 383.90,301.84 384.60,302.61 385.30,303.49 386.00,304.49 386.70,305.59 387.40,306.79 388.10,308.09 388.80,309.47 389.50,310.93 390.20,312.47 390.90,314.06 391.60,315.71 392.30,317.41 393.00,319.14 393.70,320.90 394.40,322.68 395.10,324.47 395.80,326.25 396.50,328.03 397.20,329.78 397.90,331.50 398.60,333.19 399.30,334.82 400.00,336.40 400.70,337.92 401.40,339.36 402.10,340.71 402.80,341.98 403.50,343.16 404.20,344.23 404.90,345.20 405.60,346.05 406.30,346.78 407.00,347.40 407.70,347.89 408.40,348.25 409.10,348.48 409.80,348.59 410.50,348.56 411.20,348.38 411.90,348.07 412.60,347.62 413.30,347.03 414.00,346.30 414.70,345.45 415.40,344.47 416.10,343.37 416.80,342.16 417.50,340.84 418.20,339.42 418.90,337.91 419.60,336.31 420.30,334.63 421.00,332.89 421.70,331.09 422.40,329.25 423.10,327.36 423.80,325.45 424.50,323.51 425.20,321.57 425.90,319.64 426.60,317.72 427.30,315.82 428.00,313.95 428.70,312.13 429.40,310.36 430.10,308.66 430.80,307.03 431.50,305.48 432.20,304.01 432.90,302.65 433.60,301.39 434.30,300.24 435.00,299.21 435.70,298.30 436.40,297.52 437.10,296.88 437.80,296.37 438.50,295.99 439.20,295.76 439.90,295.67 440.60,295.72 441.30,295.91 442.00,296.24 442.70,296.71 443.40,297.31 444.10,298.04 444.80,298.90 445.50,299.89 446.20,300.99 446.90,302.21 447.60,303.53 448.30,304.94 449.00,306.45 449.70,308.04 450.40,309.71 451.10,311.44 451.80,313.23 452.50,315.06 453.20,316.93 453.90,318.83 454.60,320.74 455.30,322.66 456.00,324.57 456.70,326.47 457.40,328.34 458.10,330.18 458.80,331.97 459.50,333.71 460.20,335.39 460.90,336.99 461.60,338.51 462.30,339.94 463.00,341.28 463.70,342.51 464.40,343.63 465.10,344.63 465.80,345.51 466.50,346.26 467.20,346.88 467.90,347.37 468.60,347.72 469.30,347.93 470.00,348.00 470.70,347.94 471.40,347.77 472.10,347.48 472.80,347.08 473.50,346.57 474.20,345.95 474.90,345.22 475.60,344.40 476.30,343.48 477.00,342.46 477.70,341.36 478.40,340.18 479.10,338.93 479.80,337.61 480.50,336.23 481.20,334.79 481.90,333.32 482.60,331.80 483.30,330.26 484.00,328.69 484.70,327.11 485.40,325.53 486.10,323.96 486.80,322.40 487.50,320.86 488.20,319.35 488.90,317.87 489.60,316.45 490.30,315.08 491.00,313.76 491.70,312.52 492.40,311.35 493.10,310.26 493.80,309.26 494.50,308.35 495.20,307.54 495.90,306.83 496.60,306.23 497.30,305.73 498.00,305.35 498.70,305.07 499.40,304.92 500.10,304.88 500.80,304.96 501.50,305.16 502.20,305.48 502.90,305.93 503.60,306.49 504.30,307.16 505.00,307.95 505.70,308.85" fill="none" stroke="#ff20ff" stroke-width="1.2" stroke-linejoin="round" clip-path="url(#ch)"/>
<polyline points="372.00,298.17 372.70,297.67 373.40,297.29 374.10,297.05 374.80,296.94 375.50,296.97 376.20,297.14 376.90,297.44 377.60,297.88 378.30,298.45 379.00,299.15 379.70,299.97 380.40,300.92 381.10,301.98 381.80,303.15 382.50,304.43 383.20,305.80 383.90,307.26 384.60,308.81 385.30,310.43 386.00,312.11 386.70,313.85 387.40,315.63 388.10,317.46 388.80,319.31 389.50,321.17 390.20,323.05 390.90,324.92 391.60,326.78 392.30,328.61 393.00,330.42 393.70,332.18 394.40,333.88 395.10,335.53 395.80,337.11 396.50,338.61 397.20,340.02 397.90,341.34 398.60,342.56 399.30,343.67 400.00,344.66 400.70,345.54 401.40,346.29 402.10,346.92 402.80,347.41 403.50,347.77 404.20,348.00 404.90,348.09 405.60,348.03 406.30,347.83 407.00,347.49 407.70,347.00 408.40,346.38 409.10,345.61 409.80,344.71 410.50,343.68 411.20,342.53 411.90,341.27 412.60,339.89 413.30,338.41 414.00,336.84 414.70,335.18 415.40,333.44 416.10,331.63 416.80,329.77 417.50,327.86 418.20,325.91 418.90,323.93 419.60,321.94 420.30,319.94 421.00,317.94 421.70,315.96 422.40,314.01 423.10,312.09 423.80,310.22 424.50,308.40 425.20,306.65 425.90,304.98 426.60,303.40 427.30,301.90 428.00,300.51 428.70,299.23 429.40,298.06 430.10,297.02 430.80,296.10 431.50,295.31 432.20,294.66 432.90,294.16 433.60,293.79 434.30,293.57 435.00,293.50 435.70,293.57 436.40,293.79 437.10,294.14 437.80,294.64 438.50,295.28 439.20,296.05 439.90,296.95 440.60,297.97 441.30,299.11 442.00,300.37 442.70,301.74 443.40,303.20 444.10,304.75 444.80,306.39 445.50,308.11 446.20,309.88 446.90,311.72 447.60,313.60 448.30,315.51 449.00,317.45 449.70,319.41 450.40,321.37 451.10,323.32 451.80,325.26 452.50,327.17 453.20,329.05 453.90,330.87 454.60,332.64 455.30,334.35 456.00,335.97 456.70,337.52 457.40,338.97 458.10,340.32 458.80,341.56 459.50,342.68 460.20,343.69 460.90,344.57 461.60,345.32 462.30,345.94 463.00,346.42 463.70,346.75 464.40,346.95 465.10,347.00 465.80,346.92 466.50,346.72 467.20,346.39 467.90,345.95 468.60,345.38 469.30,344.70 470.00,343.91 470.70,343.02 471.40,342.02 472.10,340.92 472.80,339.73 473.50,338.46 474.20,337.11 474.90,335.69 475.60,334.21 476.30,332.67 477.00,331.09 477.70,329.46 478.40,327.81 479.10,326.14 479.80,324.45 480.50,322.76 481.20,321.08 481.90,319.42 482.60,317.78 483.30,316.17 484.00,314.60 484.70,313.09 485.40,311.63 486.10,310.24 486.80,308.92 487.50,307.68 488.20,306.53 488.90,305.48 489.60,304.52 490.30,303.67 491.00,302.93 491.70,302.30 492.40,301.79 493.10,301.39 493.80,301.12 494.50,300.97 495.20,300.94 495.90,301.05 496.60,301.28 497.30,301.65 498.00,302.15 498.70,302.77 499.40,303.52 500.10,304.38 500.80,305.36 501.50,306.45 502.20,307.64 502.90,308.93 503.60,310.31 504.30,311.77 505.00,313.30 505.70,314.90" fill="none" stroke="#109010" stroke-width="1.2" stroke-linejoin="round" clip-path="url(#ch)"/>
<polyline points="372.00,298.54 372.70,298.98 373.40,299.55 374.10,300.25 374.80,301.07 375.50,302.00 376.20,303.04 376.90,304.20 377.60,305.45 378.30,306.79 379.00,308.22 379.70,309.73 380.40,311.31 381.10,312.95 381.80,314.64 382.50,316.38 383.20,318.15 383.90,319.94 384.60,321.75 385.30,323.57 386.00,325.38 386.70,327.18 387.40,328.96 388.10,330.70 388.80,332.40 389.50,334.05 390.20,335.63 390.90,337.15 391.60,338.59 392.30,339.95 393.00,341.22 393.70,342.38 394.40,343.44 395.10,344.39 395.80,345.22 396.50,345.94 397.20,346.53 397.90,346.99 398.60,347.32 399.30,347.52 400.00,347.58 400.70,347.51 401.40,347.30 402.10,346.95 402.80,346.47 403.50,345.85 404.20,345.10 404.90,344.22 405.60,343.22 406.30,342.10 407.00,340.87 407.70,339.54 408.40,338.11 409.10,336.59 409.80,334.99 410.50,333.32 411.20,331.58 411.90,329.79 412.60,327.96 413.30,326.08 414.00,324.19 414.70,322.28 415.40,320.36 416.10,318.46 416.80,316.56 417.50,314.70 418.20,312.87 418.90,311.08 419.60,309.35 420.30,307.69 421.00,306.10 421.70,304.60 422.40,303.18 423.10,301.86 423.80,300.65 424.50,299.55 425.20,298.56 425.90,297.70 426.60,296.97 427.30,296.37 428.00,295.90 428.70,295.58 429.40,295.38 430.10,295.33 430.80,295.42 431.50,295.65 432.20,296.00 432.90,296.49 433.60,297.11 434.30,297.86 435.00,298.73 435.70,299.71 436.40,300.81 437.10,302.02 437.80,303.32 438.50,304.72 439.20,306.21 439.90,307.77 440.60,309.40 441.30,311.09 442.00,312.84 442.70,314.62 443.40,316.44 444.10,318.28 444.80,320.14 445.50,321.99 446.20,323.84 446.90,325.67 447.60,327.48 448.30,329.25 449.00,330.97 449.70,332.64 450.40,334.24 451.10,335.77 451.80,337.22 452.50,338.58 453.20,339.84 453.90,341.00 454.60,342.06 455.30,342.99 456.00,343.81 456.70,344.50 457.40,345.07 458.10,345.50 458.80,345.80 459.50,345.97 460.20,346.00 460.90,345.90 461.60,345.68 462.30,345.35 463.00,344.90 463.70,344.33 464.40,343.65 465.10,342.87 465.80,341.98 466.50,340.99 467.20,339.90 467.90,338.73 468.60,337.48 469.30,336.15 470.00,334.75 470.70,333.29 471.40,331.78 472.10,330.23 472.80,328.64 473.50,327.02 474.20,325.38 474.90,323.74 475.60,322.09 476.30,320.45 477.00,318.82 477.70,317.22 478.40,315.66 479.10,314.13 479.80,312.66 480.50,311.25 481.20,309.90 481.90,308.62 482.60,307.42 483.30,306.31 484.00,305.30 484.70,304.38 485.40,303.56 486.10,302.85 486.80,302.25 487.50,301.77 488.20,301.40 488.90,301.15 489.60,301.02 490.30,301.01 491.00,301.13 491.70,301.39 492.40,301.77 493.10,302.28 493.80,302.91 494.50,303.67 495.20,304.54 495.90,305.53 496.60,306.62 497.30,307.82 498.00,309.11 498.70,310.48 499.40,311.94 500.10,313.47 500.80,315.07 501.50,316.72 502.20,318.42 502.90,320.16 503.60,321.92 504.30,323.71 505.00,325.50 505.70,327.29" fill="none" stroke="#3a3ab0" stroke-width="1.2" stroke-linejoin="round" clip-path="url(#ch)"/>
<polyline points="372.00,305.23 372.70,306.46 373.40,307.79 374.10,309.20 374.80,310.68 375.50,312.24 376.20,313.85 376.90,315.51 377.60,317.21 378.30,318.95 379.00,320.71 379.70,322.48 380.40,324.25 381.10,326.03 381.80,327.78 382.50,329.51 383.20,331.21 383.90,332.87 384.60,334.47 385.30,336.01 386.00,337.49 386.70,338.89 387.40,340.20 388.10,341.42 388.80,342.55 389.50,343.57 390.20,344.48 390.90,345.28 391.60,345.96 392.30,346.52 393.00,346.95 393.70,347.25 394.40,347.43 395.10,347.48 395.80,347.39 396.50,347.17 397.20,346.81 397.90,346.33 398.60,345.71 399.30,344.97 400.00,344.11 400.70,343.13 401.40,342.04 402.10,340.84 402.80,339.54 403.50,338.15 404.20,336.68 404.90,335.13 405.60,333.51 406.30,331.83 407.00,330.10 407.70,328.32 408.40,326.52 409.10,324.69 409.80,322.85 410.50,321.01 411.20,319.17 411.90,317.35 412.60,315.56 413.30,313.80 414.00,312.09 414.70,310.44 415.40,308.84 416.10,307.32 416.80,305.89 417.50,304.53 418.20,303.28 418.90,302.13 419.60,301.08 420.30,300.15 421.00,299.34 421.70,298.65 422.40,298.09 423.10,297.66 423.80,297.37 424.50,297.20 425.20,297.17 425.90,297.28 426.60,297.51 427.30,297.87 428.00,298.36 428.70,298.98 429.40,299.71 430.10,300.57 430.80,301.53 431.50,302.61 432.20,303.78 432.90,305.06 433.60,306.42 434.30,307.86 435.00,309.37 435.70,310.96 436.40,312.59 437.10,314.28 437.80,316.01 438.50,317.76 439.20,319.54 439.90,321.33 440.60,323.12 441.30,324.90 442.00,326.66 442.70,328.40 443.40,330.09 444.10,331.75 444.80,333.35 445.50,334.88 446.20,336.35 446.90,337.73 447.60,339.03 448.30,340.23 449.00,341.34 449.70,342.33 450.40,343.22 451.10,343.99 451.80,344.64 452.50,345.17 453.20,345.57 453.90,345.84 454.60,345.98 455.30,345.99 456.00,345.88 456.70,345.64 457.40,345.29 458.10,344.82 458.80,344.23 459.50,343.53 460.20,342.73 460.90,341.82 461.60,340.81 462.30,339.70 463.00,338.51 463.70,337.24 464.40,335.90 465.10,334.48 465.80,333.01 466.50,331.48 467.20,329.91 467.90,328.31 468.60,326.68 469.30,325.03 470.00,323.38 470.70,321.72 471.40,320.07 472.10,318.44 472.80,316.84 473.50,315.27 474.20,313.74 474.90,312.27 475.60,310.85 476.30,309.51 477.00,308.24 477.70,307.05 478.40,305.94 479.10,304.93 479.80,304.02 480.50,303.22 481.20,302.52 481.90,301.93 482.60,301.46 483.30,301.11 484.00,300.87 484.70,300.76 485.40,300.77 486.10,300.91 486.80,301.19 487.50,301.59 488.20,302.12 488.90,302.78 489.60,303.55 490.30,304.45 491.00,305.45 491.70,306.57 492.40,307.78 493.10,309.09 493.80,310.49 494.50,311.96 495.20,313.51 495.90,315.12 496.60,316.79 497.30,318.50 498.00,320.26 498.70,322.03 499.40,323.83 500.10,325.63 500.80,327.44 501.50,329.23 502.20,331.00 502.90,332.74 503.60,334.44 504.30,336.09 505.00,337.69 505.70,339.22" fill="none" stroke="#b040ff" stroke-width="1.2" stroke-linejoin="round" clip-path="url(#ch)"/>
<polyline points="372.00,316.23 372.70,317.88 373.40,319.57 374.10,321.28 374.80,323.00 375.50,324.72 376.20,326.43 376.90,328.13 377.60,329.80 378.30,331.44 379.00,333.04 379.70,334.59 380.40,336.07 381.10,337.49 381.80,338.83 382.50,340.10 383.20,341.27 383.90,342.34 384.60,343.32 385.30,344.19 386.00,344.94 386.70,345.59 387.40,346.11 388.10,346.51 388.80,346.79 389.50,346.94 390.20,346.97 390.90,346.87 391.60,346.64 392.30,346.28 393.00,345.80 393.70,345.20 394.40,344.47 395.10,343.63 395.80,342.68 396.50,341.63 397.20,340.47 397.90,339.22 398.60,337.89 399.30,336.47 400.00,334.98 400.70,333.43 401.40,331.82 402.10,330.16 402.80,328.47 403.50,326.74 404.20,324.99 404.90,323.24 405.60,321.48 406.30,319.73 407.00,318.00 407.70,316.30 408.40,314.63 409.10,313.00 409.80,311.43 410.50,309.92 411.20,308.48 411.90,307.12 412.60,305.85 413.30,304.67 414.00,303.58 414.70,302.60 415.40,301.73 416.10,300.97 416.80,300.33 417.50,299.82 418.20,299.42 418.90,299.16 419.60,299.02 420.30,299.01 421.00,299.13 421.70,299.36 422.40,299.72 423.10,300.20 423.80,300.80 424.50,301.51 425.20,302.33 425.90,303.25 426.60,304.28 427.30,305.40 428.00,306.61 428.70,307.90 429.40,309.27 430.10,310.71 430.80,312.21 431.50,313.76 432.20,315.35 432.90,316.98 433.60,318.64 434.30,320.32 435.00,322.00 435.70,323.68 436.40,325.36 437.10,327.02 437.80,328.65 438.50,330.24 439.20,331.79 439.90,333.29 440.60,334.73 441.30,336.10 442.00,337.39 442.70,338.60 443.40,339.72 444.10,340.75 444.80,341.67 445.50,342.49 446.20,343.20 446.90,343.80 447.60,344.28 448.30,344.64 449.00,344.87 449.70,344.99 450.40,344.98 451.10,344.85 451.80,344.61 452.50,344.24 453.20,343.76 453.90,343.17 454.60,342.47 455.30,341.66 456.00,340.75 456.70,339.74 457.40,338.65 458.10,337.46 458.80,336.20 459.50,334.87 460.20,333.47 460.90,332.01 461.60,330.51 462.30,328.96 463.00,327.38 463.70,325.77 464.40,324.15 465.10,322.52 465.80,320.89 466.50,319.27 467.20,317.67 467.90,316.10 468.60,314.56 469.30,313.07 470.00,311.63 470.70,310.24 471.40,308.93 472.10,307.69 472.80,306.53 473.50,305.46 474.20,304.48 474.90,303.60 475.60,302.82 476.30,302.15 477.00,301.59 477.70,301.14 478.40,300.81 479.10,300.60 479.80,300.50 480.50,300.53 481.20,300.69 481.90,300.98 482.60,301.40 483.30,301.95 484.00,302.62 484.70,303.41 485.40,304.32 486.10,305.34 486.80,306.47 487.50,307.69 488.20,309.01 488.90,310.41 489.60,311.90 490.30,313.45 491.00,315.06 491.70,316.73 492.40,318.45 493.10,320.20 493.80,321.97 494.50,323.77 495.20,325.56 495.90,327.36 496.60,329.14 497.30,330.91 498.00,332.64 498.70,334.33 499.40,335.97 500.10,337.55 500.80,339.06 501.50,340.50 502.20,341.86 502.90,343.12 503.60,344.29 504.30,345.35 505.00,346.31 505.70,347.15" fill="none" stroke="#a030a0" stroke-width="1.2" stroke-linejoin="round" clip-path="url(#ch)"/>
<polyline points="372.00,327.12 372.70,328.89 373.40,330.63 374.10,332.32 374.80,333.95 375.50,335.52 376.20,337.01 376.90,338.43 377.60,339.75 378.30,340.98 379.00,342.11 379.70,343.13 380.40,344.03 381.10,344.82 381.80,345.48 382.50,346.02 383.20,346.43 383.90,346.71 384.60,346.85 385.30,346.86 386.00,346.73 386.70,346.47 387.40,346.07 388.10,345.55 388.80,344.89 389.50,344.10 390.20,343.20 390.90,342.18 391.60,341.05 392.30,339.81 393.00,338.47 393.70,337.05 394.40,335.53 395.10,333.95 395.80,332.30 396.50,330.58 397.20,328.82 397.90,327.02 398.60,325.20 399.30,323.35 400.00,321.49 400.70,319.63 401.40,317.78 402.10,315.95 402.80,314.15 403.50,312.39 404.20,310.68 404.90,309.03 405.60,307.44 406.30,305.93 407.00,304.50 407.70,303.17 408.40,301.93 409.10,300.80 409.80,299.78 410.50,298.87 411.20,298.09 411.90,297.43 412.60,296.90 413.30,296.51 414.00,296.24 414.70,296.12 415.40,296.13 416.10,296.27 416.80,296.54 417.50,296.94 418.20,297.46 418.90,298.11 419.60,298.89 420.30,299.77 421.00,300.77 421.70,301.88 422.40,303.08 423.10,304.38 423.80,305.77 424.50,307.24 425.20,308.77 425.90,310.37 426.60,312.03 427.30,313.73 428.00,315.47 428.70,317.23 429.40,319.02 430.10,320.81 430.80,322.60 431.50,324.38 432.20,326.13 432.90,327.86 433.60,329.55 434.30,331.19 435.00,332.78 435.70,334.29 436.40,335.74 437.10,337.10 437.80,338.37 438.50,339.55 439.20,340.63 439.90,341.60 440.60,342.45 441.30,343.19 442.00,343.80 442.70,344.29 443.40,344.66 444.10,344.89 444.80,344.99 445.50,344.97 446.20,344.81 446.90,344.52 447.60,344.10 448.30,343.56 449.00,342.89 449.70,342.11 450.40,341.21 451.10,340.19 451.80,339.08 452.50,337.86 453.20,336.55 453.90,335.16 454.60,333.69 455.30,332.14 456.00,330.54 456.70,328.88 457.40,327.18 458.10,325.44 458.80,323.68 459.50,321.90 460.20,320.11 460.90,318.33 461.60,316.56 462.30,314.81 463.00,313.09 463.70,311.42 464.40,309.79 465.10,308.22 465.80,306.71 466.50,305.29 467.20,303.94 467.90,302.68 468.60,301.52 469.30,300.46 470.00,299.52 470.70,298.68 471.40,297.96 472.10,297.37 472.80,296.89 473.50,296.55 474.20,296.34 474.90,296.25 475.60,296.30 476.30,296.50 477.00,296.83 477.70,297.31 478.40,297.92 479.10,298.67 479.80,299.55 480.50,300.55 481.20,301.68 481.90,302.91 482.60,304.26 483.30,305.70 484.00,307.24 484.70,308.86 485.40,310.56 486.10,312.32 486.80,314.14 487.50,316.01 488.20,317.92 488.90,319.85 489.60,321.80 490.30,323.75 491.00,325.70 491.70,327.64 492.40,329.54 493.10,331.42 493.80,333.25 494.50,335.02 495.20,336.73 495.90,338.36 496.60,339.91 497.30,341.37 498.00,342.73 498.70,343.98 499.40,345.12 500.10,346.14 500.80,347.04 501.50,347.81 502.20,348.44 502.90,348.93 503.60,349.29 504.30,349.51 505.00,349.58 505.70,349.51" fill="none" stroke="#b02020" stroke-width="1.2" stroke-linejoin="round" clip-path="url(#ch)"/>
<polyline points="372.00,338.37 372.70,339.64 373.40,340.82 374.10,341.90 374.80,342.87 375.50,343.73 376.20,344.48 376.90,345.10 377.60,345.61 378.30,345.98 379.00,346.23 379.70,346.35 380.40,346.35 381.10,346.20 381.80,345.93 382.50,345.53 383.20,345.00 383.90,344.35 384.60,343.57 385.30,342.68 386.00,341.67 386.70,340.56 387.40,339.35 388.10,338.04 388.80,336.65 389.50,335.17 390.20,333.63 390.90,332.02 391.60,330.36 392.30,328.64 393.00,326.90 393.70,325.12 394.40,323.33 395.10,321.53 395.80,319.73 396.50,317.94 397.20,316.17 397.90,314.44 398.60,312.74 399.30,311.09 400.00,309.50 400.70,307.97 401.40,306.52 402.10,305.15 402.80,303.87 403.50,302.69 404.20,301.60 404.90,300.63 405.60,299.77 406.30,299.03 407.00,298.41 407.70,297.92 408.40,297.55 409.10,297.32 409.80,297.21 410.50,297.24 411.20,297.39 411.90,297.67 412.60,298.07 413.30,298.59 414.00,299.23 414.70,299.99 415.40,300.85 416.10,301.82 416.80,302.89 417.50,304.06 418.20,305.32 418.90,306.65 419.60,308.07 420.30,309.55 421.00,311.09 421.70,312.68 422.40,314.31 423.10,315.98 423.80,317.67 424.50,319.38 425.20,321.09 425.90,322.81 426.60,324.51 427.30,326.18 428.00,327.83 428.70,329.44 429.40,331.01 430.10,332.51 430.80,333.96 431.50,335.33 432.20,336.62 432.90,337.83 433.60,338.94 434.30,339.95 435.00,340.87 435.70,341.67 436.40,342.36 437.10,342.93 437.80,343.38 438.50,343.71 439.20,343.92 439.90,344.00 440.60,343.95 441.30,343.78 442.00,343.48 442.70,343.05 443.40,342.49 444.10,341.82 444.80,341.03 445.50,340.13 446.20,339.12 446.90,338.00 447.60,336.79 448.30,335.49 449.00,334.11 449.70,332.65 450.40,331.12 451.10,329.53 451.80,327.89 452.50,326.21 453.20,324.50 453.90,322.76 454.60,321.01 455.30,319.25 456.00,317.49 456.70,315.75 457.40,314.03 458.10,312.34 458.80,310.70 459.50,309.10 460.20,307.57 460.90,306.10 461.60,304.70 462.30,303.39 463.00,302.16 463.70,301.04 464.40,300.01 465.10,299.09 465.80,298.28 466.50,297.59 467.20,297.02 467.90,296.58 468.60,296.26 469.30,296.06 470.00,296.00 470.70,296.07 471.40,296.28 472.10,296.64 472.80,297.13 473.50,297.76 474.20,298.52 474.90,299.42 475.60,300.43 476.30,301.57 477.00,302.81 477.70,304.17 478.40,305.62 479.10,307.16 479.80,308.79 480.50,310.49 481.20,312.25 481.90,314.07 482.60,315.93 483.30,317.83 484.00,319.76 484.70,321.70 485.40,323.64 486.10,325.58 486.80,327.50 487.50,329.40 488.20,331.26 488.90,333.07 489.60,334.82 490.30,336.51 491.00,338.12 491.70,339.65 492.40,341.09 493.10,342.43 493.80,343.66 494.50,344.78 495.20,345.78 495.90,346.65 496.60,347.40 497.30,348.01 498.00,348.48 498.70,348.82 499.40,349.01 500.10,349.06 500.80,348.98 501.50,348.78 502.20,348.47 502.90,348.03 503.60,347.48 504.30,346.81 505.00,346.04 505.70,345.16" fill="none" stroke="#a0a000" stroke-width="1.2" stroke-linejoin="round" clip-path="url(#ch)"/>
<polyline points="372.00,345.11 372.70,345.58 373.40,345.93 374.10,346.16 374.80,346.26 375.50,346.23 376.20,346.07 376.90,345.79 377.60,345.38 378.30,344.85 379.00,344.19 379.70,343.42 380.40,342.53 381.10,341.54 381.80,340.44 382.50,339.24 383.20,337.95 383.90,336.58 384.60,335.13 385.30,333.62 386.00,332.04 386.70,330.41 387.40,328.73 388.10,327.03 388.80,325.29 389.50,323.54 390.20,321.79 390.90,320.03 391.60,318.29 392.30,316.57 393.00,314.88 393.70,313.23 394.40,311.63 395.10,310.08 395.80,308.60 396.50,307.20 397.20,305.88 397.90,304.64 398.60,303.50 399.30,302.46 400.00,301.52 400.70,300.70 401.40,300.00 402.10,299.41 402.80,298.95 403.50,298.61 404.20,298.40 404.90,298.31 405.60,298.36 406.30,298.52 407.00,298.81 407.70,299.22 408.40,299.75 409.10,300.39 409.80,301.14 410.50,302.00 411.20,302.96 411.90,304.02 412.60,305.17 413.30,306.41 414.00,307.73 414.70,309.12 415.40,310.57 416.10,312.08 416.80,313.64 417.50,315.24 418.20,316.88 418.90,318.53 419.60,320.20 420.30,321.87 421.00,323.54 421.70,325.20 422.40,326.84 423.10,328.44 423.80,330.01 424.50,331.53 425.20,332.99 425.90,334.39 426.60,335.72 427.30,336.97 428.00,338.13 428.70,339.21 429.40,340.18 430.10,341.06 430.80,341.83 431.50,342.48 432.20,343.03 432.90,343.45 433.60,343.75 434.30,343.94 435.00,344.00 435.70,343.94 436.40,343.74 437.10,343.42 437.80,342.98 438.50,342.41 439.20,341.73 439.90,340.92 440.60,340.01 441.30,338.99 442.00,337.87 442.70,336.65 443.40,335.34 444.10,333.95 444.80,332.49 445.50,330.96 446.20,329.37 446.90,327.74 447.60,326.06 448.30,324.35 449.00,322.62 449.70,320.87 450.40,319.12 451.10,317.37 451.80,315.64 452.50,313.94 453.20,312.27 453.90,310.64 454.60,309.06 455.30,307.54 456.00,306.08 456.70,304.71 457.40,303.41 458.10,302.21 458.80,301.10 459.50,300.09 460.20,299.19 460.90,298.41 461.60,297.74 462.30,297.19 463.00,296.76 463.70,296.46 464.40,296.29 465.10,296.24 465.80,296.33 466.50,296.56 467.20,296.94 467.90,297.45 468.60,298.09 469.30,298.87 470.00,299.77 470.70,300.80 471.40,301.94 472.10,303.19 472.80,304.55 473.50,306.01 474.20,307.55 474.90,309.18 475.60,310.87 476.30,312.63 477.00,314.45 477.70,316.31 478.40,318.20 479.10,320.11 479.80,322.04 480.50,323.97 481.20,325.89 481.90,327.80 482.60,329.68 483.30,331.52 484.00,333.31 484.70,335.04 485.40,336.71 486.10,338.30 486.80,339.81 487.50,341.23 488.20,342.54 488.90,343.75 489.60,344.84 490.30,345.82 491.00,346.67 491.70,347.39 492.40,347.97 493.10,348.42 493.80,348.74 494.50,348.91 495.20,348.94 495.90,348.85 496.60,348.64 497.30,348.31 498.00,347.87 498.70,347.32 499.40,346.65 500.10,345.88 500.80,345.01 501.50,344.05 502.20,342.99 502.90,341.84 503.60,340.62 504.30,339.32 505.00,337.96 505.70,336.54" fill="none" stroke="#3a80d0" stroke-width="1.2" stroke-linejoin="round" clip-path="url(#ch)"/>
<polyline points="372.00,345.69 372.70,345.27 373.40,344.73 374.10,344.08 374.80,343.31 375.50,342.43 376.20,341.44 376.90,340.35 377.60,339.17 378.30,337.91 379.00,336.56 379.70,335.13 380.40,333.65 381.10,332.10 381.80,330.50 382.50,328.86 383.20,327.19 383.90,325.50 384.60,323.79 385.30,322.07 386.00,320.36 386.70,318.67 387.40,316.99 388.10,315.35 388.80,313.74 389.50,312.19 390.20,310.69 390.90,309.26 391.60,307.90 392.30,306.62 393.00,305.42 393.70,304.33 394.40,303.32 395.10,302.43 395.80,301.64 396.50,300.97 397.20,300.42 397.90,299.98 398.60,299.67 399.30,299.48 400.00,299.42 400.70,299.48 401.40,299.66 402.10,299.95 402.80,300.37 403.50,300.90 404.20,301.54 404.90,302.29 405.60,303.14 406.30,304.09 407.00,305.14 407.70,306.28 408.40,307.50 409.10,308.80 409.80,310.16 410.50,311.59 411.20,313.07 411.90,314.60 412.60,316.16 413.30,317.76 414.00,319.38 414.70,321.01 415.40,322.64 416.10,324.27 416.80,325.89 417.50,327.48 418.20,329.04 418.90,330.56 419.60,332.04 420.30,333.46 421.00,334.81 421.70,336.10 422.40,337.30 423.10,338.43 423.80,339.46 424.50,340.40 425.20,341.24 425.90,341.98 426.60,342.60 427.30,343.11 428.00,343.51 428.70,343.79 429.40,343.96 430.10,344.00 430.80,343.92 431.50,343.71 432.20,343.37 432.90,342.91 433.60,342.33 434.30,341.63 435.00,340.82 435.70,339.89 436.40,338.86 437.10,337.73 437.80,336.50 438.50,335.19 439.20,333.80 439.90,332.33 440.60,330.80 441.30,329.22 442.00,327.58 442.70,325.91 443.40,324.20 444.10,322.48 444.80,320.74 445.50,319.00 446.20,317.26 446.90,315.54 447.60,313.85 448.30,312.19 449.00,310.57 449.70,309.01 450.40,307.51 451.10,306.07 451.80,304.71 452.50,303.44 453.20,302.25 453.90,301.16 454.60,300.18 455.30,299.30 456.00,298.53 456.70,297.88 457.40,297.35 458.10,296.95 458.80,296.67 459.50,296.51 460.20,296.48 460.90,296.59 461.60,296.84 462.30,297.23 463.00,297.76 463.70,298.42 464.40,299.21 465.10,300.12 465.80,301.16 466.50,302.31 467.20,303.57 467.90,304.94 468.60,306.39 469.30,307.94 470.00,309.57 470.70,311.26 471.40,313.02 472.10,314.83 472.80,316.68 473.50,318.56 474.20,320.46 474.90,322.38 475.60,324.30 476.30,326.21 477.00,328.10 477.70,329.96 478.40,331.78 479.10,333.55 479.80,335.26 480.50,336.91 481.20,338.48 481.90,339.96 482.60,341.35 483.30,342.65 484.00,343.83 484.70,344.90 485.40,345.85 486.10,346.68 486.80,347.37 487.50,347.94 488.20,348.36 488.90,348.65 489.60,348.80 490.30,348.82 491.00,348.71 491.70,348.49 492.40,348.16 493.10,347.71 493.80,347.15 494.50,346.49 495.20,345.73 495.90,344.87 496.60,343.91 497.30,342.87 498.00,341.74 498.70,340.54 499.40,339.26 500.10,337.93 500.80,336.53 501.50,335.09 502.20,333.60 502.90,332.09 503.60,330.54 504.30,328.98 505.00,327.41 505.70,325.85" fill="none" stroke="#20b0a0" stroke-width="1.2" stroke-linejoin="round" clip-path="url(#ch)"/>
<rect x="372.00" y="289.40" width="40.20" height="90.10" stroke="#bbb" stroke-width="0.6" fill="#fff"/>
<line x1="373.60" y1="298.80" x2="387.40" y2="298.80" stroke="#202020" stroke-width="1.3"/>
<text x="388.80" y="300.82" font-size="5.6" text-anchor="start" fill="#222" stroke="#222" stroke-width="0.157">137.5 °C</text>
<line x1="373.60" y1="305.76" x2="387.40" y2="305.76" stroke="#ff2020" stroke-width="1.3"/>
<text x="388.80" y="307.78" font-size="5.6" text-anchor="start" fill="#222" stroke="#222" stroke-width="0.157">135.0 °C</text>
<line x1="373.60" y1="312.72" x2="387.40" y2="312.72" stroke="#2020ff" stroke-width="1.3"/>
<text x="388.80" y="314.74" font-size="5.6" text-anchor="start" fill="#222" stroke="#222" stroke-width="0.157">130.8 °C</text>
<line x1="373.60" y1="319.68" x2="387.40" y2="319.68" stroke="#ff20ff" stroke-width="1.3"/>
<text x="388.80" y="321.70" font-size="5.6" text-anchor="start" fill="#222" stroke="#222" stroke-width="0.157">125.5 °C</text>
<line x1="373.60" y1="326.64" x2="387.40" y2="326.64" stroke="#109010" stroke-width="1.3"/>
<text x="388.80" y="328.66" font-size="5.6" text-anchor="start" fill="#222" stroke="#222" stroke-width="0.157">120.1 °C</text>
<line x1="373.60" y1="333.60" x2="387.40" y2="333.60" stroke="#3a3ab0" stroke-width="1.3"/>
<text x="388.80" y="335.62" font-size="5.6" text-anchor="start" fill="#222" stroke="#222" stroke-width="0.157">115.0 °C</text>
<line x1="373.60" y1="340.56" x2="387.40" y2="340.56" stroke="#b040ff" stroke-width="1.3"/>
<text x="388.80" y="342.58" font-size="5.6" text-anchor="start" fill="#222" stroke="#222" stroke-width="0.157">110.5 °C</text>
<line x1="373.60" y1="347.52" x2="387.40" y2="347.52" stroke="#a030a0" stroke-width="1.3"/>
<text x="388.80" y="349.54" font-size="5.6" text-anchor="start" fill="#222" stroke="#222" stroke-width="0.157">104.5 °C</text>
<line x1="373.60" y1="354.48" x2="387.40" y2="354.48" stroke="#b02020" stroke-width="1.3"/>
<text x="388.80" y="356.50" font-size="5.6" text-anchor="start" fill="#222" stroke="#222" stroke-width="0.157">100.9 °C</text>
<line x1="373.60" y1="361.44" x2="387.40" y2="361.44" stroke="#a0a000" stroke-width="1.3"/>
<text x="388.80" y="363.46" font-size="5.6" text-anchor="start" fill="#222" stroke="#222" stroke-width="0.157">95.0 °C</text>
<line x1="373.60" y1="368.40" x2="387.40" y2="368.40" stroke="#3a80d0" stroke-width="1.3"/>
<text x="388.80" y="370.42" font-size="5.6" text-anchor="start" fill="#222" stroke="#222" stroke-width="0.157">89.1 °C</text>
<line x1="373.60" y1="375.36" x2="387.40" y2="375.36" stroke="#20b0a0" stroke-width="1.3"/>
<text x="388.80" y="377.38" font-size="5.6" text-anchor="start" fill="#222" stroke="#222" stroke-width="0.157">84.8 °</text>
<rect x="372.50" y="278.50" width="134.00" height="101.00" stroke="#151515" stroke-width="1.15" fill="none"/>
<line x1="369.50" y1="306.00" x2="372.00" y2="306.00" stroke="#111" stroke-width="0.9"/>
<text x="368.90" y="308.95" font-size="8.2" text-anchor="end" fill="#000" stroke="#000" stroke-width="0.230">-50</text>
<line x1="369.50" y1="350.70" x2="372.00" y2="350.70" stroke="#111" stroke-width="0.9"/>
<text x="368.90" y="353.65" font-size="8.2" text-anchor="end" fill="#000" stroke="#000" stroke-width="0.230">-55</text>
<line x1="370.40" y1="328.35" x2="372.00" y2="328.35" stroke="#111" stroke-width="0.8"/>
<line x1="370.40" y1="373.05" x2="372.00" y2="373.05" stroke="#111" stroke-width="0.8"/>
<line x1="394.50" y1="379.50" x2="394.50" y2="382.00" stroke="#111" stroke-width="0.9"/>
<text x="394.50" y="389.48" font-size="8.0" text-anchor="middle" fill="#000" stroke="#000" stroke-width="0.224">1540</text>
<line x1="441.50" y1="379.50" x2="441.50" y2="382.00" stroke="#111" stroke-width="0.9"/>
<text x="441.50" y="389.48" font-size="8.0" text-anchor="middle" fill="#000" stroke="#000" stroke-width="0.224">1550</text>
<line x1="488.50" y1="379.50" x2="488.50" y2="382.00" stroke="#111" stroke-width="0.9"/>
<text x="488.50" y="389.48" font-size="8.0" text-anchor="middle" fill="#000" stroke="#000" stroke-width="0.224">1560</text>
<line x1="418.00" y1="379.50" x2="418.00" y2="381.10" stroke="#111" stroke-width="0.8"/>
<line x1="465.00" y1="379.50" x2="465.00" y2="381.10" stroke="#111" stroke-width="0.8"/>
<text x="434.70" y="398.80" font-size="8.0" text-anchor="middle" fill="#000" stroke="#000" stroke-width="0.224">Wavelength shift (nm)</text>
<g transform="translate(351.40 328.00) rotate(-90.00)"><text x="0" y="2.81" font-size="7.8" text-anchor="middle" fill="#000" stroke="#000" stroke-width="0.218">Reflection Intensity (dB)</text></g>
<text x="373.10" y="287.18" font-size="8.0" text-anchor="start" fill="#000" stroke="#000" stroke-width="0.224">PC_SPFPI</text>
<text x="351.40" y="284.40" font-size="15.0" text-anchor="start" fill="#000" stroke="#000" stroke-width="0.420">(h)</text>
<line x1="502.40" y1="376.50" x2="437.66" y2="348.98" stroke="#2020ff" stroke-width="1.4"/>
<polygon points="433.70,347.30 438.98,347.15 437.26,351.20" fill="#2020ff"/>
<g transform="translate(464.80 368.00) rotate(24.00)"><text x="0" y="2.88" font-size="8.0" text-anchor="middle" fill="#2020ff" stroke="#2020ff" stroke-width="0.224">Blue shift</text></g>
<polyline points="49.70,476.76 50.30,479.29 50.90,481.46 51.50,483.23 52.10,484.57 52.70,485.48 53.30,485.94 53.90,485.94 54.50,485.48 55.10,484.57 55.70,483.23 56.30,481.46 56.90,479.29 57.50,476.76 58.10,473.90 58.70,470.75 59.30,467.35 59.90,463.74 60.50,459.99 61.10,456.14 61.70,452.25 62.30,448.36 62.90,444.54 63.50,440.84 64.10,437.30 64.70,433.97 65.30,430.91 65.90,428.16 66.50,425.74 67.10,423.71 67.70,422.08 68.30,420.87 68.90,420.11 69.50,419.81 70.10,419.96 70.70,420.57 71.30,421.63 71.90,423.12 72.50,425.02 73.10,427.31 73.70,429.96 74.30,432.92 74.90,436.16 75.50,439.64 76.10,443.29 76.70,447.08 77.30,450.95 77.90,454.85 78.50,458.72 79.10,462.51 79.70,466.16 80.30,469.64 80.90,472.88 81.50,475.84 82.10,478.49 82.70,480.78 83.30,482.68 83.90,484.17 84.50,485.23 85.10,485.84 85.70,485.99 86.30,485.69 86.90,484.93 87.50,483.72 88.10,482.09 88.70,480.06 89.30,477.64 89.90,474.89 90.50,471.83 91.10,468.50 91.70,464.96 92.30,461.26 92.90,457.44 93.50,453.55 94.10,449.66 94.70,445.81 95.30,442.06 95.90,438.45 96.50,435.05 97.10,431.90 97.70,429.04 98.30,426.51 98.90,424.34 99.50,422.57 100.10,421.23 100.70,420.32 101.30,419.86 101.90,419.84 102.50,420.14 103.10,420.75 103.70,421.65 104.30,422.83 104.90,424.28 105.50,425.97 106.10,427.88 106.70,429.99 107.30,432.26 107.90,434.66 108.50,437.16 109.10,439.73 109.70,442.33 110.30,444.93 110.90,447.48 111.50,449.95 112.10,452.32 112.70,454.54 113.30,456.58 113.90,458.42 114.50,460.03 115.10,461.39 115.70,462.48 116.30,463.28 116.90,463.79 117.50,464.00 118.10,463.90 118.70,463.54 119.30,462.91 119.90,462.01 120.50,460.87 121.10,459.50 121.70,457.92 122.30,456.14 122.90,454.20 123.50,452.12 124.10,449.93 124.70,447.66 125.30,445.35 125.90,443.01 126.50,440.70 127.10,438.43 127.70,436.24 128.30,434.16 128.90,432.22 129.50,430.44 130.10,428.86 130.70,427.49 131.30,426.35 131.90,425.45 132.50,424.82 133.10,424.46 133.70,424.36 134.30,424.56 134.90,425.04 135.50,425.80 136.10,426.84 136.70,428.13 137.30,429.66 137.90,431.41 138.50,433.35 139.10,435.46 139.70,437.70 140.30,440.05 140.90,442.48 141.50,444.94 142.10,447.41 142.70,449.86 143.30,452.23 143.90,454.52 144.50,456.68 145.10,458.68 145.70,460.49 146.30,462.10 146.90,463.47 147.50,464.59 148.10,465.45 148.70,466.03 149.30,466.32 149.90,466.32 150.50,466.05 151.10,465.52 151.70,464.73 152.30,463.69 152.90,462.42 153.50,460.94 154.10,459.26 154.70,457.41 155.30,455.42 155.90,453.31 156.50,451.11 157.10,448.86 157.70,446.58 158.30,444.30 158.90,442.06 159.50,439.89 160.10,437.81 160.70,435.87 161.30,434.07 161.90,432.46 162.50,431.04 163.10,429.85 163.70,428.89 164.30,428.19 164.90,427.74 165.50,427.56 166.10,427.66 166.70,428.06 167.30,428.74 167.90,429.70 168.50,430.92 169.10,432.40 169.70,434.10 170.30,436.01 170.90,438.10 171.50,440.33 172.10,442.69 172.70,445.13 173.30,447.62 173.90,450.13 174.50,452.62 175.10,455.06 175.70,457.42 176.30,459.65 176.90,461.74 177.50,463.65 178.10,465.35 178.70,466.83 179.30,468.06 179.90,469.02 180.50,469.70 181.10,470.09 181.70,470.19 182.30,470.00 182.90,469.52 183.50,468.78 184.10,467.76" fill="none" stroke="#20c0d0" stroke-width="1.2" stroke-linejoin="round" clip-path="url(#ci)"/>
<polyline points="49.70,453.65 50.30,455.45 50.90,457.23 51.50,458.96 52.10,460.62 52.70,462.18 53.30,463.62 53.90,464.92 54.50,466.07 55.10,467.04 55.70,467.83 56.30,468.42 56.90,468.81 57.50,468.99 58.10,468.95 58.70,468.71 59.30,468.25 59.90,467.59 60.50,466.74 61.10,465.70 61.70,464.50 62.30,463.15 62.90,461.67 63.50,460.08 64.10,458.39 64.70,456.64 65.30,454.85 65.90,453.05 66.50,451.25 67.10,449.48 67.70,447.78 68.30,446.15 68.90,444.63 69.50,443.23 70.10,441.98 70.70,440.89 71.30,439.97 71.90,439.25 72.50,438.72 73.10,438.41 73.70,438.30 74.30,438.41 74.90,438.72 75.50,439.25 76.10,439.97 76.70,440.89 77.30,441.98 77.90,443.23 78.50,444.63 79.10,446.15 79.70,447.78 80.30,449.48 80.90,451.25 81.50,453.05 82.10,454.85 82.70,456.64 83.30,458.39 83.90,460.08 84.50,461.67 85.10,463.15 85.70,464.50 86.30,465.70 86.90,466.74 87.50,467.59 88.10,468.25 88.70,468.71 89.30,468.95 89.90,468.98 90.50,468.70 91.10,468.09 91.70,467.15 92.30,465.91 92.90,464.37 93.50,462.56 94.10,460.50 94.70,458.22 95.30,455.76 95.90,453.14 96.50,450.41 97.10,447.60 97.70,444.75 98.30,441.90 98.90,439.09 99.50,436.36 100.10,433.74 100.70,431.28 101.30,429.00 101.90,426.94 102.50,425.13 103.10,423.59 103.70,422.35 104.30,421.41 104.90,420.80 105.50,420.52 106.10,420.57 106.70,420.93 107.30,421.59 107.90,422.54 108.50,423.78 109.10,425.28 109.70,427.02 110.30,428.98 110.90,431.12 111.50,433.43 112.10,435.87 112.70,438.41 113.30,441.00 113.90,443.62 114.50,446.23 115.10,448.79 115.70,451.26 116.30,453.62 116.90,455.83 117.50,457.85 118.10,459.67 118.70,461.25 119.30,462.57 119.90,463.62 120.50,464.39 121.10,464.85 121.70,465.00 122.30,464.86 122.90,464.46 123.50,463.79 124.10,462.87 124.70,461.71 125.30,460.32 125.90,458.73 126.50,456.96 127.10,455.02 127.70,452.95 128.30,450.78 128.90,448.54 129.50,446.25 130.10,443.95 130.70,441.68 131.30,439.45 131.90,437.31 132.50,435.29 133.10,433.40 133.70,431.69 134.30,430.16 134.90,428.85 135.50,427.76 136.10,426.93 136.70,426.34 137.30,426.03 137.90,425.99 138.50,426.23 139.10,426.76 139.70,427.56 140.30,428.64 140.90,429.97 141.50,431.53 142.10,433.31 142.70,435.28 143.30,437.40 143.90,439.66 144.50,442.02 145.10,444.45 145.70,446.91 146.30,449.37 146.90,451.79 147.50,454.15 148.10,456.41 148.70,458.54 149.30,460.50 149.90,462.28 150.50,463.85 151.10,465.17 151.70,466.25 152.30,467.06 152.90,467.59 153.50,467.83 154.10,467.78 154.70,467.47 155.30,466.90 155.90,466.07 156.50,464.99 157.10,463.69 157.70,462.18 158.30,460.48 158.90,458.61 159.50,456.60 160.10,454.48 160.70,452.28 161.30,450.02 161.90,447.75 162.50,445.48 163.10,443.26 163.70,441.11 164.30,439.06 164.90,437.14 165.50,435.38 166.10,433.80 166.70,432.43 167.30,431.28 167.90,430.37 168.50,429.70 169.10,429.30 169.70,429.17 170.30,429.32 170.90,429.76 171.50,430.48 172.10,431.49 172.70,432.75 173.30,434.26 173.90,436.00 174.50,437.93 175.10,440.04 175.70,442.29 176.30,444.66 176.90,447.10 177.50,449.59 178.10,452.09 178.70,454.57 179.30,457.00 179.90,459.33 180.50,461.53 181.10,463.59 181.70,465.46 182.30,467.12 182.90,468.55 183.50,469.73 184.10,470.64" fill="none" stroke="#d08030" stroke-width="1.2" stroke-linejoin="round" clip-path="url(#ci)"/>
<polyline points="49.70,443.41 50.30,444.75 50.90,446.22 51.50,447.81 52.10,449.49 52.70,451.24 53.30,453.04 53.90,454.85 54.50,456.67 55.10,458.45 55.70,460.18 56.30,461.83 56.90,463.38 57.50,464.81 58.10,466.10 58.70,467.23 59.30,468.18 59.90,468.94 60.50,469.50 61.10,469.85 61.70,470.00 62.30,469.93 62.90,469.64 63.50,469.15 64.10,468.45 64.70,467.56 65.30,466.49 65.90,465.26 66.50,463.87 67.10,462.36 67.70,460.74 68.30,459.03 68.90,457.27 69.50,455.46 70.10,453.64 70.70,451.83 71.30,450.07 71.90,448.36 72.50,446.74 73.10,445.23 73.70,443.84 74.30,442.61 74.90,441.54 75.50,440.65 76.10,439.95 76.70,439.46 77.30,439.17 77.90,439.10 78.50,439.25 79.10,439.60 79.70,440.16 80.30,440.92 80.90,441.87 81.50,443.00 82.10,444.29 82.70,445.72 83.30,447.27 83.90,448.92 84.50,450.65 85.10,452.43 85.70,454.25 86.30,456.06 86.90,457.86 87.50,459.61 88.10,461.29 88.70,462.88 89.30,464.35 89.90,465.69 90.50,466.87 91.10,467.88 91.70,468.71 92.30,469.33 92.90,469.76 93.50,469.97 94.10,469.96 94.70,469.62 95.30,468.95 95.90,467.95 96.50,466.65 97.10,465.05 97.70,463.19 98.30,461.08 98.90,458.75 99.50,456.25 100.10,453.59 100.70,450.83 101.30,447.99 101.90,445.12 102.50,442.26 103.10,439.44 103.70,436.71 104.30,434.10 104.90,431.65 105.50,429.39 106.10,427.36 106.70,425.58 107.30,424.08 107.90,422.88 108.50,421.99 109.10,421.43 109.70,421.20 110.30,421.31 110.90,421.72 111.50,422.44 112.10,423.45 112.70,424.73 113.30,426.28 113.90,428.07 114.50,430.08 115.10,432.27 115.70,434.62 116.30,437.10 116.90,439.66 117.50,442.28 118.10,444.92 118.70,447.54 119.30,450.10 119.90,452.58 120.50,454.93 121.10,457.12 121.70,459.13 122.30,460.92 122.90,462.47 123.50,463.75 124.10,464.76 124.70,465.48 125.30,465.89 125.90,466.00 126.50,465.82 127.10,465.38 127.70,464.68 128.30,463.73 128.90,462.55 129.50,461.15 130.10,459.55 130.70,457.77 131.30,455.85 131.90,453.79 132.50,451.64 133.10,449.42 133.70,447.17 134.30,444.91 134.90,442.67 135.50,440.50 136.10,438.41 136.70,436.43 137.30,434.60 137.90,432.94 138.50,431.47 139.10,430.22 139.70,429.19 140.30,428.41 140.90,427.88 141.50,427.61 142.10,427.62 142.70,427.91 143.30,428.48 143.90,429.33 144.50,430.45 145.10,431.81 145.70,433.41 146.30,435.21 146.90,437.20 147.50,439.35 148.10,441.62 148.70,443.98 149.30,446.41 149.90,448.87 150.50,451.32 151.10,453.73 151.70,456.07 152.30,458.30 152.90,460.40 153.50,462.33 154.10,464.06 154.70,465.59 155.30,466.87 155.90,467.90 156.50,468.66 157.10,469.14 157.70,469.33 158.30,469.24 158.90,468.89 159.50,468.27 160.10,467.40 160.70,466.29 161.30,464.96 161.90,463.42 162.50,461.69 163.10,459.81 163.70,457.78 164.30,455.65 164.90,453.45 165.50,451.19 166.10,448.92 166.70,446.67 167.30,444.46 167.90,442.33 168.50,440.31 169.10,438.42 169.70,436.70 170.30,435.16 170.90,433.82 171.50,432.71 172.10,431.84 172.70,431.23 173.30,430.87 173.90,430.78 174.50,430.98 175.10,431.47 175.70,432.24 176.30,433.28 176.90,434.59 177.50,436.13 178.10,437.90 178.70,439.86 179.30,441.99 179.90,444.25 180.50,446.63 181.10,449.07 181.70,451.56 182.30,454.06 182.90,456.52 183.50,458.92 184.10,461.23" fill="none" stroke="#30d060" stroke-width="1.2" stroke-linejoin="round" clip-path="url(#ci)"/>
<polyline points="49.70,437.51 50.30,437.55 50.90,437.79 51.50,438.25 52.10,438.90 52.70,439.75 53.30,440.77 53.90,441.97 54.50,443.31 55.10,444.78 55.70,446.37 56.30,448.04 56.90,449.77 57.50,451.55 58.10,453.35 58.70,455.14 59.30,456.89 59.90,458.59 60.50,460.20 61.10,461.71 61.70,463.10 62.30,464.35 62.90,465.43 63.50,466.34 64.10,467.06 64.70,467.58 65.30,467.89 65.90,468.00 66.50,467.89 67.10,467.58 67.70,467.06 68.30,466.34 68.90,465.43 69.50,464.35 70.10,463.10 70.70,461.71 71.30,460.20 71.90,458.59 72.50,456.89 73.10,455.14 73.70,453.35 74.30,451.55 74.90,449.77 75.50,448.04 76.10,446.37 76.70,444.78 77.30,443.31 77.90,441.97 78.50,440.77 79.10,439.75 79.70,438.90 80.30,438.25 80.90,437.79 81.50,437.55 82.10,437.51 82.70,437.69 83.30,438.07 83.90,438.66 84.50,439.44 85.10,440.41 85.70,441.55 86.30,442.85 86.90,444.28 87.50,445.83 88.10,447.47 88.70,449.19 89.30,450.96 89.90,452.75 90.50,454.54 91.10,456.31 91.70,458.03 92.30,459.67 92.90,461.22 93.50,462.65 94.10,463.95 94.70,465.09 95.30,466.06 95.90,466.84 96.50,467.43 97.10,467.81 97.70,467.99 98.30,467.93 98.90,467.56 99.50,466.87 100.10,465.88 100.70,464.60 101.30,463.05 101.90,461.25 102.50,459.22 103.10,456.99 103.70,454.60 104.30,452.07 104.90,449.45 105.50,446.76 106.10,444.05 106.70,441.34 107.30,438.69 107.90,436.13 108.50,433.69 109.10,431.40 109.70,429.30 110.30,427.42 110.90,425.78 111.50,424.41 112.10,423.32 112.70,422.54 113.30,422.06 113.90,421.90 114.50,422.06 115.10,422.52 115.70,423.29 116.30,424.36 116.90,425.70 117.50,427.30 118.10,429.14 118.70,431.20 119.30,433.43 119.90,435.82 120.50,438.33 121.10,440.92 121.70,443.56 122.30,446.22 122.90,448.85 123.50,451.42 124.10,453.89 124.70,456.23 125.30,458.41 125.90,460.40 126.50,462.16 127.10,463.68 127.70,464.93 128.30,465.90 128.90,466.57 129.50,466.93 130.10,466.98 130.70,466.75 131.30,466.22 131.90,465.42 132.50,464.36 133.10,463.05 133.70,461.50 134.30,459.74 134.90,457.80 135.50,455.69 136.10,453.46 136.70,451.13 137.30,448.73 137.90,446.30 138.50,443.86 139.10,441.46 139.70,439.13 140.30,436.90 140.90,434.79 141.50,432.85 142.10,431.09 142.70,429.54 143.30,428.23 143.90,427.17 144.50,426.37 145.10,425.84 145.70,425.61 146.30,425.66 146.90,426.02 147.50,426.70 148.10,427.67 148.70,428.92 149.30,430.45 149.90,432.21 150.50,434.21 151.10,436.39 151.70,438.74 152.30,441.22 152.90,443.80 153.50,446.43 154.10,449.10 154.70,451.75 155.30,454.35 155.90,456.86 156.50,459.26 157.10,461.50 157.70,463.56 158.30,465.41 158.90,467.02 159.50,468.36 160.10,469.43 160.70,470.20 161.30,470.67 161.90,470.83 162.50,470.68 163.10,470.25 163.70,469.53 164.30,468.54 164.90,467.29 165.50,465.79 166.10,464.08 166.70,462.16 167.30,460.08 167.90,457.85 168.50,455.51 169.10,453.10 169.70,450.63 170.30,448.16 170.90,445.71 171.50,443.31 172.10,441.01 172.70,438.83 173.30,436.80 173.90,434.95 174.50,433.30 175.10,431.89 175.70,430.72 176.30,429.82 176.90,429.19 177.50,428.85 178.10,428.81 178.70,429.07 179.30,429.65 179.90,430.54 180.50,431.71 181.10,433.17 181.70,434.88 182.30,436.83 182.90,438.98 183.50,441.31 184.10,443.79" fill="none" stroke="#e83080" stroke-width="1.2" stroke-linejoin="round" clip-path="url(#ci)"/>
<polyline points="49.70,443.45 50.30,442.18 50.90,441.06 51.50,440.11 52.10,439.36 52.70,438.80 53.30,438.44 53.90,438.30 54.50,438.37 55.10,438.66 55.70,439.15 56.30,439.84 56.90,440.72 57.50,441.78 58.10,443.01 58.70,444.39 59.30,445.89 59.90,447.50 60.50,449.19 61.10,450.95 61.70,452.75 62.30,454.55 62.90,456.35 63.50,458.11 64.10,459.80 64.70,461.41 65.30,462.91 65.90,464.29 66.50,465.52 67.10,466.58 67.70,467.46 68.30,468.15 68.90,468.64 69.50,468.93 70.10,469.00 70.70,468.86 71.30,468.50 71.90,467.94 72.50,467.19 73.10,466.24 73.70,465.12 74.30,463.85 74.90,462.43 75.50,460.89 76.10,459.24 76.70,457.53 77.30,455.75 77.90,453.95 78.50,452.15 79.10,450.36 79.70,448.62 80.30,446.95 80.90,445.37 81.50,443.91 82.10,442.58 82.70,441.41 83.30,440.41 83.90,439.59 84.50,438.96 85.10,438.54 85.70,438.33 86.30,438.33 86.90,438.54 87.50,438.96 88.10,439.59 88.70,440.41 89.30,441.41 89.90,442.58 90.50,443.91 91.10,445.37 91.70,446.95 92.30,448.62 92.90,450.36 93.50,452.15 94.10,453.95 94.70,455.75 95.30,457.53 95.90,459.24 96.50,460.89 97.10,462.43 97.70,463.85 98.30,465.12 98.90,466.24 99.50,467.19 100.10,467.94 100.70,468.50 101.30,468.86 101.90,469.00 102.50,468.89 103.10,468.46 103.70,467.72 104.30,466.67 104.90,465.34 105.50,463.73 106.10,461.88 106.70,459.80 107.30,457.53 107.90,455.10 108.50,452.53 109.10,449.88 109.70,447.17 110.30,444.43 110.90,441.72 111.50,439.07 112.10,436.50 112.70,434.07 113.30,431.80 113.90,429.72 114.50,427.87 115.10,426.26 115.70,424.93 116.30,423.88 116.90,423.14 117.50,422.71 118.10,422.60 118.70,422.80 119.30,423.28 119.90,424.04 120.50,425.07 121.10,426.36 121.70,427.89 122.30,429.63 122.90,431.57 123.50,433.67 124.10,435.91 124.70,438.25 125.30,440.67 125.90,443.13 126.50,445.59 127.10,448.03 127.70,450.40 128.30,452.68 128.90,454.83 129.50,456.82 130.10,458.63 130.70,460.24 131.30,461.61 131.90,462.72 132.50,463.58 133.10,464.15 133.70,464.44 134.30,464.45 134.90,464.19 135.50,463.68 136.10,462.92 136.70,461.92 137.30,460.70 137.90,459.28 138.50,457.67 139.10,455.89 139.70,453.97 140.30,451.95 140.90,449.83 141.50,447.67 142.10,445.47 142.70,443.29 143.30,441.13 143.90,439.05 144.50,437.05 145.10,435.18 145.70,433.46 146.30,431.91 146.90,430.55 147.50,429.40 148.10,428.48 148.70,427.80 149.30,427.38 149.90,427.20 150.50,427.30 151.10,427.68 151.70,428.33 152.30,429.26 152.90,430.44 153.50,431.87 154.10,433.51 154.70,435.35 155.30,437.36 155.90,439.52 156.50,441.79 157.10,444.15 157.70,446.55 158.30,448.97 158.90,451.37 159.50,453.73 160.10,456.00 160.70,458.16 161.30,460.17 161.90,462.01 162.50,463.65 163.10,465.08 163.70,466.26 164.30,467.19 164.90,467.84 165.50,468.22 166.10,468.32 166.70,468.14 167.30,467.70 167.90,467.01 168.50,466.07 169.10,464.90 169.70,463.51 170.30,461.92 170.90,460.16 171.50,458.24 172.10,456.21 172.70,454.07 173.30,451.87 173.90,449.63 174.50,447.39 175.10,445.18 175.70,443.02 176.30,440.94 176.90,438.98 177.50,437.17 178.10,435.52 178.70,434.06 179.30,432.82 179.90,431.80 180.50,431.02 181.10,430.50 181.70,430.23 182.30,430.24 182.90,430.53 183.50,431.10 184.10,431.96" fill="none" stroke="#30d8d8" stroke-width="1.2" stroke-linejoin="round" clip-path="url(#ci)"/>
<polyline points="49.70,455.76 50.30,453.94 50.90,452.13 51.50,450.36 52.10,448.64 52.70,447.00 53.30,445.47 53.90,444.06 54.50,442.80 55.10,441.70 55.70,440.78 56.30,440.05 56.90,439.53 57.50,439.21 58.10,439.10 58.70,439.21 59.30,439.53 59.90,440.05 60.50,440.78 61.10,441.70 61.70,442.80 62.30,444.06 62.90,445.47 63.50,447.00 64.10,448.64 64.70,450.36 65.30,452.13 65.90,453.94 66.50,455.76 67.10,457.56 67.70,459.32 68.30,461.02 68.90,462.62 69.50,464.12 70.10,465.47 70.70,466.68 71.30,467.72 71.90,468.58 72.50,469.24 73.10,469.70 73.70,469.95 74.30,469.99 74.90,469.81 75.50,469.42 76.10,468.82 76.70,468.03 77.30,467.05 77.90,465.90 78.50,464.58 79.10,463.13 79.70,461.56 80.30,459.90 80.90,458.16 81.50,456.37 82.10,454.55 82.70,452.73 83.30,450.94 83.90,449.20 84.50,447.54 85.10,445.97 85.70,444.52 86.30,443.20 86.90,442.05 87.50,441.07 88.10,440.28 88.70,439.68 89.30,439.29 89.90,439.11 90.50,439.15 91.10,439.40 91.70,439.86 92.30,440.52 92.90,441.38 93.50,442.42 94.10,443.63 94.70,444.98 95.30,446.48 95.90,448.08 96.50,449.78 97.10,451.54 97.70,453.34 98.30,455.16 98.90,456.97 99.50,458.74 100.10,460.46 100.70,462.10 101.30,463.63 101.90,465.04 102.50,466.30 103.10,467.40 103.70,468.32 104.30,469.05 104.90,469.57 105.50,469.89 106.10,470.00 106.70,469.84 107.30,469.35 107.90,468.56 108.50,467.46 109.10,466.06 109.70,464.41 110.30,462.50 110.90,460.37 111.50,458.06 112.10,455.59 112.70,452.99 113.30,450.30 113.90,447.57 114.50,444.82 115.10,442.09 115.70,439.43 116.30,436.87 116.90,434.45 117.50,432.19 118.10,430.14 118.70,428.31 119.30,426.74 119.90,425.44 120.50,424.44 121.10,423.75 121.70,423.37 122.30,423.32 122.90,423.56 123.50,424.10 124.10,424.92 124.70,426.02 125.30,427.37 125.90,428.97 126.50,430.78 127.10,432.78 127.70,434.95 128.30,437.25 128.90,439.66 129.50,442.13 130.10,444.64 130.70,447.14 131.30,449.62 131.90,452.02 132.50,454.32 133.10,456.49 133.70,458.49 134.30,460.30 134.90,461.90 135.50,463.25 136.10,464.35 136.70,465.17 137.30,465.71 137.90,465.96 138.50,465.91 139.10,465.61 139.70,465.06 140.30,464.27 140.90,463.23 141.50,461.98 142.10,460.53 142.70,458.89 143.30,457.10 143.90,455.17 144.50,453.13 145.10,451.02 145.70,448.85 146.30,446.66 146.90,444.48 147.50,442.35 148.10,440.28 148.70,438.31 149.30,436.47 149.90,434.78 150.50,433.26 151.10,431.94 151.70,430.84 152.30,429.96 152.90,429.32 153.50,428.94 154.10,428.81 154.70,428.95 155.30,429.38 155.90,430.08 156.50,431.04 157.10,432.27 157.70,433.72 158.30,435.39 158.90,437.26 159.50,439.29 160.10,441.47 160.70,443.75 161.30,446.10 161.90,448.51 162.50,450.92 163.10,453.31 163.70,455.65 164.30,457.89 164.90,460.02 165.50,462.00 166.10,463.81 166.70,465.41 167.30,466.79 167.90,467.93 168.50,468.81 169.10,469.42 169.70,469.75 170.30,469.80 170.90,469.58 171.50,469.09 172.10,468.35 172.70,467.36 173.30,466.14 173.90,464.71 174.50,463.08 175.10,461.28 175.70,459.33 176.30,457.25 176.90,455.09 177.50,452.86 178.10,450.61 178.70,448.35 179.30,446.12 179.90,443.96 180.50,441.89 181.10,439.94 181.70,438.13 182.30,436.50 182.90,435.07 183.50,433.85 184.10,432.86" fill="none" stroke="#6060b0" stroke-width="1.2" stroke-linejoin="round" clip-path="url(#ci)"/>
<polyline points="49.70,464.54 50.30,463.32 50.90,461.95 51.50,460.46 52.10,458.86 52.70,457.18 53.30,455.43 53.90,453.65 54.50,451.85 55.10,450.07 55.70,448.32 56.30,446.64 56.90,445.04 57.50,443.55 58.10,442.18 58.70,440.96 59.30,439.91 59.90,439.03 60.50,438.34 61.10,437.85 61.70,437.57 62.30,437.50 62.90,437.64 63.50,437.99 64.10,438.55 64.70,439.30 65.30,440.24 65.90,441.35 66.50,442.62 67.10,444.03 67.70,445.56 68.30,447.19 68.90,448.90 69.50,450.66 70.10,452.45 70.70,454.24 71.30,456.02 71.90,457.75 72.50,459.41 73.10,460.97 73.70,462.42 74.30,463.74 74.90,464.91 75.50,465.91 76.10,466.72 76.70,467.34 77.30,467.76 77.90,467.97 78.50,467.97 79.10,467.76 79.70,467.34 80.30,466.72 80.90,465.91 81.50,464.91 82.10,463.74 82.70,462.42 83.30,460.97 83.90,459.41 84.50,457.75 85.10,456.02 85.70,454.24 86.30,452.45 86.90,450.66 87.50,448.90 88.10,447.19 88.70,445.56 89.30,444.03 89.90,442.62 90.50,441.35 91.10,440.24 91.70,439.30 92.30,438.55 92.90,437.99 93.50,437.64 94.10,437.50 94.70,437.57 95.30,437.85 95.90,438.34 96.50,439.03 97.10,439.91 97.70,440.96 98.30,442.18 98.90,443.55 99.50,445.04 100.10,446.64 100.70,448.32 101.30,450.07 101.90,451.85 102.50,453.65 103.10,455.43 103.70,457.18 104.30,458.86 104.90,460.46 105.50,461.95 106.10,463.32 106.70,464.54 107.30,465.59 107.90,466.47 108.50,467.16 109.10,467.65 109.70,467.93 110.30,468.00 110.90,467.79 111.50,467.29 112.10,466.49 112.70,465.40 113.30,464.05 113.90,462.45 114.50,460.61 115.10,458.58 115.70,456.37 116.30,454.02 116.90,451.55 117.50,449.01 118.10,446.43 118.70,443.84 119.30,441.29 119.90,438.79 120.50,436.40 121.10,434.14 121.70,432.04 122.30,430.14 122.90,428.46 123.50,427.02 124.10,425.84 124.70,424.95 125.30,424.34 125.90,424.04 126.50,424.04 127.10,424.34 127.70,424.94 128.30,425.82 128.90,426.98 129.50,428.40 130.10,430.07 130.70,431.95 131.30,434.02 131.90,436.25 132.50,438.61 133.10,441.07 133.70,443.60 134.30,446.16 134.90,448.71 135.50,451.22 136.10,453.65 136.70,455.98 137.30,458.16 137.90,460.17 138.50,461.98 139.10,463.56 139.70,464.90 140.30,465.97 140.90,466.76 141.50,467.26 142.10,467.46 142.70,467.37 143.30,466.99 143.90,466.34 144.50,465.43 145.10,464.26 145.70,462.85 146.30,461.23 146.90,459.41 147.50,457.42 148.10,455.29 148.70,453.04 149.30,450.71 149.90,448.34 150.50,445.95 151.10,443.57 151.70,441.24 152.30,439.00 152.90,436.87 153.50,434.88 154.10,433.06 154.70,431.43 155.30,430.03 155.90,428.86 156.50,427.94 157.10,427.29 157.70,426.92 158.30,426.82 158.90,427.03 159.50,427.54 160.10,428.35 160.70,429.45 161.30,430.81 161.90,432.44 162.50,434.29 163.10,436.34 163.70,438.58 164.30,440.96 164.90,443.45 165.50,446.01 166.10,448.63 166.70,451.24 167.30,453.83 167.90,456.35 168.50,458.77 169.10,461.05 169.70,463.17 170.30,465.10 170.90,466.80 171.50,468.25 172.10,469.44 172.70,470.35 173.30,470.96 173.90,471.27 174.50,471.27 175.10,470.97 175.70,470.39 176.30,469.53 176.90,468.40 177.50,467.02 178.10,465.40 178.70,463.57 179.30,461.56 179.90,459.38 180.50,457.08 181.10,454.69 181.70,452.23 182.30,449.74 182.90,447.25 183.50,444.81 184.10,442.44" fill="none" stroke="#b0b020" stroke-width="1.2" stroke-linejoin="round" clip-path="url(#ci)"/>
<polyline points="49.70,468.89 50.30,469.00 50.90,468.89 51.50,468.58 52.10,468.05 52.70,467.33 53.30,466.41 53.90,465.32 54.50,464.07 55.10,462.67 55.70,461.15 56.30,459.52 56.90,457.82 57.50,456.05 58.10,454.25 58.70,452.45 59.30,450.66 59.90,448.91 60.50,447.22 61.10,445.63 61.70,444.15 62.30,442.80 62.90,441.60 63.50,440.56 64.10,439.71 64.70,439.05 65.30,438.59 65.90,438.35 66.50,438.31 67.10,438.49 67.70,438.88 68.30,439.47 68.90,440.26 69.50,441.23 70.10,442.38 70.70,443.68 71.30,445.12 71.90,446.68 72.50,448.34 73.10,450.07 73.70,451.85 74.30,453.65 74.90,455.45 75.50,457.23 76.10,458.96 76.70,460.62 77.30,462.18 77.90,463.62 78.50,464.92 79.10,466.07 79.70,467.04 80.30,467.83 80.90,468.42 81.50,468.81 82.10,468.99 82.70,468.95 83.30,468.71 83.90,468.25 84.50,467.59 85.10,466.74 85.70,465.70 86.30,464.50 86.90,463.15 87.50,461.67 88.10,460.08 88.70,458.39 89.30,456.64 89.90,454.85 90.50,453.05 91.10,451.25 91.70,449.48 92.30,447.78 92.90,446.15 93.50,444.63 94.10,443.23 94.70,441.98 95.30,440.89 95.90,439.97 96.50,439.25 97.10,438.72 97.70,438.41 98.30,438.30 98.90,438.41 99.50,438.72 100.10,439.25 100.70,439.97 101.30,440.89 101.90,441.98 102.50,443.23 103.10,444.63 103.70,446.15 104.30,447.78 104.90,449.48 105.50,451.25 106.10,453.05 106.70,454.85 107.30,456.64 107.90,458.39 108.50,460.08 109.10,461.67 109.70,463.15 110.30,464.50 110.90,465.70 111.50,466.74 112.10,467.59 112.70,468.25 113.30,468.71 113.90,468.95 114.50,468.98 115.10,468.73 115.70,468.17 116.30,467.31 116.90,466.18 117.50,464.77 118.10,463.12 118.70,461.24 119.30,459.16 119.90,456.91 120.50,454.52 121.10,452.02 121.70,449.45 122.30,446.85 122.90,444.25 123.50,441.68 124.10,439.18 124.70,436.79 125.30,434.54 125.90,432.46 126.50,430.58 127.10,428.93 127.70,427.52 128.30,426.39 128.90,425.53 129.50,424.97 130.10,424.72 130.70,424.77 131.30,425.13 131.90,425.78 132.50,426.73 133.10,427.96 133.70,429.45 134.30,431.18 134.90,433.13 135.50,435.27 136.10,437.56 136.70,439.99 137.30,442.51 137.90,445.09 138.50,447.70 139.10,450.29 139.70,452.83 140.30,455.30 140.90,457.64 141.50,459.83 142.10,461.85 142.70,463.65 143.30,465.23 143.90,466.54 144.50,467.59 145.10,468.34 145.70,468.80 146.30,468.96 146.90,468.82 147.50,468.40 148.10,467.70 148.70,466.75 149.30,465.54 149.90,464.10 150.50,462.45 151.10,460.60 151.70,458.59 152.30,456.45 152.90,454.19 153.50,451.86 154.10,449.49 154.70,447.10 155.30,444.74 155.90,442.43 156.50,440.21 157.10,438.11 157.70,436.15 158.30,434.36 158.90,432.78 159.50,431.42 160.10,430.29 160.70,429.42 161.30,428.82 161.90,428.49 162.50,428.45 163.10,428.70 163.70,429.26 164.30,430.12 164.90,431.26 165.50,432.67 166.10,434.32 166.70,436.21 167.30,438.29 167.90,440.54 168.50,442.94 169.10,445.43 169.70,448.01 170.30,450.61 170.90,453.22 171.50,455.79 172.10,458.29 172.70,460.68 173.30,462.94 173.90,465.02 174.50,466.90 175.10,468.56 175.70,469.97 176.30,471.11 176.90,471.96 177.50,472.52 178.10,472.78 178.70,472.73 179.30,472.39 179.90,471.75 180.50,470.84 181.10,469.66 181.70,468.22 182.30,466.56 182.90,464.68 183.50,462.63 184.10,460.41" fill="none" stroke="#a0a0a0" stroke-width="1.2" stroke-linejoin="round" clip-path="url(#ci)"/>
<polyline points="49.70,463.87 50.30,465.26 50.90,466.49 51.50,467.56 52.10,468.45 52.70,469.15 53.30,469.64 53.90,469.93 54.50,470.00 55.10,469.85 55.70,469.50 56.30,468.94 56.90,468.18 57.50,467.23 58.10,466.10 58.70,464.81 59.30,463.38 59.90,461.83 60.50,460.18 61.10,458.45 61.70,456.67 62.30,454.85 62.90,453.04 63.50,451.24 64.10,449.49 64.70,447.81 65.30,446.22 65.90,444.75 66.50,443.41 67.10,442.23 67.70,441.22 68.30,440.39 68.90,439.77 69.50,439.34 70.10,439.13 70.70,439.13 71.30,439.34 71.90,439.77 72.50,440.39 73.10,441.22 73.70,442.23 74.30,443.41 74.90,444.75 75.50,446.22 76.10,447.81 76.70,449.49 77.30,451.24 77.90,453.04 78.50,454.85 79.10,456.67 79.70,458.45 80.30,460.18 80.90,461.83 81.50,463.38 82.10,464.81 82.70,466.10 83.30,467.23 83.90,468.18 84.50,468.94 85.10,469.50 85.70,469.85 86.30,470.00 86.90,469.93 87.50,469.64 88.10,469.15 88.70,468.45 89.30,467.56 89.90,466.49 90.50,465.26 91.10,463.87 91.70,462.36 92.30,460.74 92.90,459.03 93.50,457.27 94.10,455.46 94.70,453.64 95.30,451.83 95.90,450.07 96.50,448.36 97.10,446.74 97.70,445.23 98.30,443.84 98.90,442.61 99.50,441.54 100.10,440.65 100.70,439.95 101.30,439.46 101.90,439.17 102.50,439.10 103.10,439.25 103.70,439.60 104.30,440.16 104.90,440.92 105.50,441.87 106.10,443.00 106.70,444.29 107.30,445.72 107.90,447.27 108.50,448.92 109.10,450.65 109.70,452.43 110.30,454.25 110.90,456.06 111.50,457.86 112.10,459.61 112.70,461.29 113.30,462.88 113.90,464.35 114.50,465.69 115.10,466.87 115.70,467.88 116.30,468.71 116.90,469.33 117.50,469.76 118.10,469.97 118.70,469.96 119.30,469.65 119.90,469.04 120.50,468.13 121.10,466.94 121.70,465.48 122.30,463.78 122.90,461.85 123.50,459.72 124.10,457.43 124.70,455.01 125.30,452.48 125.90,449.89 126.50,447.26 127.10,444.64 127.70,442.07 128.30,439.57 128.90,437.19 129.50,434.95 130.10,432.89 130.70,431.03 131.30,429.41 131.90,428.03 132.50,426.93 133.10,426.12 133.70,425.61 134.30,425.40 134.90,425.50 135.50,425.88 136.10,426.53 136.70,427.46 137.30,428.64 137.90,430.06 138.50,431.70 139.10,433.54 139.70,435.55 140.30,437.70 140.90,439.97 141.50,442.32 142.10,444.72 142.70,447.13 143.30,449.53 143.90,451.88 144.50,454.15 145.10,456.30 145.70,458.31 146.30,460.15 146.90,461.79 147.50,463.21 148.10,464.39 148.70,465.32 149.30,465.97 149.90,466.35 150.50,466.44 151.10,466.28 151.70,465.86 152.30,465.20 152.90,464.30 153.50,463.18 154.10,461.85 154.70,460.34 155.30,458.65 155.90,456.83 156.50,454.88 157.10,452.84 157.70,450.74 158.30,448.60 158.90,446.46 159.50,444.34 160.10,442.28 160.70,440.30 161.30,438.43 161.90,436.70 162.50,435.12 163.10,433.73 163.70,432.54 164.30,431.57 164.90,430.82 165.50,430.32 166.10,430.07 166.70,430.07 167.30,430.35 167.90,430.91 168.50,431.73 169.10,432.80 169.70,434.12 170.30,435.66 170.90,437.40 171.50,439.31 172.10,441.38 172.70,443.57 173.30,445.85 173.90,448.19 174.50,450.56 175.10,452.92 175.70,455.25 176.30,457.50 176.90,459.65 177.50,461.67 178.10,463.53 178.70,465.21 179.30,466.67 179.90,467.91 180.50,468.90 181.10,469.64 181.70,470.10 182.30,470.28 182.90,470.19 183.50,469.84 184.10,469.21" fill="none" stroke="#d08080" stroke-width="1.2" stroke-linejoin="round" clip-path="url(#ci)"/>
<polyline points="49.70,450.36 50.30,452.15 50.90,453.95 51.50,455.73 52.10,457.46 52.70,459.13 53.30,460.72 53.90,462.19 54.50,463.53 55.10,464.73 55.70,465.75 56.30,466.60 56.90,467.25 57.50,467.71 58.10,467.95 58.70,467.99 59.30,467.81 59.90,467.43 60.50,466.84 61.10,466.06 61.70,465.09 62.30,463.95 62.90,462.65 63.50,461.22 64.10,459.67 64.70,458.03 65.30,456.31 65.90,454.54 66.50,452.75 67.10,450.96 67.70,449.19 68.30,447.47 68.90,445.83 69.50,444.28 70.10,442.85 70.70,441.55 71.30,440.41 71.90,439.44 72.50,438.66 73.10,438.07 73.70,437.69 74.30,437.51 74.90,437.55 75.50,437.79 76.10,438.25 76.70,438.90 77.30,439.75 77.90,440.77 78.50,441.97 79.10,443.31 79.70,444.78 80.30,446.37 80.90,448.04 81.50,449.77 82.10,451.55 82.70,453.35 83.30,455.14 83.90,456.89 84.50,458.59 85.10,460.20 85.70,461.71 86.30,463.10 86.90,464.35 87.50,465.43 88.10,466.34 88.70,467.06 89.30,467.58 89.90,467.89 90.50,468.00 91.10,467.89 91.70,467.58 92.30,467.06 92.90,466.34 93.50,465.43 94.10,464.35 94.70,463.10 95.30,461.71 95.90,460.20 96.50,458.59 97.10,456.89 97.70,455.14 98.30,453.35 98.90,451.55 99.50,449.77 100.10,448.04 100.70,446.37 101.30,444.78 101.90,443.31 102.50,441.97 103.10,440.77 103.70,439.75 104.30,438.90 104.90,438.25 105.50,437.79 106.10,437.55 106.70,437.51 107.30,437.69 107.90,438.07 108.50,438.66 109.10,439.44 109.70,440.41 110.30,441.55 110.90,442.85 111.50,444.28 112.10,445.83 112.70,447.47 113.30,449.19 113.90,450.96 114.50,452.75 115.10,454.54 115.70,456.31 116.30,458.03 116.90,459.67 117.50,461.22 118.10,462.65 118.70,463.95 119.30,465.09 119.90,466.06 120.50,466.84 121.10,467.43 121.70,467.81 122.30,467.99 122.90,467.94 123.50,467.60 124.10,466.97 124.70,466.08 125.30,464.91 125.90,463.50 126.50,461.86 127.10,460.02 127.70,458.00 128.30,455.82 128.90,453.52 129.50,451.14 130.10,448.69 130.70,446.23 131.30,443.77 131.90,441.36 132.50,439.03 133.10,436.81 133.70,434.74 134.30,432.83 134.90,431.12 135.50,429.63 136.10,428.38 136.70,427.39 137.30,426.68 137.90,426.25 138.50,426.10 139.10,426.25 139.70,426.68 140.30,427.39 140.90,428.38 141.50,429.63 142.10,431.11 142.70,432.82 143.30,434.72 143.90,436.80 144.50,439.01 145.10,441.34 145.70,443.75 146.30,446.20 146.90,448.66 147.50,451.10 148.10,453.48 148.70,455.78 149.30,457.95 149.90,459.97 150.50,461.81 151.10,463.45 151.70,464.86 152.30,466.02 152.90,466.92 153.50,467.54 154.10,467.88 154.70,467.92 155.30,467.69 155.90,467.19 156.50,466.42 157.10,465.40 157.70,464.13 158.30,462.64 158.90,460.95 159.50,459.08 160.10,457.05 160.70,454.90 161.30,452.65 161.90,450.34 162.50,448.00 163.10,445.65 163.70,443.34 164.30,441.09 164.90,438.94 165.50,436.91 166.10,435.04 166.70,433.35 167.30,431.86 167.90,430.59 168.50,429.57 169.10,428.80 169.70,428.30 170.30,428.07 170.90,428.12 171.50,428.47 172.10,429.12 172.70,430.06 173.30,431.27 173.90,432.74 174.50,434.45 175.10,436.38 175.70,438.49 176.30,440.76 176.90,443.16 177.50,445.65 178.10,448.20 178.70,450.77 179.30,453.34 179.90,455.85 180.50,458.28 181.10,460.60 181.70,462.77 182.30,464.76 182.90,466.54 183.50,468.10 184.10,469.40" fill="none" stroke="#40b070" stroke-width="1.2" stroke-linejoin="round" clip-path="url(#ci)"/>
<polyline points="49.70,441.06 50.30,442.18 50.90,443.45 51.50,444.87 52.10,446.41 52.70,448.06 53.30,449.77 53.90,451.55 54.50,453.35 55.10,455.15 55.70,456.94 56.30,458.68 56.90,460.35 57.50,461.93 58.10,463.39 58.70,464.72 59.30,465.89 59.90,466.89 60.50,467.71 61.10,468.34 61.70,468.76 62.30,468.97 62.90,468.97 63.50,468.76 64.10,468.34 64.70,467.71 65.30,466.89 65.90,465.89 66.50,464.72 67.10,463.39 67.70,461.93 68.30,460.35 68.90,458.68 69.50,456.94 70.10,455.15 70.70,453.35 71.30,451.55 71.90,449.77 72.50,448.06 73.10,446.41 73.70,444.87 74.30,443.45 74.90,442.18 75.50,441.06 76.10,440.11 76.70,439.36 77.30,438.80 77.90,438.44 78.50,438.30 79.10,438.37 79.70,438.66 80.30,439.15 80.90,439.84 81.50,440.72 82.10,441.78 82.70,443.01 83.30,444.39 83.90,445.89 84.50,447.50 85.10,449.19 85.70,450.95 86.30,452.75 86.90,454.55 87.50,456.35 88.10,458.11 88.70,459.80 89.30,461.41 89.90,462.91 90.50,464.29 91.10,465.52 91.70,466.58 92.30,467.46 92.90,468.15 93.50,468.64 94.10,468.93 94.70,469.00 95.30,468.86 95.90,468.50 96.50,467.94 97.10,467.19 97.70,466.24 98.30,465.12 98.90,463.85 99.50,462.43 100.10,460.89 100.70,459.24 101.30,457.53 101.90,455.75 102.50,453.95 103.10,452.15 103.70,450.36 104.30,448.62 104.90,446.95 105.50,445.37 106.10,443.91 106.70,442.58 107.30,441.41 107.90,440.41 108.50,439.59 109.10,438.96 109.70,438.54 110.30,438.33 110.90,438.33 111.50,438.54 112.10,438.96 112.70,439.59 113.30,440.41 113.90,441.41 114.50,442.58 115.10,443.91 115.70,445.37 116.30,446.95 116.90,448.62 117.50,450.36 118.10,452.15 118.70,453.95 119.30,455.75 119.90,457.53 120.50,459.24 121.10,460.89 121.70,462.43 122.30,463.85 122.90,465.12 123.50,466.24 124.10,467.19 124.70,467.94 125.30,468.50 125.90,468.86 126.50,469.00 127.10,468.90 127.70,468.51 128.30,467.84 128.90,466.88 129.50,465.67 130.10,464.21 130.70,462.52 131.30,460.64 131.90,458.57 132.50,456.36 133.10,454.03 133.70,451.61 134.30,449.14 134.90,446.66 135.50,444.19 136.10,441.77 136.70,439.44 137.30,437.23 137.90,435.16 138.50,433.28 139.10,431.59 139.70,430.13 140.30,428.92 140.90,427.96 141.50,427.29 142.10,426.90 142.70,426.80 143.30,427.00 143.90,427.49 144.50,428.27 145.10,429.32 145.70,430.63 146.30,432.18 146.90,433.96 147.50,435.93 148.10,438.07 148.70,440.35 149.30,442.73 149.90,445.20 150.50,447.70 151.10,450.21 151.70,452.68 152.30,455.10 152.90,457.42 153.50,459.61 154.10,461.64 154.70,463.48 155.30,465.11 155.90,466.51 156.50,467.65 157.10,468.51 157.70,469.10 158.30,469.40 158.90,469.40 159.50,469.12 160.10,468.58 160.70,467.77 161.30,466.70 161.90,465.40 162.50,463.88 163.10,462.16 163.70,460.27 164.30,458.22 164.90,456.06 165.50,453.81 166.10,451.50 166.70,449.16 167.30,446.82 167.90,444.52 168.50,442.30 169.10,440.17 169.70,438.18 170.30,436.34 170.90,434.68 171.50,433.23 172.10,432.01 172.70,431.03 173.30,430.30 173.90,429.85 174.50,429.66 175.10,429.77 175.70,430.17 176.30,430.86 176.90,431.85 177.50,433.10 178.10,434.61 178.70,436.35 179.30,438.30 179.90,440.44 180.50,442.73 181.10,445.14 181.70,447.63 182.30,450.18 182.90,452.75 183.50,455.30 184.10,457.80" fill="none" stroke="#30a0e0" stroke-width="1.2" stroke-linejoin="round" clip-path="url(#ci)"/>
<rect x="49.70" y="428.80" width="37.30" height="89.20" stroke="#bbb" stroke-width="0.6" fill="#fff"/>
<line x1="52.20" y1="438.00" x2="65.30" y2="438.00" stroke="#20c0d0" stroke-width="1.4"/>
<text x="66.60" y="440.09" font-size="5.8" text-anchor="start" fill="#222" stroke="#222" stroke-width="0.162">84.8 °C</text>
<line x1="52.20" y1="445.64" x2="65.30" y2="445.64" stroke="#d08030" stroke-width="1.4"/>
<text x="66.60" y="447.73" font-size="5.8" text-anchor="start" fill="#222" stroke="#222" stroke-width="0.162">80.0 °C</text>
<line x1="52.20" y1="453.28" x2="65.30" y2="453.28" stroke="#30d060" stroke-width="1.4"/>
<text x="66.60" y="455.37" font-size="5.8" text-anchor="start" fill="#222" stroke="#222" stroke-width="0.162">75.5 °C</text>
<line x1="52.20" y1="460.92" x2="65.30" y2="460.92" stroke="#e83080" stroke-width="1.4"/>
<text x="66.60" y="463.01" font-size="5.8" text-anchor="start" fill="#222" stroke="#222" stroke-width="0.162">70.0 °C</text>
<line x1="52.20" y1="468.56" x2="65.30" y2="468.56" stroke="#30d8d8" stroke-width="1.4"/>
<text x="66.60" y="470.65" font-size="5.8" text-anchor="start" fill="#222" stroke="#222" stroke-width="0.162">65.2 °C</text>
<line x1="52.20" y1="476.20" x2="65.30" y2="476.20" stroke="#6060b0" stroke-width="1.4"/>
<text x="66.60" y="478.29" font-size="5.8" text-anchor="start" fill="#222" stroke="#222" stroke-width="0.162">55.0 °C</text>
<line x1="52.20" y1="483.84" x2="65.30" y2="483.84" stroke="#b0b020" stroke-width="1.4"/>
<text x="66.60" y="485.93" font-size="5.8" text-anchor="start" fill="#222" stroke="#222" stroke-width="0.162">49.6 °C</text>
<line x1="52.20" y1="491.48" x2="65.30" y2="491.48" stroke="#a0a0a0" stroke-width="1.4"/>
<text x="66.60" y="493.57" font-size="5.8" text-anchor="start" fill="#222" stroke="#222" stroke-width="0.162">43.0 °C</text>
<line x1="52.20" y1="499.12" x2="65.30" y2="499.12" stroke="#d08080" stroke-width="1.4"/>
<text x="66.60" y="501.21" font-size="5.8" text-anchor="start" fill="#222" stroke="#222" stroke-width="0.162">38.5 °C</text>
<line x1="52.20" y1="506.76" x2="65.30" y2="506.76" stroke="#40b070" stroke-width="1.4"/>
<text x="66.60" y="508.85" font-size="5.8" text-anchor="start" fill="#222" stroke="#222" stroke-width="0.162">35.4 °C</text>
<line x1="52.20" y1="514.40" x2="65.30" y2="514.40" stroke="#30a0e0" stroke-width="1.4"/>
<text x="66.60" y="516.49" font-size="5.8" text-anchor="start" fill="#222" stroke="#222" stroke-width="0.162">30.0 °C</text>
<rect x="49.50" y="409.50" width="135.00" height="109.00" stroke="#151515" stroke-width="1.15" fill="none"/>
<line x1="47.20" y1="439.00" x2="49.70" y2="439.00" stroke="#111" stroke-width="0.9"/>
<text x="46.60" y="441.95" font-size="8.2" text-anchor="end" fill="#000" stroke="#000" stroke-width="0.230">-50</text>
<line x1="47.20" y1="486.90" x2="49.70" y2="486.90" stroke="#111" stroke-width="0.9"/>
<text x="46.60" y="489.85" font-size="8.2" text-anchor="end" fill="#000" stroke="#000" stroke-width="0.230">-55</text>
<line x1="48.10" y1="462.95" x2="49.70" y2="462.95" stroke="#111" stroke-width="0.8"/>
<line x1="48.10" y1="510.85" x2="49.70" y2="510.85" stroke="#111" stroke-width="0.8"/>
<line x1="77.20" y1="518.00" x2="77.20" y2="520.50" stroke="#111" stroke-width="0.9"/>
<text x="77.20" y="528.75" font-size="8.2" text-anchor="middle" fill="#000" stroke="#000" stroke-width="0.230">1540</text>
<line x1="130.50" y1="518.00" x2="130.50" y2="520.50" stroke="#111" stroke-width="0.9"/>
<text x="130.50" y="528.75" font-size="8.2" text-anchor="middle" fill="#000" stroke="#000" stroke-width="0.230">1550</text>
<line x1="183.80" y1="518.00" x2="183.80" y2="520.50" stroke="#111" stroke-width="0.9"/>
<text x="183.80" y="528.75" font-size="8.2" text-anchor="middle" fill="#000" stroke="#000" stroke-width="0.230">1560</text>
<line x1="50.55" y1="518.00" x2="50.55" y2="519.60" stroke="#111" stroke-width="0.8"/>
<line x1="103.85" y1="518.00" x2="103.85" y2="519.60" stroke="#111" stroke-width="0.8"/>
<line x1="157.15" y1="518.00" x2="157.15" y2="519.60" stroke="#111" stroke-width="0.8"/>
<text x="116.50" y="539.00" font-size="8.3" text-anchor="middle" fill="#000" stroke="#000" stroke-width="0.232">Wavelength shift (nm)</text>
<g transform="translate(27.60 464.00) rotate(-90.00)"><text x="0" y="2.93" font-size="8.15" text-anchor="middle" fill="#000" stroke="#000" stroke-width="0.228">Reflection Intensity (dB)</text></g>
<text x="50.90" y="417.75" font-size="8.2" text-anchor="start" fill="#000" stroke="#000" stroke-width="0.230">PC_SPFPI</text>
<text x="29.00" y="406.80" font-size="13.8" text-anchor="start" fill="#000" stroke="#000" stroke-width="0.386">(i)</text>
<line x1="170.70" y1="475.70" x2="94.20" y2="475.70" stroke="#3838ff" stroke-width="1.7"/>
<polygon points="89.90,475.70 94.70,473.40 94.70,478.00" fill="#3838ff"/>
<text x="130.50" y="487.32" font-size="8.1" text-anchor="middle" fill="#2020ff" stroke="#2020ff" stroke-width="0.227">Blue shift</text>
<polyline points="221.88,505.86 222.38,505.58 222.89,505.30 223.39,505.02 223.89,504.73 224.39,504.45 224.90,504.17 225.40,503.88 225.90,503.60 226.40,503.31 226.91,503.02 227.41,502.74 227.91,502.45 228.41,502.16 228.91,501.87 229.42,501.58 229.92,501.29 230.42,501.00 230.93,500.71 231.43,500.42 231.93,500.13 232.43,499.83 232.94,499.54 233.44,499.24 233.94,498.95 234.44,498.65 234.94,498.36 235.45,498.06 235.95,497.76 236.45,497.46 236.96,497.16 237.46,496.86 237.96,496.56 238.46,496.26 238.97,495.96 239.47,495.66 239.97,495.36 240.47,495.05 240.97,494.75 241.48,494.45 241.98,494.14 242.48,493.83 242.99,493.53 243.49,493.22 243.99,492.91 244.49,492.60 245.00,492.29 245.50,491.98 246.00,491.67 246.50,491.36 247.00,491.05 247.51,490.74 248.01,490.43 248.51,490.11 249.02,489.80 249.52,489.48 250.02,489.17 250.52,488.85 251.03,488.54 251.53,488.22 252.03,487.90 252.53,487.58 253.03,487.26 253.54,486.94 254.04,486.62 254.54,486.30 255.05,485.98 255.55,485.66 256.05,485.33 256.55,485.01 257.06,484.69 257.56,484.36 258.06,484.04 258.56,483.71 259.06,483.38 259.57,483.06 260.07,482.73 260.57,482.40 261.07,482.07 261.58,481.74 262.08,481.41 262.58,481.08 263.08,480.75 263.59,480.41 264.09,480.08 264.59,479.75 265.10,479.41 265.60,479.08 266.10,478.74 266.60,478.40 267.11,478.07 267.61,477.73 268.11,477.39 268.61,477.05 269.12,476.71 269.62,476.37 270.12,476.03 270.62,475.69 271.12,475.35 271.63,475.01 272.13,474.66 272.63,474.32 273.13,473.97 273.64,473.63 274.14,473.28 274.64,472.94 275.14,472.59 275.65,472.24 276.15,471.89 276.65,471.55 277.15,471.20 277.66,470.85 278.16,470.49 278.66,470.14 279.17,469.79 279.67,469.44 280.17,469.09 280.67,468.73 281.18,468.38 281.68,468.02 282.18,467.67 282.68,467.31 283.19,466.95 283.69,466.59 284.19,466.24 284.69,465.88 285.19,465.52 285.70,465.16 286.20,464.80 286.70,464.43 287.20,464.07 287.71,463.71 288.21,463.35 288.71,462.98 289.21,462.62 289.72,462.25 290.22,461.89 290.72,461.52 291.23,461.15 291.73,460.78 292.23,460.41 292.73,460.05 293.24,459.68 293.74,459.31 294.24,458.93 294.74,458.56 295.25,458.19 295.75,457.82 296.25,457.44 296.75,457.07 297.25,456.69 297.76,456.32 298.26,455.94 298.76,455.57 299.26,455.19 299.77,454.81 300.27,454.43 300.77,454.05 301.27,453.67 301.78,453.29 302.28,452.91 302.78,452.53 303.28,452.15 303.79,451.76 304.29,451.38 304.79,451.00 305.30,450.61 305.80,450.23 306.30,449.84 306.80,449.45 307.31,449.06 307.81,448.68 308.31,448.29 308.81,447.90 309.31,447.51 309.82,447.12 310.32,446.73 310.82,446.33 311.32,445.94 311.83,445.55 312.33,445.15 312.83,444.76 313.33,444.37 313.84,443.97 314.34,443.57 314.84,443.18 315.35,442.78 315.85,442.38 316.35,441.98 316.85,441.58 317.36,441.18 317.86,440.78 318.36,440.38 318.86,439.98 319.37,439.57 319.87,439.17 320.37,438.77 320.87,438.36 321.38,437.96 321.88,437.55 322.38,437.15 322.88,436.74 323.38,436.33 323.89,435.92 324.39,435.51 324.89,435.10 325.39,434.69 325.90,434.28 326.40,433.87 326.90,433.46 327.40,433.05 327.91,432.63 328.41,432.22 328.91,431.80 329.41,431.39 329.92,430.97 330.42,430.56 330.92,430.14 331.43,429.72 331.93,429.30 332.43,428.88 332.93,428.46 333.44,428.04 333.94,427.62 334.44,427.20 334.94,426.78 335.44,426.36 335.95,425.93 336.45,425.51 336.95,425.08" fill="none" stroke="#ff2020" stroke-width="1.1" stroke-linejoin="round"/>
<polyline points="221.88,506.36 222.38,506.08 222.89,505.80 223.39,505.52 223.89,505.23 224.39,504.95 224.90,504.67 225.40,504.38 225.90,504.10 226.40,503.81 226.91,503.52 227.41,503.24 227.91,502.95 228.41,502.66 228.91,502.37 229.42,502.08 229.92,501.79 230.42,501.50 230.93,501.21 231.43,500.92 231.93,500.63 232.43,500.33 232.94,500.04 233.44,499.74 233.94,499.45 234.44,499.15 234.94,498.86 235.45,498.56 235.95,498.26 236.45,497.96 236.96,497.66 237.46,497.36 237.96,497.06 238.46,496.76 238.97,496.46 239.47,496.16 239.97,495.86 240.47,495.55 240.97,495.25 241.48,494.95 241.98,494.64 242.48,494.33 242.99,494.03 243.49,493.72 243.99,493.41 244.49,493.10 245.00,492.79 245.50,492.48 246.00,492.17 246.50,491.86 247.00,491.55 247.51,491.24 248.01,490.93 248.51,490.61 249.02,490.30 249.52,489.98 250.02,489.67 250.52,489.35 251.03,489.04 251.53,488.72 252.03,488.40 252.53,488.08 253.03,487.76 253.54,487.44 254.04,487.12 254.54,486.80 255.05,486.48 255.55,486.16 256.05,485.83 256.55,485.51 257.06,485.19 257.56,484.86 258.06,484.54 258.56,484.21 259.06,483.88 259.57,483.56 260.07,483.23 260.57,482.90 261.07,482.57 261.58,482.24 262.08,481.91 262.58,481.58 263.08,481.25 263.59,480.91 264.09,480.58 264.59,480.25 265.10,479.91 265.60,479.58 266.10,479.24 266.60,478.90 267.11,478.57 267.61,478.23 268.11,477.89 268.61,477.55 269.12,477.21 269.62,476.87 270.12,476.53 270.62,476.19 271.12,475.85 271.63,475.51 272.13,475.16 272.63,474.82 273.13,474.47 273.64,474.13 274.14,473.78 274.64,473.44 275.14,473.09 275.65,472.74 276.15,472.39 276.65,472.05 277.15,471.70 277.66,471.35 278.16,470.99 278.66,470.64 279.17,470.29 279.67,469.94 280.17,469.59 280.67,469.23 281.18,468.88 281.68,468.52 282.18,468.17 282.68,467.81 283.19,467.45 283.69,467.09 284.19,466.74 284.69,466.38 285.19,466.02 285.70,465.66 286.20,465.30 286.70,464.93 287.20,464.57 287.71,464.21 288.21,463.85 288.71,463.48 289.21,463.12 289.72,462.75 290.22,462.39 290.72,462.02 291.23,461.65 291.73,461.28 292.23,460.91 292.73,460.55 293.24,460.18 293.74,459.81 294.24,459.43 294.74,459.06 295.25,458.69 295.75,458.32 296.25,457.94 296.75,457.57 297.25,457.19 297.76,456.82 298.26,456.44 298.76,456.07 299.26,455.69 299.77,455.31 300.27,454.93 300.77,454.55 301.27,454.17 301.78,453.79 302.28,453.41 302.78,453.03 303.28,452.65 303.79,452.26 304.29,451.88 304.79,451.50 305.30,451.11 305.80,450.73 306.30,450.34 306.80,449.95 307.31,449.56 307.81,449.18 308.31,448.79 308.81,448.40 309.31,448.01 309.82,447.62 310.32,447.23 310.82,446.83 311.32,446.44 311.83,446.05 312.33,445.65 312.83,445.26 313.33,444.87 313.84,444.47 314.34,444.07 314.84,443.68 315.35,443.28 315.85,442.88 316.35,442.48 316.85,442.08 317.36,441.68 317.86,441.28 318.36,440.88 318.86,440.48 319.37,440.07 319.87,439.67 320.37,439.27 320.87,438.86 321.38,438.46 321.88,438.05 322.38,437.65 322.88,437.24 323.38,436.83 323.89,436.42 324.39,436.01 324.89,435.60 325.39,435.19 325.90,434.78 326.40,434.37 326.90,433.96 327.40,433.55 327.91,433.13 328.41,432.72 328.91,432.30 329.41,431.89 329.92,431.47 330.42,431.06 330.92,430.64 331.43,430.22 331.93,429.80 332.43,429.38 332.93,428.96 333.44,428.54 333.94,428.12 334.44,427.70 334.94,427.28 335.44,426.86 335.95,426.43 336.45,426.01 336.95,425.58" fill="none" stroke="#3030ff" stroke-width="0.9" stroke-linejoin="round"/>
<circle cx="222.89" cy="504.32" r="2.4" fill="url(#gk)"/>
<circle cx="227.81" cy="500.68" r="2.4" fill="url(#gk)"/>
<circle cx="232.73" cy="500.24" r="2.4" fill="url(#gk)"/>
<circle cx="237.66" cy="495.69" r="2.4" fill="url(#gk)"/>
<circle cx="242.58" cy="493.20" r="2.4" fill="url(#gk)"/>
<circle cx="247.51" cy="489.89" r="2.4" fill="url(#gk)"/>
<circle cx="252.43" cy="487.57" r="2.4" fill="url(#gk)"/>
<circle cx="257.36" cy="484.73" r="2.4" fill="url(#gk)"/>
<circle cx="262.28" cy="480.31" r="2.4" fill="url(#gk)"/>
<circle cx="267.21" cy="476.36" r="2.4" fill="url(#gk)"/>
<circle cx="272.13" cy="472.73" r="2.4" fill="url(#gk)"/>
<circle cx="277.05" cy="469.39" r="2.4" fill="url(#gk)"/>
<circle cx="281.98" cy="467.93" r="2.4" fill="url(#gk)"/>
<circle cx="286.90" cy="462.40" r="2.4" fill="url(#gk)"/>
<circle cx="291.83" cy="460.42" r="2.4" fill="url(#gk)"/>
<circle cx="296.75" cy="457.56" r="2.4" fill="url(#gk)"/>
<circle cx="301.68" cy="454.02" r="2.4" fill="url(#gk)"/>
<circle cx="306.60" cy="449.45" r="2.4" fill="url(#gk)"/>
<circle cx="311.53" cy="445.61" r="2.4" fill="url(#gk)"/>
<circle cx="316.45" cy="442.41" r="2.4" fill="url(#gk)"/>
<circle cx="321.38" cy="436.64" r="2.4" fill="url(#gk)"/>
<circle cx="326.30" cy="432.54" r="2.4" fill="url(#gk)"/>
<circle cx="331.22" cy="430.52" r="2.4" fill="url(#gk)"/>
<circle cx="336.15" cy="423.90" r="2.4" fill="url(#gk)"/>
<circle cx="224.09" cy="504.55" r="2.4" fill="url(#gr)"/>
<circle cx="229.02" cy="501.41" r="2.4" fill="url(#gr)"/>
<circle cx="233.94" cy="499.05" r="2.4" fill="url(#gr)"/>
<circle cx="238.86" cy="494.47" r="2.4" fill="url(#gr)"/>
<circle cx="243.79" cy="493.19" r="2.4" fill="url(#gr)"/>
<circle cx="248.71" cy="490.58" r="2.4" fill="url(#gr)"/>
<circle cx="253.64" cy="484.45" r="2.4" fill="url(#gr)"/>
<circle cx="258.56" cy="481.43" r="2.4" fill="url(#gr)"/>
<circle cx="263.49" cy="480.09" r="2.4" fill="url(#gr)"/>
<circle cx="268.41" cy="476.41" r="2.4" fill="url(#gr)"/>
<circle cx="273.34" cy="470.94" r="2.4" fill="url(#gr)"/>
<circle cx="278.26" cy="468.52" r="2.4" fill="url(#gr)"/>
<circle cx="283.19" cy="463.82" r="2.4" fill="url(#gr)"/>
<circle cx="288.11" cy="460.50" r="2.4" fill="url(#gr)"/>
<circle cx="293.03" cy="459.25" r="2.4" fill="url(#gr)"/>
<circle cx="297.96" cy="455.33" r="2.4" fill="url(#gr)"/>
<circle cx="302.88" cy="450.66" r="2.4" fill="url(#gr)"/>
<circle cx="307.81" cy="446.69" r="2.4" fill="url(#gr)"/>
<circle cx="312.73" cy="444.17" r="2.4" fill="url(#gr)"/>
<circle cx="317.66" cy="435.55" r="2.4" fill="url(#gr)"/>
<circle cx="322.58" cy="432.32" r="2.4" fill="url(#gr)"/>
<circle cx="327.51" cy="430.12" r="2.4" fill="url(#gr)"/>
<circle cx="332.43" cy="427.39" r="2.4" fill="url(#gr)"/>
<circle cx="337.35" cy="423.16" r="2.4" fill="url(#gr)"/>
<circle cx="222.08" cy="504.39" r="2.4" fill="url(#gb)"/>
<circle cx="227.01" cy="501.50" r="2.4" fill="url(#gb)"/>
<circle cx="231.93" cy="498.86" r="2.4" fill="url(#gb)"/>
<circle cx="236.85" cy="498.77" r="2.4" fill="url(#gb)"/>
<circle cx="241.78" cy="494.73" r="2.4" fill="url(#gb)"/>
<circle cx="246.70" cy="492.94" r="2.4" fill="url(#gb)"/>
<circle cx="251.63" cy="488.37" r="2.4" fill="url(#gb)"/>
<circle cx="256.55" cy="487.32" r="2.4" fill="url(#gb)"/>
<circle cx="261.48" cy="484.68" r="2.4" fill="url(#gb)"/>
<circle cx="266.40" cy="480.86" r="2.4" fill="url(#gb)"/>
<circle cx="271.33" cy="477.37" r="2.4" fill="url(#gb)"/>
<circle cx="276.25" cy="472.82" r="2.4" fill="url(#gb)"/>
<circle cx="281.18" cy="469.33" r="2.4" fill="url(#gb)"/>
<circle cx="286.10" cy="466.97" r="2.4" fill="url(#gb)"/>
<circle cx="291.02" cy="463.79" r="2.4" fill="url(#gb)"/>
<circle cx="295.95" cy="458.63" r="2.4" fill="url(#gb)"/>
<circle cx="300.87" cy="455.60" r="2.4" fill="url(#gb)"/>
<circle cx="305.80" cy="453.85" r="2.4" fill="url(#gb)"/>
<circle cx="310.72" cy="449.13" r="2.4" fill="url(#gb)"/>
<circle cx="315.65" cy="447.11" r="2.4" fill="url(#gb)"/>
<circle cx="320.57" cy="442.93" r="2.4" fill="url(#gb)"/>
<circle cx="325.50" cy="436.93" r="2.4" fill="url(#gb)"/>
<circle cx="330.42" cy="433.81" r="2.4" fill="url(#gb)"/>
<circle cx="335.34" cy="424.99" r="2.4" fill="url(#gb)"/>
<circle cx="262.48" cy="485.81" r="2.4" fill="url(#gb)"/>
<circle cx="336.75" cy="421.71" r="2.4" fill="url(#gb)"/>
<rect x="208.40" y="407.00" width="49.90" height="23.80" stroke="#aaa" stroke-width="0.6" fill="#fff"/>
<circle cx="216.40" cy="412.20" r="1.8" fill="url(#gk)"/>
<circle cx="216.40" cy="419.20" r="1.8" fill="url(#gr)"/>
<circle cx="216.40" cy="426.40" r="1.8" fill="url(#gb)"/>
<text x="222.60" y="414.07" font-size="5.2" fill="#111" stroke="#111" stroke-width="0.146" text-anchor="start" xml:space="preserve"><tspan>1</tspan><tspan font-size="3.43" dy="-1.87">st</tspan><tspan dy="1.87"> </tspan><tspan>R</tspan><tspan font-size="3.43" dy="-1.87">2</tspan><tspan dy="1.87"> </tspan><tspan>= 0.995</tspan></text>
<text x="222.60" y="421.07" font-size="5.2" fill="#111" stroke="#111" stroke-width="0.146" text-anchor="start" xml:space="preserve"><tspan>2</tspan><tspan font-size="3.43" dy="-1.87">nd</tspan><tspan dy="1.87"> </tspan><tspan>R</tspan><tspan font-size="3.43" dy="-1.87">2</tspan><tspan dy="1.87"> </tspan><tspan>= 0.992</tspan></text>
<text x="222.60" y="428.27" font-size="5.2" fill="#111" stroke="#111" stroke-width="0.146" text-anchor="start" xml:space="preserve"><tspan>3</tspan><tspan font-size="3.43" dy="-1.87">rd</tspan><tspan dy="1.87"> </tspan><tspan>R</tspan><tspan font-size="3.43" dy="-1.87">2</tspan><tspan dy="1.87"> </tspan><tspan>= 0.995</tspan></text>
<rect x="208.50" y="407.50" width="138.00" height="109.00" stroke="#151515" stroke-width="1.15" fill="none"/>
<line x1="205.90" y1="506.00" x2="208.40" y2="506.00" stroke="#111" stroke-width="0.9"/>
<text x="205.30" y="509.06" font-size="8.5" text-anchor="end" fill="#000" stroke="#000" stroke-width="0.238">0</text>
<line x1="205.90" y1="462.10" x2="208.40" y2="462.10" stroke="#111" stroke-width="0.9"/>
<text x="205.30" y="465.16" font-size="8.5" text-anchor="end" fill="#000" stroke="#000" stroke-width="0.238">10</text>
<line x1="205.90" y1="418.20" x2="208.40" y2="418.20" stroke="#111" stroke-width="0.9"/>
<text x="205.30" y="421.26" font-size="8.5" text-anchor="end" fill="#000" stroke="#000" stroke-width="0.238">20</text>
<line x1="206.80" y1="484.05" x2="208.40" y2="484.05" stroke="#111" stroke-width="0.8"/>
<line x1="206.80" y1="440.15" x2="208.40" y2="440.15" stroke="#111" stroke-width="0.8"/>
<line x1="225.90" y1="516.80" x2="225.90" y2="519.30" stroke="#111" stroke-width="0.9"/>
<text x="225.90" y="527.89" font-size="8.3" text-anchor="middle" fill="#000" stroke="#000" stroke-width="0.232">30</text>
<line x1="256.05" y1="516.80" x2="256.05" y2="519.30" stroke="#111" stroke-width="0.9"/>
<text x="256.05" y="527.89" font-size="8.3" text-anchor="middle" fill="#000" stroke="#000" stroke-width="0.232">60</text>
<line x1="286.20" y1="516.80" x2="286.20" y2="519.30" stroke="#111" stroke-width="0.9"/>
<text x="286.20" y="527.89" font-size="8.3" text-anchor="middle" fill="#000" stroke="#000" stroke-width="0.232">90</text>
<line x1="316.35" y1="516.80" x2="316.35" y2="519.30" stroke="#111" stroke-width="0.9"/>
<text x="316.35" y="527.89" font-size="8.3" text-anchor="middle" fill="#000" stroke="#000" stroke-width="0.232">120</text>
<line x1="346.50" y1="516.80" x2="346.50" y2="519.30" stroke="#111" stroke-width="0.9"/>
<text x="346.50" y="527.89" font-size="8.3" text-anchor="middle" fill="#000" stroke="#000" stroke-width="0.232">150</text>
<line x1="240.97" y1="516.80" x2="240.97" y2="518.40" stroke="#111" stroke-width="0.8"/>
<line x1="271.12" y1="516.80" x2="271.12" y2="518.40" stroke="#111" stroke-width="0.8"/>
<line x1="301.27" y1="516.80" x2="301.27" y2="518.40" stroke="#111" stroke-width="0.8"/>
<line x1="331.43" y1="516.80" x2="331.43" y2="518.40" stroke="#111" stroke-width="0.8"/>
<text x="277.50" y="537.80" font-size="8.5" text-anchor="middle" fill="#000" stroke="#000" stroke-width="0.238">Temperature (·C)</text>
<g transform="translate(188.40 467.30) rotate(-90.00)"><text x="0" y="2.88" font-size="8.0" text-anchor="middle" fill="#000" stroke="#000" stroke-width="0.224">Wavelength shift (nm)</text></g>
<text x="345.20" y="514.26" font-size="9.6" text-anchor="end" fill="#000" stroke="#000" stroke-width="0.269">PC_SPFPI</text>
<text x="189.50" y="409.80" font-size="13.8" text-anchor="start" fill="#000" stroke="#000" stroke-width="0.386">(j)</text>
<circle cx="387.76" cy="501.12" r="2.0" fill="none" stroke="#f07070" stroke-width="0.8"/>
<circle cx="392.46" cy="501.12" r="2.0" fill="none" stroke="#f07070" stroke-width="0.8"/>
<circle cx="397.15" cy="498.83" r="2.0" fill="none" stroke="#f07070" stroke-width="0.8"/>
<circle cx="401.85" cy="496.85" r="2.0" fill="none" stroke="#f07070" stroke-width="0.8"/>
<circle cx="406.54" cy="491.30" r="2.0" fill="none" stroke="#f07070" stroke-width="0.8"/>
<circle cx="411.23" cy="488.04" r="2.0" fill="none" stroke="#f07070" stroke-width="0.8"/>
<circle cx="415.93" cy="484.99" r="2.0" fill="none" stroke="#f07070" stroke-width="0.8"/>
<circle cx="420.62" cy="480.53" r="2.0" fill="none" stroke="#f07070" stroke-width="0.8"/>
<circle cx="425.32" cy="477.72" r="2.0" fill="none" stroke="#f07070" stroke-width="0.8"/>
<circle cx="430.01" cy="473.33" r="2.0" fill="none" stroke="#f07070" stroke-width="0.8"/>
<circle cx="434.70" cy="470.32" r="2.0" fill="none" stroke="#f07070" stroke-width="0.8"/>
<circle cx="439.40" cy="466.61" r="2.0" fill="none" stroke="#f07070" stroke-width="0.8"/>
<circle cx="444.09" cy="462.34" r="2.0" fill="none" stroke="#f07070" stroke-width="0.8"/>
<circle cx="448.79" cy="457.96" r="2.0" fill="none" stroke="#f07070" stroke-width="0.8"/>
<circle cx="453.48" cy="455.59" r="2.0" fill="none" stroke="#f07070" stroke-width="0.8"/>
<circle cx="458.18" cy="451.77" r="2.0" fill="none" stroke="#f07070" stroke-width="0.8"/>
<circle cx="462.87" cy="447.41" r="2.0" fill="none" stroke="#f07070" stroke-width="0.8"/>
<circle cx="467.56" cy="443.19" r="2.0" fill="none" stroke="#f07070" stroke-width="0.8"/>
<circle cx="472.26" cy="440.22" r="2.0" fill="none" stroke="#f07070" stroke-width="0.8"/>
<circle cx="476.95" cy="436.88" r="2.0" fill="none" stroke="#f07070" stroke-width="0.8"/>
<circle cx="481.65" cy="432.14" r="2.0" fill="none" stroke="#f07070" stroke-width="0.8"/>
<circle cx="486.34" cy="430.09" r="2.0" fill="none" stroke="#f07070" stroke-width="0.8"/>
<circle cx="491.04" cy="424.71" r="2.0" fill="none" stroke="#f07070" stroke-width="0.8"/>
<circle cx="495.73" cy="421.47" r="2.0" fill="none" stroke="#f07070" stroke-width="0.8"/>
<circle cx="495.54" cy="420.04" r="2.0" fill="none" stroke="#f07070" stroke-width="0.8"/>
<circle cx="386.33" cy="500.67" r="2.0" fill="none" stroke="#7070f0" stroke-width="0.8"/>
<circle cx="391.02" cy="500.67" r="2.0" fill="none" stroke="#7070f0" stroke-width="0.8"/>
<circle cx="395.71" cy="497.42" r="2.0" fill="none" stroke="#7070f0" stroke-width="0.8"/>
<circle cx="400.41" cy="493.49" r="2.0" fill="none" stroke="#7070f0" stroke-width="0.8"/>
<circle cx="405.10" cy="491.71" r="2.0" fill="none" stroke="#7070f0" stroke-width="0.8"/>
<circle cx="409.80" cy="489.87" r="2.0" fill="none" stroke="#7070f0" stroke-width="0.8"/>
<circle cx="414.49" cy="486.97" r="2.0" fill="none" stroke="#7070f0" stroke-width="0.8"/>
<circle cx="419.19" cy="484.58" r="2.0" fill="none" stroke="#7070f0" stroke-width="0.8"/>
<circle cx="423.88" cy="481.28" r="2.0" fill="none" stroke="#7070f0" stroke-width="0.8"/>
<circle cx="428.57" cy="479.07" r="2.0" fill="none" stroke="#7070f0" stroke-width="0.8"/>
<circle cx="433.27" cy="475.86" r="2.0" fill="none" stroke="#7070f0" stroke-width="0.8"/>
<circle cx="437.96" cy="472.26" r="2.0" fill="none" stroke="#7070f0" stroke-width="0.8"/>
<circle cx="442.66" cy="467.93" r="2.0" fill="none" stroke="#7070f0" stroke-width="0.8"/>
<circle cx="447.35" cy="464.78" r="2.0" fill="none" stroke="#7070f0" stroke-width="0.8"/>
<circle cx="452.04" cy="461.25" r="2.0" fill="none" stroke="#7070f0" stroke-width="0.8"/>
<circle cx="456.74" cy="456.88" r="2.0" fill="none" stroke="#7070f0" stroke-width="0.8"/>
<circle cx="461.43" cy="453.12" r="2.0" fill="none" stroke="#7070f0" stroke-width="0.8"/>
<circle cx="466.13" cy="449.26" r="2.0" fill="none" stroke="#7070f0" stroke-width="0.8"/>
<circle cx="470.82" cy="444.12" r="2.0" fill="none" stroke="#7070f0" stroke-width="0.8"/>
<circle cx="475.52" cy="439.94" r="2.0" fill="none" stroke="#7070f0" stroke-width="0.8"/>
<circle cx="480.21" cy="436.30" r="2.0" fill="none" stroke="#7070f0" stroke-width="0.8"/>
<circle cx="484.90" cy="431.16" r="2.0" fill="none" stroke="#7070f0" stroke-width="0.8"/>
<circle cx="489.60" cy="426.63" r="2.0" fill="none" stroke="#7070f0" stroke-width="0.8"/>
<circle cx="494.29" cy="421.72" r="2.0" fill="none" stroke="#7070f0" stroke-width="0.8"/>
<circle cx="422.25" cy="484.36" r="2.0" fill="none" stroke="#7070f0" stroke-width="0.8"/>
<circle cx="495.06" cy="418.68" r="2.0" fill="none" stroke="#7070f0" stroke-width="0.8"/>
<polygon points="383.00,502.23 380.25,507.18 385.75,507.18" fill="#ff00ff"/>
<polygon points="383.00,508.17 380.25,503.22 385.75,503.22" fill="#9010ff"/>
<polygon points="387.70,502.23 384.95,507.18 390.45,507.18" fill="#ff00ff"/>
<polygon points="387.70,508.17 384.95,503.22 390.45,503.22" fill="#9010ff"/>
<polygon points="392.40,502.23 389.65,507.18 395.15,507.18" fill="#ff00ff"/>
<polygon points="392.40,508.17 389.65,503.22 395.15,503.22" fill="#9010ff"/>
<polygon points="397.10,502.23 394.35,507.18 399.85,507.18" fill="#ff00ff"/>
<polygon points="397.10,508.17 394.35,503.22 399.85,503.22" fill="#9010ff"/>
<polygon points="401.80,502.23 399.05,507.18 404.55,507.18" fill="#ff00ff"/>
<polygon points="401.80,508.17 399.05,503.22 404.55,503.22" fill="#9010ff"/>
<polygon points="406.50,502.23 403.75,507.18 409.25,507.18" fill="#ff00ff"/>
<polygon points="406.50,508.17 403.75,503.22 409.25,503.22" fill="#9010ff"/>
<polygon points="411.20,502.23 408.45,507.18 413.95,507.18" fill="#ff00ff"/>
<polygon points="411.20,508.17 408.45,503.22 413.95,503.22" fill="#9010ff"/>
<polygon points="416.90,502.23 414.15,507.18 419.65,507.18" fill="#ff00ff"/>
<polygon points="416.90,508.17 414.15,503.22 419.65,503.22" fill="#9010ff"/>
<polygon points="421.50,502.23 418.75,507.18 424.25,507.18" fill="#ff00ff"/>
<polygon points="421.50,508.17 418.75,503.22 424.25,503.22" fill="#9010ff"/>
<polygon points="426.10,502.23 423.35,507.18 428.85,507.18" fill="#ff00ff"/>
<polygon points="426.10,508.17 423.35,503.22 428.85,503.22" fill="#9010ff"/>
<polygon points="430.70,502.23 427.95,507.18 433.45,507.18" fill="#ff00ff"/>
<polygon points="430.70,508.17 427.95,503.22 433.45,503.22" fill="#9010ff"/>
<polygon points="435.30,502.23 432.55,507.18 438.05,507.18" fill="#ff00ff"/>
<polygon points="435.30,508.17 432.55,503.22 438.05,503.22" fill="#9010ff"/>
<polygon points="439.90,502.23 437.15,507.18 442.65,507.18" fill="#ff00ff"/>
<polygon points="439.90,508.17 437.15,503.22 442.65,503.22" fill="#9010ff"/>
<polygon points="444.50,502.02 441.75,506.97 447.25,506.97" fill="#ff00ff"/>
<polygon points="444.50,507.96 441.75,503.01 447.25,503.01" fill="#9010ff"/>
<polygon points="449.10,501.80 446.35,506.75 451.85,506.75" fill="#ff00ff"/>
<polygon points="449.10,507.74 446.35,502.79 451.85,502.79" fill="#9010ff"/>
<polygon points="453.70,501.58 450.95,506.53 456.45,506.53" fill="#ff00ff"/>
<polygon points="453.70,507.52 450.95,502.57 456.45,502.57" fill="#9010ff"/>
<polygon points="458.30,501.36 455.55,506.31 461.05,506.31" fill="#ff00ff"/>
<polygon points="458.30,507.30 455.55,502.35 461.05,502.35" fill="#9010ff"/>
<polygon points="462.90,501.15 460.15,506.10 465.65,506.10" fill="#ff00ff"/>
<polygon points="462.90,507.09 460.15,502.14 465.65,502.14" fill="#9010ff"/>
<polygon points="467.50,500.93 464.75,505.88 470.25,505.88" fill="#ff00ff"/>
<polygon points="467.50,506.87 464.75,501.92 470.25,501.92" fill="#9010ff"/>
<polygon points="472.10,500.71 469.35,505.66 474.85,505.66" fill="#ff00ff"/>
<polygon points="472.10,506.65 469.35,501.70 474.85,501.70" fill="#9010ff"/>
<polygon points="476.70,500.50 473.95,505.45 479.45,505.45" fill="#ff00ff"/>
<polygon points="476.70,506.44 473.95,501.49 479.45,501.49" fill="#9010ff"/>
<polygon points="481.30,500.28 478.55,505.23 484.05,505.23" fill="#ff00ff"/>
<polygon points="481.30,506.22 478.55,501.27 484.05,501.27" fill="#9010ff"/>
<polygon points="485.90,500.06 483.15,505.01 488.65,505.01" fill="#ff00ff"/>
<polygon points="485.90,506.00 483.15,501.05 488.65,501.05" fill="#9010ff"/>
<polygon points="490.50,499.84 487.75,504.79 493.25,504.79" fill="#ff00ff"/>
<polygon points="490.50,505.78 487.75,500.83 493.25,500.83" fill="#9010ff"/>
<polygon points="495.10,499.63 492.35,504.58 497.85,504.58" fill="#ff00ff"/>
<polygon points="495.10,505.57 492.35,500.62 497.85,500.62" fill="#9010ff"/>
<rect x="369.40" y="403.60" width="45.20" height="27.80" stroke="#aaa" stroke-width="0.6" fill="#fff"/>
<circle cx="377.70" cy="408.40" r="1.8" fill="none" stroke="#f07070" stroke-width="0.7"/>
<circle cx="377.70" cy="414.80" r="1.8" fill="none" stroke="#7070f0" stroke-width="0.7"/>
<polygon points="377.70,418.84 375.70,422.44 379.70,422.44" fill="#ff00ff"/>
<polygon points="377.70,429.86 375.70,426.26 379.70,426.26" fill="#8000ff"/>
<text x="382.60" y="410.42" font-size="5.6" text-anchor="start" fill="#333" stroke="#333" stroke-width="0.157" textLength="29.6" lengthAdjust="spacingAndGlyphs">Heating PC</text>
<text x="382.60" y="416.82" font-size="5.6" text-anchor="start" fill="#333" stroke="#333" stroke-width="0.157" textLength="29.6" lengthAdjust="spacingAndGlyphs">Cooling PC</text>
<text x="382.60" y="423.02" font-size="5.6" text-anchor="start" fill="#333" stroke="#333" stroke-width="0.157" textLength="31.2" lengthAdjust="spacingAndGlyphs">Heating SMF</text>
<text x="382.60" y="429.72" font-size="5.6" text-anchor="start" fill="#333" stroke="#333" stroke-width="0.157" textLength="31.2" lengthAdjust="spacingAndGlyphs">Cooling SMF</text>
<rect x="369.50" y="403.50" width="136.00" height="112.00" stroke="#151515" stroke-width="1.15" fill="none"/>
<line x1="366.90" y1="505.20" x2="369.40" y2="505.20" stroke="#111" stroke-width="0.9"/>
<text x="366.30" y="508.26" font-size="8.5" text-anchor="end" fill="#000" stroke="#000" stroke-width="0.238">0</text>
<line x1="366.90" y1="459.90" x2="369.40" y2="459.90" stroke="#111" stroke-width="0.9"/>
<text x="366.30" y="462.96" font-size="8.5" text-anchor="end" fill="#000" stroke="#000" stroke-width="0.238">10</text>
<line x1="366.90" y1="414.60" x2="369.40" y2="414.60" stroke="#111" stroke-width="0.9"/>
<text x="366.30" y="417.66" font-size="8.5" text-anchor="end" fill="#000" stroke="#000" stroke-width="0.238">20</text>
<line x1="367.80" y1="482.55" x2="369.40" y2="482.55" stroke="#111" stroke-width="0.8"/>
<line x1="367.80" y1="437.25" x2="369.40" y2="437.25" stroke="#111" stroke-width="0.8"/>
<line x1="389.20" y1="515.80" x2="389.20" y2="518.30" stroke="#111" stroke-width="0.9"/>
<text x="389.20" y="527.49" font-size="8.3" text-anchor="middle" fill="#000" stroke="#000" stroke-width="0.232">30</text>
<line x1="417.94" y1="515.80" x2="417.94" y2="518.30" stroke="#111" stroke-width="0.9"/>
<text x="417.94" y="527.49" font-size="8.3" text-anchor="middle" fill="#000" stroke="#000" stroke-width="0.232">60</text>
<line x1="446.68" y1="515.80" x2="446.68" y2="518.30" stroke="#111" stroke-width="0.9"/>
<text x="446.68" y="527.49" font-size="8.3" text-anchor="middle" fill="#000" stroke="#000" stroke-width="0.232">90</text>
<line x1="475.42" y1="515.80" x2="475.42" y2="518.30" stroke="#111" stroke-width="0.9"/>
<text x="475.42" y="527.49" font-size="8.3" text-anchor="middle" fill="#000" stroke="#000" stroke-width="0.232">120</text>
<line x1="504.16" y1="515.80" x2="504.16" y2="518.30" stroke="#111" stroke-width="0.9"/>
<text x="504.16" y="527.49" font-size="8.3" text-anchor="middle" fill="#000" stroke="#000" stroke-width="0.232">150</text>
<line x1="403.57" y1="515.80" x2="403.57" y2="517.40" stroke="#111" stroke-width="0.8"/>
<line x1="432.31" y1="515.80" x2="432.31" y2="517.40" stroke="#111" stroke-width="0.8"/>
<line x1="461.05" y1="515.80" x2="461.05" y2="517.40" stroke="#111" stroke-width="0.8"/>
<line x1="489.79" y1="515.80" x2="489.79" y2="517.40" stroke="#111" stroke-width="0.8"/>
<text x="437.60" y="540.80" font-size="8.2" text-anchor="middle" fill="#000" stroke="#000" stroke-width="0.230">Temperature (·C)</text>
<g transform="translate(350.90 466.40) rotate(-90.00)"><text x="0" y="2.88" font-size="8.0" text-anchor="middle" fill="#000" stroke="#000" stroke-width="0.224">Wavelength shift (nm)</text></g>
<text x="505.00" y="413.26" font-size="9.6" text-anchor="end" fill="#000" stroke="#000" stroke-width="0.269">PC_SPFPI</text>
<text x="350.40" y="405.00" font-size="14.8" text-anchor="start" fill="#000" stroke="#000" stroke-width="0.414">(k)</text>
<line x1="433.70" y1="464.00" x2="461.25" y2="442.60" stroke="#ff2020" stroke-width="1.0"/>
<polygon points="463.70,440.70 461.84,444.17 459.88,441.64" fill="#ff2020"/>
<text x="453.30" y="436.52" font-size="5.6" text-anchor="middle" fill="#ff2020" stroke="#ff2020" stroke-width="0.157">Heating</text>
<line x1="473.00" y1="455.50" x2="450.47" y2="478.58" stroke="#2020ff" stroke-width="1.0"/>
<polygon points="448.30,480.80 449.67,477.11 451.96,479.34" fill="#2020ff"/>
<text x="485.00" y="453.46" font-size="6.0" text-anchor="middle" fill="#2020ff" stroke="#2020ff" stroke-width="0.168">Cooling</text>
<line x1="440.70" y1="497.30" x2="467.50" y2="497.30" stroke="#ff20ff" stroke-width="0.9"/>
<polygon points="470.20,497.30 467.00,498.70 467.00,495.90" fill="#ff20ff"/>
<text x="484.70" y="496.89" font-size="5.8" text-anchor="middle" fill="#ff30ff" stroke="#ff30ff" stroke-width="0.162">Heating</text>
<line x1="477.20" y1="509.40" x2="449.00" y2="509.40" stroke="#a030ff" stroke-width="0.9"/>
<polygon points="446.30,509.40 449.50,508.00 449.50,510.80" fill="#a030ff"/>
<text x="491.20" y="510.89" font-size="5.8" text-anchor="middle" fill="#a030ff" stroke="#a030ff" stroke-width="0.162">Cooling</text>
</svg>
</body></html>
